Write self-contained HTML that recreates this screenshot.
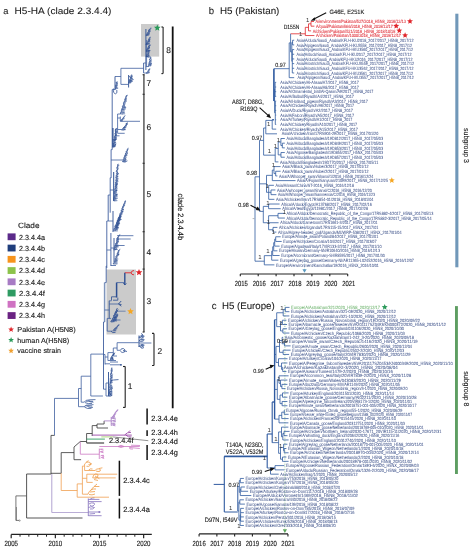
<!DOCTYPE html><html><head><meta charset="utf-8"><style>html,body{margin:0;padding:0;background:#fff;}svg{display:block;}</style></head><body><svg width="473" height="550" viewBox="0 0 473 550" font-family="&quot;Liberation Sans&quot;, Arial, sans-serif" text-rendering="geometricPrecision"><rect width="473" height="550" fill="#ffffff"/><text x="3.2" y="13.7" font-size="9.3" fill="#1a1a1a" stroke="#1a1a1a" stroke-width="0.08">a</text><text x="14.6" y="13.7" font-size="9.3" fill="#1a1a1a" textLength="96.8" lengthAdjust="spacingAndGlyphs" stroke="#1a1a1a" stroke-width="0.08">H5-HA (clade 2.3.4.4)</text><rect x="141" y="24" width="18.2" height="32.6" fill="#cbcbcb"/><rect x="106.5" y="269.5" width="29.5" height="65" fill="#cbcbcb"/><line x1="143.9" y1="74.7" x2="143.9" y2="332" stroke="#6e6e6e" stroke-width="1.7"/><line x1="142.6" y1="74.7" x2="144.6" y2="74.7" stroke="#333" stroke-width="1.2"/><line x1="142.6" y1="94.3" x2="144.6" y2="94.3" stroke="#333" stroke-width="1.2"/><line x1="142.6" y1="163.3" x2="144.6" y2="163.3" stroke="#333" stroke-width="1.2"/><line x1="142.6" y1="231.7" x2="144.6" y2="231.7" stroke="#333" stroke-width="1.2"/><line x1="142.6" y1="269.1" x2="144.6" y2="269.1" stroke="#333" stroke-width="1.2"/><line x1="142.6" y1="332" x2="144.6" y2="332" stroke="#333" stroke-width="1.2"/><text x="146.6" y="86.2" font-size="8.4" fill="#1a1a1a" stroke="#1a1a1a" stroke-width="0.1">7</text><text x="146.6" y="129.5" font-size="8.4" fill="#1a1a1a" stroke="#1a1a1a" stroke-width="0.1">6</text><text x="146.6" y="197" font-size="8.4" fill="#1a1a1a" stroke="#1a1a1a" stroke-width="0.1">5</text><text x="146.6" y="255.4" font-size="8.4" fill="#1a1a1a" stroke="#1a1a1a" stroke-width="0.1">4</text><text x="146.6" y="303.5" font-size="8.4" fill="#1a1a1a" stroke="#1a1a1a" stroke-width="0.1">3</text><line x1="163.1" y1="27" x2="163.1" y2="73.6" stroke="#222" stroke-width="1.1"/><line x1="161.4" y1="27" x2="163.1" y2="27" stroke="#222" stroke-width="1.1"/><line x1="161.4" y1="73.6" x2="163.1" y2="73.6" stroke="#222" stroke-width="1.1"/><text x="166.3" y="52.8" font-size="8.4" fill="#1a1a1a" stroke="#1a1a1a" stroke-width="0.1">8</text><line x1="154" y1="333.4" x2="154" y2="365.5" stroke="#222" stroke-width="1.1"/><line x1="152" y1="333.4" x2="154" y2="333.4" stroke="#222" stroke-width="1.1"/><line x1="152" y1="365.5" x2="154" y2="365.5" stroke="#222" stroke-width="1.1"/><text x="157.4" y="353.8" font-size="8.4" fill="#1a1a1a" stroke="#1a1a1a" stroke-width="0.1">2</text><line x1="125.2" y1="366.5" x2="125.2" y2="407.4" stroke="#222" stroke-width="1.1"/><line x1="123" y1="366.5" x2="125.2" y2="366.5" stroke="#222" stroke-width="1.1"/><line x1="123" y1="407.4" x2="125.2" y2="407.4" stroke="#222" stroke-width="1.1"/><text x="127.8" y="389.1" font-size="8.4" fill="#1a1a1a" stroke="#1a1a1a" stroke-width="0.1">1</text><line x1="172.7" y1="26.4" x2="172.7" y2="408.2" stroke="#111" stroke-width="1.8"/><text x="0" y="0" font-size="7.8" fill="#1a1a1a" textLength="46.4" lengthAdjust="spacingAndGlyphs" stroke="#1a1a1a" stroke-width="0.15" transform="translate(178.2 193.6) rotate(90)">clade 2.3.4.4b</text><line x1="147.1" y1="408.6" x2="147.1" y2="424.4" stroke="#111" stroke-width="1.5"/><line x1="147.1" y1="430.3" x2="147.1" y2="436" stroke="#111" stroke-width="1.5"/><line x1="147.1" y1="445.1" x2="147.1" y2="459.9" stroke="#111" stroke-width="1.5"/><line x1="119.4" y1="460.7" x2="119.4" y2="495.9" stroke="#111" stroke-width="1.5"/><line x1="119.4" y1="498.6" x2="119.4" y2="518.5" stroke="#111" stroke-width="1.5"/><text x="151.3" y="421.2" font-size="7.6" fill="#1a1a1a" textLength="26.6" lengthAdjust="spacingAndGlyphs" stroke="#1a1a1a" stroke-width="0.15">2.3.4.4e</text><text x="151.3" y="434.5" font-size="7.6" fill="#1a1a1a" textLength="26.6" lengthAdjust="spacingAndGlyphs" stroke="#1a1a1a" stroke-width="0.15">2.3.4.4h</text><text x="151.3" y="444.1" font-size="7.6" fill="#1a1a1a" textLength="26.6" lengthAdjust="spacingAndGlyphs" stroke="#1a1a1a" stroke-width="0.15">2.3.4.4d</text><text x="151.3" y="454.5" font-size="7.6" fill="#1a1a1a" textLength="26.6" lengthAdjust="spacingAndGlyphs" stroke="#1a1a1a" stroke-width="0.15">2.3.4.4g</text><text x="123.2" y="483.1" font-size="7.6" fill="#1a1a1a" textLength="26.6" lengthAdjust="spacingAndGlyphs" stroke="#1a1a1a" stroke-width="0.15">2.3.4.4c</text><text x="123.2" y="511.7" font-size="7.6" fill="#1a1a1a" textLength="26.6" lengthAdjust="spacingAndGlyphs" stroke="#1a1a1a" stroke-width="0.15">2.3.4.4a</text><line x1="112.8" y1="436.9" x2="148.3" y2="440.7" stroke="#666" stroke-width="0.7"/><line x1="145.9" y1="29" x2="145.9" y2="70" stroke="#2d4f92" stroke-width="0.9"/><line x1="146.6" y1="40" x2="146.6" y2="66" stroke="#3f5f9f" stroke-width="0.7"/><line x1="146.26" y1="35.5" x2="149.54" y2="34.76" stroke="#2d4f92" stroke-width="0.6375"/><line x1="146.26" y1="35.5" x2="146.87" y2="34.5" stroke="#2d4f92" stroke-width="0.75"/><line x1="146.87" y1="34.5" x2="149.28" y2="34.27" stroke="#2d4f92" stroke-width="0.6375"/><line x1="146.87" y1="34.5" x2="147.06" y2="33.5" stroke="#2d4f92" stroke-width="0.75"/><line x1="147.06" y1="33.5" x2="149.99" y2="33.35" stroke="#2d4f92" stroke-width="0.6375"/><line x1="148.23" y1="33.82" x2="149.13" y2="33.1" stroke="#2d4f92" stroke-width="0.6000000000000001"/><line x1="147.06" y1="33.5" x2="147.69" y2="32.5" stroke="#2d4f92" stroke-width="0.75"/><line x1="147.69" y1="32.5" x2="150.06" y2="32.33" stroke="#2d4f92" stroke-width="0.6375"/><line x1="148.64" y1="32.27" x2="149.26" y2="31.22" stroke="#2d4f92" stroke-width="0.6000000000000001"/><line x1="147.69" y1="32.5" x2="148.52" y2="31.5" stroke="#2d4f92" stroke-width="0.75"/><line x1="148.52" y1="31.5" x2="150.88" y2="31.18" stroke="#2d4f92" stroke-width="0.6375"/><line x1="149.46" y1="31.41" x2="150.41" y2="30.51" stroke="#2d4f92" stroke-width="0.6000000000000001"/><line x1="148.52" y1="31.5" x2="148.52" y2="30.5" stroke="#2d4f92" stroke-width="0.75"/><line x1="148.52" y1="30.5" x2="150.08" y2="30.22" stroke="#2d4f92" stroke-width="0.6375"/><line x1="149.15" y1="30.75" x2="149.66" y2="29.94" stroke="#2d4f92" stroke-width="0.6000000000000001"/><line x1="148.52" y1="30.5" x2="149.18" y2="29.5" stroke="#2d4f92" stroke-width="0.75"/><line x1="149.18" y1="29.5" x2="149.98" y2="29.45" stroke="#2d4f92" stroke-width="0.6375"/><line x1="149.5" y1="29.72" x2="150.8" y2="29.1" stroke="#2d4f92" stroke-width="0.6000000000000001"/><line x1="149.18" y1="29.5" x2="150.12" y2="28.5" stroke="#2d4f92" stroke-width="0.75"/><line x1="150.12" y1="28.5" x2="150.92" y2="27.8" stroke="#2d4f92" stroke-width="0.6375"/><line x1="150.44" y1="28.94" x2="151.7" y2="28.03" stroke="#2d4f92" stroke-width="0.6000000000000001"/><line x1="145.9" y1="35" x2="148.5" y2="35" stroke="#2d4f92" stroke-width="0.8"/><line x1="145.92" y1="44.5" x2="149.3" y2="43.93" stroke="#2d4f92" stroke-width="0.6375"/><line x1="145.92" y1="44.5" x2="146.58" y2="43.5" stroke="#2d4f92" stroke-width="0.75"/><line x1="146.58" y1="43.5" x2="149.87" y2="43.47" stroke="#2d4f92" stroke-width="0.6375"/><line x1="146.58" y1="43.5" x2="147.24" y2="42.5" stroke="#2d4f92" stroke-width="0.75"/><line x1="147.24" y1="42.5" x2="150.25" y2="41.91" stroke="#2d4f92" stroke-width="0.6375"/><line x1="148.44" y1="42.17" x2="149.09" y2="41.14" stroke="#2d4f92" stroke-width="0.6000000000000001"/><line x1="147.24" y1="42.5" x2="147.77" y2="41.5" stroke="#2d4f92" stroke-width="0.75"/><line x1="147.77" y1="41.5" x2="150.14" y2="41.1" stroke="#2d4f92" stroke-width="0.6375"/><line x1="148.71" y1="41.54" x2="149.37" y2="40.68" stroke="#2d4f92" stroke-width="0.6000000000000001"/><line x1="147.77" y1="41.5" x2="148.19" y2="40.5" stroke="#2d4f92" stroke-width="0.75"/><line x1="148.19" y1="40.5" x2="150.05" y2="40.43" stroke="#2d4f92" stroke-width="0.6375"/><line x1="148.93" y1="40.73" x2="149.99" y2="39.75" stroke="#2d4f92" stroke-width="0.6000000000000001"/><line x1="148.19" y1="40.5" x2="148.5" y2="39.5" stroke="#2d4f92" stroke-width="0.75"/><line x1="148.5" y1="39.5" x2="150.33" y2="39.37" stroke="#2d4f92" stroke-width="0.6375"/><line x1="149.23" y1="39.61" x2="150.43" y2="38.92" stroke="#2d4f92" stroke-width="0.6000000000000001"/><line x1="148.5" y1="39.5" x2="149.08" y2="38.5" stroke="#2d4f92" stroke-width="0.75"/><line x1="149.08" y1="38.5" x2="150.37" y2="37.79" stroke="#2d4f92" stroke-width="0.6375"/><line x1="149.08" y1="38.5" x2="149.61" y2="37.5" stroke="#2d4f92" stroke-width="0.75"/><line x1="149.61" y1="37.5" x2="150.77" y2="37.14" stroke="#2d4f92" stroke-width="0.6375"/><line x1="145.9" y1="44" x2="148.5" y2="44" stroke="#2d4f92" stroke-width="0.8"/><line x1="146.58" y1="51.5" x2="150.12" y2="50.91" stroke="#2d4f92" stroke-width="0.6375"/><line x1="148" y1="50.99" x2="149.16" y2="50.58" stroke="#2d4f92" stroke-width="0.6000000000000001"/><line x1="146.58" y1="51.5" x2="146.51" y2="50.57" stroke="#2d4f92" stroke-width="0.75"/><line x1="146.51" y1="50.57" x2="150.45" y2="50.48" stroke="#2d4f92" stroke-width="0.6375"/><line x1="148.09" y1="50.24" x2="149.5" y2="49.92" stroke="#2d4f92" stroke-width="0.6000000000000001"/><line x1="146.51" y1="50.57" x2="146.78" y2="49.64" stroke="#2d4f92" stroke-width="0.75"/><line x1="146.78" y1="49.64" x2="148.67" y2="49.22" stroke="#2d4f92" stroke-width="0.6375"/><line x1="147.54" y1="49.53" x2="148.84" y2="48.58" stroke="#2d4f92" stroke-width="0.6000000000000001"/><line x1="146.78" y1="49.64" x2="147.33" y2="48.71" stroke="#2d4f92" stroke-width="0.75"/><line x1="147.33" y1="48.71" x2="149.99" y2="48.05" stroke="#2d4f92" stroke-width="0.6375"/><line x1="148.39" y1="48.56" x2="149.53" y2="47.41" stroke="#2d4f92" stroke-width="0.6000000000000001"/><line x1="147.33" y1="48.71" x2="147.89" y2="47.79" stroke="#2d4f92" stroke-width="0.75"/><line x1="147.89" y1="47.79" x2="149.61" y2="47.56" stroke="#2d4f92" stroke-width="0.6375"/><line x1="148.58" y1="48.37" x2="150.06" y2="47.26" stroke="#2d4f92" stroke-width="0.6000000000000001"/><line x1="147.89" y1="47.79" x2="148.22" y2="46.86" stroke="#2d4f92" stroke-width="0.75"/><line x1="148.22" y1="46.86" x2="149.72" y2="46.47" stroke="#2d4f92" stroke-width="0.6375"/><line x1="148.82" y1="46.76" x2="149.6" y2="46.37" stroke="#2d4f92" stroke-width="0.6000000000000001"/><line x1="148.22" y1="46.86" x2="148.94" y2="45.93" stroke="#2d4f92" stroke-width="0.75"/><line x1="148.94" y1="45.93" x2="150.26" y2="45.37" stroke="#2d4f92" stroke-width="0.6375"/><line x1="149.47" y1="45.91" x2="151.06" y2="44.72" stroke="#2d4f92" stroke-width="0.6000000000000001"/><line x1="148.94" y1="45.93" x2="149.05" y2="45" stroke="#2d4f92" stroke-width="0.75"/><line x1="149.05" y1="45" x2="150.02" y2="44.77" stroke="#2d4f92" stroke-width="0.6375"/><line x1="145.9" y1="51" x2="148.5" y2="51" stroke="#2d4f92" stroke-width="0.8"/><line x1="146.57" y1="57" x2="150.85" y2="56.82" stroke="#2d4f92" stroke-width="0.6375"/><line x1="148.28" y1="57.26" x2="149.67" y2="56.94" stroke="#2d4f92" stroke-width="0.6000000000000001"/><line x1="146.57" y1="57" x2="146.32" y2="56.08" stroke="#2d4f92" stroke-width="0.75"/><line x1="146.32" y1="56.08" x2="149.59" y2="55.56" stroke="#2d4f92" stroke-width="0.6375"/><line x1="147.63" y1="56.26" x2="149.07" y2="55.43" stroke="#2d4f92" stroke-width="0.6000000000000001"/><line x1="146.32" y1="56.08" x2="146.88" y2="55.17" stroke="#2d4f92" stroke-width="0.75"/><line x1="146.88" y1="55.17" x2="149.33" y2="54.66" stroke="#2d4f92" stroke-width="0.6375"/><line x1="147.86" y1="55.13" x2="148.95" y2="54.59" stroke="#2d4f92" stroke-width="0.6000000000000001"/><line x1="146.88" y1="55.17" x2="147.09" y2="54.25" stroke="#2d4f92" stroke-width="0.75"/><line x1="147.09" y1="54.25" x2="148.95" y2="53.77" stroke="#2d4f92" stroke-width="0.6375"/><line x1="147.09" y1="54.25" x2="148" y2="53.33" stroke="#2d4f92" stroke-width="0.75"/><line x1="148" y1="53.33" x2="149.46" y2="52.59" stroke="#2d4f92" stroke-width="0.6375"/><line x1="148.58" y1="53.92" x2="149.3" y2="52.87" stroke="#2d4f92" stroke-width="0.6000000000000001"/><line x1="148" y1="53.33" x2="147.75" y2="52.42" stroke="#2d4f92" stroke-width="0.75"/><line x1="147.75" y1="52.42" x2="149.28" y2="51.98" stroke="#2d4f92" stroke-width="0.6375"/><line x1="147.75" y1="52.42" x2="148.83" y2="51.5" stroke="#2d4f92" stroke-width="0.75"/><line x1="148.83" y1="51.5" x2="149.37" y2="51.08" stroke="#2d4f92" stroke-width="0.6375"/><line x1="149.05" y1="51.35" x2="149.71" y2="50.91" stroke="#2d4f92" stroke-width="0.6000000000000001"/><line x1="145.9" y1="56.5" x2="148.5" y2="56.5" stroke="#2d4f92" stroke-width="0.8"/><line x1="148.8" y1="66" x2="151.56" y2="65.24" stroke="#2d4f92" stroke-width="0.6375"/><line x1="149.91" y1="66.32" x2="150.77" y2="65.87" stroke="#2d4f92" stroke-width="0.6000000000000001"/><line x1="148.8" y1="66" x2="148.53" y2="65.2" stroke="#2d4f92" stroke-width="0.75"/><line x1="148.53" y1="65.2" x2="151.06" y2="64.67" stroke="#2d4f92" stroke-width="0.6375"/><line x1="149.54" y1="64.8" x2="150.52" y2="64.16" stroke="#2d4f92" stroke-width="0.6000000000000001"/><line x1="148.53" y1="65.2" x2="148.77" y2="64.4" stroke="#2d4f92" stroke-width="0.75"/><line x1="148.77" y1="64.4" x2="151.83" y2="64.22" stroke="#2d4f92" stroke-width="0.6375"/><line x1="148.77" y1="64.4" x2="149.04" y2="63.6" stroke="#2d4f92" stroke-width="0.75"/><line x1="149.04" y1="63.6" x2="151.85" y2="63.18" stroke="#2d4f92" stroke-width="0.6375"/><line x1="150.16" y1="64.12" x2="151.76" y2="63.25" stroke="#2d4f92" stroke-width="0.6000000000000001"/><line x1="149.04" y1="63.6" x2="148.79" y2="62.8" stroke="#2d4f92" stroke-width="0.75"/><line x1="148.79" y1="62.8" x2="151.21" y2="62.1" stroke="#2d4f92" stroke-width="0.6375"/><line x1="148.79" y1="62.8" x2="149.63" y2="62" stroke="#2d4f92" stroke-width="0.75"/><line x1="149.63" y1="62" x2="151.46" y2="61.57" stroke="#2d4f92" stroke-width="0.6375"/><line x1="149.63" y1="62" x2="149.61" y2="61.2" stroke="#2d4f92" stroke-width="0.75"/><line x1="149.61" y1="61.2" x2="151.5" y2="60.79" stroke="#2d4f92" stroke-width="0.6375"/><line x1="149.61" y1="61.2" x2="149.92" y2="60.4" stroke="#2d4f92" stroke-width="0.75"/><line x1="149.92" y1="60.4" x2="151.75" y2="59.84" stroke="#2d4f92" stroke-width="0.6375"/><line x1="150.65" y1="60.3" x2="151.47" y2="59.77" stroke="#2d4f92" stroke-width="0.6000000000000001"/><line x1="149.92" y1="60.4" x2="149.4" y2="59.6" stroke="#2d4f92" stroke-width="0.75"/><line x1="149.4" y1="59.6" x2="150.47" y2="58.97" stroke="#2d4f92" stroke-width="0.6375"/><line x1="149.4" y1="59.6" x2="150.22" y2="58.8" stroke="#2d4f92" stroke-width="0.75"/><line x1="150.22" y1="58.8" x2="150.84" y2="58.65" stroke="#2d4f92" stroke-width="0.6375"/><line x1="150.47" y1="59.24" x2="151.32" y2="58.29" stroke="#2d4f92" stroke-width="0.6000000000000001"/><line x1="150.22" y1="58.8" x2="149.96" y2="58" stroke="#2d4f92" stroke-width="0.75"/><line x1="149.96" y1="58" x2="151.04" y2="57.47" stroke="#2d4f92" stroke-width="0.6375"/><line x1="150.39" y1="58.16" x2="151.28" y2="56.98" stroke="#2d4f92" stroke-width="0.6000000000000001"/><line x1="145.9" y1="66.5" x2="149" y2="66.5" stroke="#3f5f9f" stroke-width="0.8"/><line x1="143.6" y1="63" x2="143.6" y2="73" stroke="#3f5f9f" stroke-width="0.9"/><line x1="143.6" y1="63" x2="145.9" y2="63" stroke="#3f5f9f" stroke-width="0.8"/><line x1="143.6" y1="73" x2="147" y2="73" stroke="#3f5f9f" stroke-width="0.8"/><line x1="146.67" y1="73.5" x2="149.52" y2="72.75" stroke="#2d4f92" stroke-width="0.6375"/><line x1="146.67" y1="73.5" x2="146.75" y2="72.6" stroke="#2d4f92" stroke-width="0.75"/><line x1="146.75" y1="72.6" x2="149.64" y2="72.45" stroke="#2d4f92" stroke-width="0.6375"/><line x1="146.75" y1="72.6" x2="147.59" y2="71.7" stroke="#2d4f92" stroke-width="0.75"/><line x1="147.59" y1="71.7" x2="149.63" y2="71.15" stroke="#2d4f92" stroke-width="0.6375"/><line x1="147.59" y1="71.7" x2="148.12" y2="70.8" stroke="#2d4f92" stroke-width="0.75"/><line x1="148.12" y1="70.8" x2="149.39" y2="70.58" stroke="#2d4f92" stroke-width="0.6375"/><line x1="148.12" y1="70.8" x2="148.56" y2="69.9" stroke="#2d4f92" stroke-width="0.75"/><line x1="148.56" y1="69.9" x2="149.96" y2="69.76" stroke="#2d4f92" stroke-width="0.6375"/><line x1="149.12" y1="69.34" x2="150.43" y2="68.95" stroke="#2d4f92" stroke-width="0.6000000000000001"/><line x1="148.56" y1="69.9" x2="149.25" y2="69" stroke="#2d4f92" stroke-width="0.75"/><line x1="149.25" y1="69" x2="150" y2="68.56" stroke="#2d4f92" stroke-width="0.6375"/><line x1="120.9" y1="68.3" x2="143.6" y2="68.3" stroke="#3f5f9f" stroke-width="0.8"/><line x1="120.9" y1="68.3" x2="120.9" y2="84.4" stroke="#3f5f9f" stroke-width="0.8"/><line x1="120.9" y1="84.4" x2="128.3" y2="84.4" stroke="#3f5f9f" stroke-width="0.8"/><line x1="128.6" y1="75" x2="128.6" y2="87.5" stroke="#2d4f92" stroke-width="0.9"/><line x1="128.39" y1="83" x2="131.05" y2="82.88" stroke="#2d4f92" stroke-width="0.6375"/><line x1="129.45" y1="82.88" x2="130.96" y2="81.86" stroke="#2d4f92" stroke-width="0.6000000000000001"/><line x1="128.39" y1="83" x2="129.1" y2="82.2" stroke="#2d4f92" stroke-width="0.75"/><line x1="129.1" y1="82.2" x2="131.87" y2="81.98" stroke="#2d4f92" stroke-width="0.6375"/><line x1="130.21" y1="81.73" x2="130.94" y2="80.59" stroke="#2d4f92" stroke-width="0.6000000000000001"/><line x1="129.1" y1="82.2" x2="129.44" y2="81.4" stroke="#2d4f92" stroke-width="0.75"/><line x1="129.44" y1="81.4" x2="133.03" y2="81.25" stroke="#2d4f92" stroke-width="0.6375"/><line x1="130.88" y1="81.55" x2="132.18" y2="80.48" stroke="#2d4f92" stroke-width="0.6000000000000001"/><line x1="129.44" y1="81.4" x2="129.77" y2="80.6" stroke="#2d4f92" stroke-width="0.75"/><line x1="129.77" y1="80.6" x2="132" y2="80.06" stroke="#2d4f92" stroke-width="0.6375"/><line x1="129.77" y1="80.6" x2="129.5" y2="79.8" stroke="#2d4f92" stroke-width="0.75"/><line x1="129.5" y1="79.8" x2="131.53" y2="79.05" stroke="#2d4f92" stroke-width="0.6375"/><line x1="129.5" y1="79.8" x2="130.09" y2="79" stroke="#2d4f92" stroke-width="0.75"/><line x1="130.09" y1="79" x2="132.36" y2="78.54" stroke="#2d4f92" stroke-width="0.6375"/><line x1="130.09" y1="79" x2="130.62" y2="78.2" stroke="#2d4f92" stroke-width="0.75"/><line x1="130.62" y1="78.2" x2="132.41" y2="77.72" stroke="#2d4f92" stroke-width="0.6375"/><line x1="131.34" y1="77.79" x2="132.17" y2="76.76" stroke="#2d4f92" stroke-width="0.6000000000000001"/><line x1="130.62" y1="78.2" x2="130.26" y2="77.4" stroke="#2d4f92" stroke-width="0.75"/><line x1="130.26" y1="77.4" x2="131.72" y2="77.18" stroke="#2d4f92" stroke-width="0.6375"/><line x1="130.26" y1="77.4" x2="130.9" y2="76.6" stroke="#2d4f92" stroke-width="0.75"/><line x1="130.9" y1="76.6" x2="132.57" y2="76.44" stroke="#2d4f92" stroke-width="0.6375"/><line x1="131.57" y1="76.24" x2="132.76" y2="75.69" stroke="#2d4f92" stroke-width="0.6000000000000001"/><line x1="130.9" y1="76.6" x2="131.09" y2="75.8" stroke="#2d4f92" stroke-width="0.75"/><line x1="131.09" y1="75.8" x2="132.06" y2="75.35" stroke="#2d4f92" stroke-width="0.6375"/><line x1="131.09" y1="75.8" x2="131.18" y2="75" stroke="#2d4f92" stroke-width="0.75"/><line x1="131.18" y1="75" x2="131.76" y2="74.39" stroke="#2d4f92" stroke-width="0.6375"/><path d="M128.8 76 L133.4 79.5 L128.8 81" stroke="#2d4f92" stroke-width="0.7" fill="none"/><line x1="115" y1="76.5" x2="120.9" y2="76.5" stroke="#3f5f9f" stroke-width="0.8"/><line x1="115" y1="76.5" x2="115" y2="90" stroke="#2d4f92" stroke-width="0.9"/><line x1="115.1" y1="89" x2="118.22" y2="88.25" stroke="#2d4f92" stroke-width="0.6375"/><line x1="115.1" y1="89" x2="115.5" y2="88.22" stroke="#2d4f92" stroke-width="0.75"/><line x1="115.5" y1="88.22" x2="117.37" y2="87.47" stroke="#2d4f92" stroke-width="0.6375"/><line x1="115.5" y1="88.22" x2="115.65" y2="87.44" stroke="#2d4f92" stroke-width="0.75"/><line x1="115.65" y1="87.44" x2="117.47" y2="87.25" stroke="#2d4f92" stroke-width="0.6375"/><line x1="115.65" y1="87.44" x2="115.56" y2="86.67" stroke="#2d4f92" stroke-width="0.75"/><line x1="115.56" y1="86.67" x2="116.94" y2="86.44" stroke="#2d4f92" stroke-width="0.6375"/><line x1="115.56" y1="86.67" x2="115.88" y2="85.89" stroke="#2d4f92" stroke-width="0.75"/><line x1="115.88" y1="85.89" x2="117.69" y2="85.78" stroke="#2d4f92" stroke-width="0.6375"/><line x1="115.88" y1="85.89" x2="115.53" y2="85.11" stroke="#2d4f92" stroke-width="0.75"/><line x1="115.53" y1="85.11" x2="117.17" y2="84.94" stroke="#2d4f92" stroke-width="0.6375"/><line x1="116.19" y1="85.69" x2="117.65" y2="85.13" stroke="#2d4f92" stroke-width="0.6000000000000001"/><line x1="115.53" y1="85.11" x2="116.37" y2="84.33" stroke="#2d4f92" stroke-width="0.75"/><line x1="116.37" y1="84.33" x2="117.93" y2="84.17" stroke="#2d4f92" stroke-width="0.6375"/><line x1="116.37" y1="84.33" x2="116.32" y2="83.56" stroke="#2d4f92" stroke-width="0.75"/><line x1="116.32" y1="83.56" x2="117.96" y2="83.32" stroke="#2d4f92" stroke-width="0.6375"/><line x1="116.97" y1="83.15" x2="117.64" y2="82.8" stroke="#2d4f92" stroke-width="0.6000000000000001"/><line x1="116.32" y1="83.56" x2="116.17" y2="82.78" stroke="#2d4f92" stroke-width="0.75"/><line x1="116.17" y1="82.78" x2="116.79" y2="82.24" stroke="#2d4f92" stroke-width="0.6375"/><line x1="116.42" y1="82.55" x2="117.82" y2="81.82" stroke="#2d4f92" stroke-width="0.6000000000000001"/><line x1="116.17" y1="82.78" x2="116.35" y2="82" stroke="#2d4f92" stroke-width="0.75"/><line x1="116.35" y1="82" x2="117.32" y2="81.95" stroke="#2d4f92" stroke-width="0.6375"/><path d="M113.4 88.5 Q113 93.5 115.5 93.8 Q117.6 93.6 116.8 90" stroke="#2d4f92" stroke-width="0.8" fill="none"/><line x1="112.2" y1="89.6" x2="115" y2="89.6" stroke="#3f5f9f" stroke-width="0.8"/><line x1="112.2" y1="89.6" x2="112.2" y2="149.6" stroke="#3f5f9f" stroke-width="0.9"/><line x1="120.53" y1="114" x2="125.11" y2="113.79" stroke="#2d4f92" stroke-width="0.6375"/><line x1="122.37" y1="114.2" x2="123.38" y2="113.21" stroke="#2d4f92" stroke-width="0.6000000000000001"/><line x1="120.53" y1="114" x2="120.5" y2="113.08" stroke="#2d4f92" stroke-width="0.75"/><line x1="120.5" y1="113.08" x2="124.61" y2="112.44" stroke="#2d4f92" stroke-width="0.6375"/><line x1="120.5" y1="113.08" x2="120.83" y2="112.16" stroke="#2d4f92" stroke-width="0.75"/><line x1="120.83" y1="112.16" x2="124.66" y2="112.01" stroke="#2d4f92" stroke-width="0.6375"/><line x1="120.83" y1="112.16" x2="121.44" y2="111.24" stroke="#2d4f92" stroke-width="0.75"/><line x1="121.44" y1="111.24" x2="124.72" y2="110.69" stroke="#2d4f92" stroke-width="0.6375"/><line x1="121.44" y1="111.24" x2="121.37" y2="110.32" stroke="#2d4f92" stroke-width="0.75"/><line x1="121.37" y1="110.32" x2="124.23" y2="109.68" stroke="#2d4f92" stroke-width="0.6375"/><line x1="122.51" y1="109.83" x2="123.23" y2="108.96" stroke="#2d4f92" stroke-width="0.6000000000000001"/><line x1="121.37" y1="110.32" x2="121.63" y2="109.4" stroke="#2d4f92" stroke-width="0.75"/><line x1="121.63" y1="109.4" x2="125.55" y2="109.24" stroke="#2d4f92" stroke-width="0.6375"/><line x1="121.63" y1="109.4" x2="121.99" y2="108.48" stroke="#2d4f92" stroke-width="0.75"/><line x1="121.99" y1="108.48" x2="125.93" y2="108.07" stroke="#2d4f92" stroke-width="0.6375"/><line x1="121.99" y1="108.48" x2="122.56" y2="107.56" stroke="#2d4f92" stroke-width="0.75"/><line x1="122.56" y1="107.56" x2="126.18" y2="107.54" stroke="#2d4f92" stroke-width="0.6375"/><line x1="124.01" y1="107.68" x2="124.84" y2="106.85" stroke="#2d4f92" stroke-width="0.6000000000000001"/><line x1="122.56" y1="107.56" x2="122.37" y2="106.64" stroke="#2d4f92" stroke-width="0.75"/><line x1="122.37" y1="106.64" x2="125.54" y2="106.55" stroke="#2d4f92" stroke-width="0.6375"/><line x1="122.37" y1="106.64" x2="122.85" y2="105.72" stroke="#2d4f92" stroke-width="0.75"/><line x1="122.85" y1="105.72" x2="125.01" y2="105.61" stroke="#2d4f92" stroke-width="0.6375"/><line x1="123.71" y1="106.16" x2="124.98" y2="105.85" stroke="#2d4f92" stroke-width="0.6000000000000001"/><line x1="122.85" y1="105.72" x2="123.52" y2="104.8" stroke="#2d4f92" stroke-width="0.75"/><line x1="123.52" y1="104.8" x2="125.25" y2="104.08" stroke="#2d4f92" stroke-width="0.6375"/><line x1="123.52" y1="104.8" x2="123.44" y2="103.88" stroke="#2d4f92" stroke-width="0.75"/><line x1="123.44" y1="103.88" x2="125.45" y2="103.78" stroke="#2d4f92" stroke-width="0.6375"/><line x1="123.44" y1="103.88" x2="123.54" y2="102.96" stroke="#2d4f92" stroke-width="0.75"/><line x1="123.54" y1="102.96" x2="125.72" y2="102.64" stroke="#2d4f92" stroke-width="0.6375"/><line x1="123.54" y1="102.96" x2="124" y2="102.04" stroke="#2d4f92" stroke-width="0.75"/><line x1="124" y1="102.04" x2="126.55" y2="101.5" stroke="#2d4f92" stroke-width="0.6375"/><line x1="124" y1="102.04" x2="124.46" y2="101.12" stroke="#2d4f92" stroke-width="0.75"/><line x1="124.46" y1="101.12" x2="126.64" y2="100.71" stroke="#2d4f92" stroke-width="0.6375"/><line x1="124.46" y1="101.12" x2="124.96" y2="100.2" stroke="#2d4f92" stroke-width="0.75"/><line x1="124.96" y1="100.2" x2="126.17" y2="99.6" stroke="#2d4f92" stroke-width="0.6375"/><line x1="125.45" y1="100.19" x2="126.81" y2="99.73" stroke="#2d4f92" stroke-width="0.6000000000000001"/><line x1="124.96" y1="100.2" x2="124.72" y2="99.28" stroke="#2d4f92" stroke-width="0.75"/><line x1="124.72" y1="99.28" x2="126.06" y2="98.99" stroke="#2d4f92" stroke-width="0.6375"/><line x1="125.25" y1="99.22" x2="126.77" y2="98.69" stroke="#2d4f92" stroke-width="0.6000000000000001"/><line x1="124.72" y1="99.28" x2="125.33" y2="98.36" stroke="#2d4f92" stroke-width="0.75"/><line x1="125.33" y1="98.36" x2="126.8" y2="98.15" stroke="#2d4f92" stroke-width="0.6375"/><line x1="125.33" y1="98.36" x2="125.68" y2="97.44" stroke="#2d4f92" stroke-width="0.75"/><line x1="125.68" y1="97.44" x2="126.62" y2="97.2" stroke="#2d4f92" stroke-width="0.6375"/><line x1="125.68" y1="97.44" x2="125.86" y2="96.52" stroke="#2d4f92" stroke-width="0.75"/><line x1="125.86" y1="96.52" x2="127.21" y2="95.78" stroke="#2d4f92" stroke-width="0.6375"/><line x1="126.4" y1="96.64" x2="127.25" y2="95.99" stroke="#2d4f92" stroke-width="0.6000000000000001"/><line x1="125.86" y1="96.52" x2="126.29" y2="95.6" stroke="#2d4f92" stroke-width="0.75"/><line x1="126.29" y1="95.6" x2="127.44" y2="95.37" stroke="#2d4f92" stroke-width="0.6375"/><line x1="126.75" y1="95.54" x2="127.31" y2="95.21" stroke="#2d4f92" stroke-width="0.6000000000000001"/><line x1="117.6" y1="114" x2="117.6" y2="133.3" stroke="#3f5f9f" stroke-width="0.8"/><line x1="117.6" y1="114" x2="120.3" y2="114" stroke="#3f5f9f" stroke-width="0.8"/><line x1="117.6" y1="118" x2="120.3" y2="118" stroke="#3f5f9f" stroke-width="0.8"/><line x1="120.36" y1="121" x2="122.75" y2="120.94" stroke="#2d4f92" stroke-width="0.6375"/><line x1="120.36" y1="121" x2="121.06" y2="120.25" stroke="#2d4f92" stroke-width="0.75"/><line x1="121.06" y1="120.25" x2="122.99" y2="120.22" stroke="#2d4f92" stroke-width="0.6375"/><line x1="121.83" y1="119.73" x2="122.43" y2="119.05" stroke="#2d4f92" stroke-width="0.6000000000000001"/><line x1="121.06" y1="120.25" x2="122.09" y2="119.5" stroke="#2d4f92" stroke-width="0.75"/><line x1="122.09" y1="119.5" x2="123.63" y2="119" stroke="#2d4f92" stroke-width="0.6375"/><line x1="122.09" y1="119.5" x2="122.56" y2="118.75" stroke="#2d4f92" stroke-width="0.75"/><line x1="122.56" y1="118.75" x2="124.64" y2="118.71" stroke="#2d4f92" stroke-width="0.6375"/><line x1="122.56" y1="118.75" x2="123" y2="118" stroke="#2d4f92" stroke-width="0.75"/><line x1="123" y1="118" x2="123.98" y2="117.75" stroke="#2d4f92" stroke-width="0.6375"/><line x1="123" y1="118" x2="123.58" y2="117.25" stroke="#2d4f92" stroke-width="0.75"/><line x1="123.58" y1="117.25" x2="124.83" y2="116.95" stroke="#2d4f92" stroke-width="0.6375"/><line x1="123.58" y1="117.25" x2="124.15" y2="116.5" stroke="#2d4f92" stroke-width="0.75"/><line x1="124.15" y1="116.5" x2="124.71" y2="115.96" stroke="#2d4f92" stroke-width="0.6375"/><line x1="124.38" y1="116.28" x2="125.52" y2="115.57" stroke="#2d4f92" stroke-width="0.6000000000000001"/><line x1="120.3" y1="116.5" x2="120.3" y2="121.3" stroke="#3f5f9f" stroke-width="0.8"/><line x1="120.3" y1="121.3" x2="140" y2="121.3" stroke="#3f5f9f" stroke-width="0.8"/><line x1="117.6" y1="129.5" x2="122" y2="129.5" stroke="#3f5f9f" stroke-width="0.8"/><line x1="121.78" y1="130.2" x2="125.74" y2="129.64" stroke="#2d4f92" stroke-width="0.6375"/><line x1="123.36" y1="129.9" x2="124.96" y2="129.41" stroke="#2d4f92" stroke-width="0.6000000000000001"/><line x1="121.78" y1="130.2" x2="122.67" y2="129.39" stroke="#2d4f92" stroke-width="0.75"/><line x1="122.67" y1="129.39" x2="125.71" y2="128.99" stroke="#2d4f92" stroke-width="0.6375"/><line x1="123.89" y1="129.79" x2="124.49" y2="129.27" stroke="#2d4f92" stroke-width="0.6000000000000001"/><line x1="122.67" y1="129.39" x2="122.73" y2="128.58" stroke="#2d4f92" stroke-width="0.75"/><line x1="122.73" y1="128.58" x2="125.19" y2="127.86" stroke="#2d4f92" stroke-width="0.6375"/><line x1="123.71" y1="128.11" x2="124.5" y2="126.92" stroke="#2d4f92" stroke-width="0.6000000000000001"/><line x1="122.73" y1="128.58" x2="123.32" y2="127.77" stroke="#2d4f92" stroke-width="0.75"/><line x1="123.32" y1="127.77" x2="125.92" y2="127.24" stroke="#2d4f92" stroke-width="0.6375"/><line x1="124.36" y1="128" x2="125.41" y2="127.11" stroke="#2d4f92" stroke-width="0.6000000000000001"/><line x1="123.32" y1="127.77" x2="124.54" y2="126.96" stroke="#2d4f92" stroke-width="0.75"/><line x1="124.54" y1="126.96" x2="126.6" y2="126.9" stroke="#2d4f92" stroke-width="0.6375"/><line x1="124.54" y1="126.96" x2="124.77" y2="126.14" stroke="#2d4f92" stroke-width="0.75"/><line x1="124.77" y1="126.14" x2="126.86" y2="125.68" stroke="#2d4f92" stroke-width="0.6375"/><line x1="124.77" y1="126.14" x2="125.64" y2="125.33" stroke="#2d4f92" stroke-width="0.75"/><line x1="125.64" y1="125.33" x2="127.08" y2="124.63" stroke="#2d4f92" stroke-width="0.6375"/><line x1="126.21" y1="125.65" x2="126.82" y2="124.73" stroke="#2d4f92" stroke-width="0.6000000000000001"/><line x1="125.64" y1="125.33" x2="126.05" y2="124.52" stroke="#2d4f92" stroke-width="0.75"/><line x1="126.05" y1="124.52" x2="127.89" y2="124.12" stroke="#2d4f92" stroke-width="0.6375"/><line x1="126.79" y1="124.1" x2="127.87" y2="123.34" stroke="#2d4f92" stroke-width="0.6000000000000001"/><line x1="126.05" y1="124.52" x2="126.1" y2="123.71" stroke="#2d4f92" stroke-width="0.75"/><line x1="126.1" y1="123.71" x2="127.28" y2="123.15" stroke="#2d4f92" stroke-width="0.6375"/><line x1="126.57" y1="123.4" x2="127.09" y2="122.79" stroke="#2d4f92" stroke-width="0.6000000000000001"/><line x1="126.1" y1="123.71" x2="126.81" y2="122.9" stroke="#2d4f92" stroke-width="0.75"/><line x1="126.81" y1="122.9" x2="127.52" y2="122.23" stroke="#2d4f92" stroke-width="0.6375"/><line x1="117.6" y1="133.3" x2="124.7" y2="133.3" stroke="#3f5f9f" stroke-width="0.8"/><line x1="116" y1="128.9" x2="116" y2="139.8" stroke="#3f5f9f" stroke-width="0.8"/><line x1="116" y1="128.9" x2="117.6" y2="128.9" stroke="#3f5f9f" stroke-width="0.8"/><line x1="116" y1="135.8" x2="119.5" y2="135.8" stroke="#3f5f9f" stroke-width="0.8"/><line x1="112.2" y1="139.8" x2="116" y2="139.8" stroke="#3f5f9f" stroke-width="0.8"/><line x1="112.9" y1="128" x2="112.9" y2="147.5" stroke="#2d4f92" stroke-width="1.3"/><line x1="112.97" y1="147" x2="115.24" y2="146.31" stroke="#2d4f92" stroke-width="0.6375"/><line x1="113.88" y1="147" x2="115.37" y2="146.63" stroke="#2d4f92" stroke-width="0.6000000000000001"/><line x1="112.97" y1="147" x2="113.16" y2="146.25" stroke="#2d4f92" stroke-width="0.75"/><line x1="113.16" y1="146.25" x2="115.58" y2="145.95" stroke="#2d4f92" stroke-width="0.6375"/><line x1="113.16" y1="146.25" x2="113.19" y2="145.5" stroke="#2d4f92" stroke-width="0.75"/><line x1="113.19" y1="145.5" x2="115.74" y2="145.31" stroke="#2d4f92" stroke-width="0.6375"/><line x1="114.21" y1="145.51" x2="115.73" y2="144.68" stroke="#2d4f92" stroke-width="0.6000000000000001"/><line x1="113.19" y1="145.5" x2="113.57" y2="144.75" stroke="#2d4f92" stroke-width="0.75"/><line x1="113.57" y1="144.75" x2="116.12" y2="144.67" stroke="#2d4f92" stroke-width="0.6375"/><line x1="114.59" y1="144.96" x2="115.89" y2="144.28" stroke="#2d4f92" stroke-width="0.6000000000000001"/><line x1="113.57" y1="144.75" x2="113.14" y2="144" stroke="#2d4f92" stroke-width="0.75"/><line x1="113.14" y1="144" x2="115.06" y2="143.78" stroke="#2d4f92" stroke-width="0.6375"/><line x1="113.14" y1="144" x2="113.34" y2="143.25" stroke="#2d4f92" stroke-width="0.75"/><line x1="113.34" y1="143.25" x2="116.36" y2="143.21" stroke="#2d4f92" stroke-width="0.6375"/><line x1="114.55" y1="143.24" x2="115.07" y2="142.56" stroke="#2d4f92" stroke-width="0.6000000000000001"/><line x1="113.34" y1="143.25" x2="114.03" y2="142.5" stroke="#2d4f92" stroke-width="0.75"/><line x1="114.03" y1="142.5" x2="115.97" y2="142.4" stroke="#2d4f92" stroke-width="0.6375"/><line x1="114.03" y1="142.5" x2="114.13" y2="141.75" stroke="#2d4f92" stroke-width="0.75"/><line x1="114.13" y1="141.75" x2="115.63" y2="141.68" stroke="#2d4f92" stroke-width="0.6375"/><line x1="114.13" y1="141.75" x2="113.55" y2="141" stroke="#2d4f92" stroke-width="0.75"/><line x1="113.55" y1="141" x2="115.27" y2="140.26" stroke="#2d4f92" stroke-width="0.6375"/><line x1="114.24" y1="140.88" x2="115.44" y2="140.49" stroke="#2d4f92" stroke-width="0.6000000000000001"/><line x1="113.55" y1="141" x2="114.11" y2="140.25" stroke="#2d4f92" stroke-width="0.75"/><line x1="114.11" y1="140.25" x2="115.94" y2="139.48" stroke="#2d4f92" stroke-width="0.6375"/><line x1="114.84" y1="140.32" x2="116.01" y2="139.88" stroke="#2d4f92" stroke-width="0.6000000000000001"/><line x1="114.11" y1="140.25" x2="113.98" y2="139.5" stroke="#2d4f92" stroke-width="0.75"/><line x1="113.98" y1="139.5" x2="116.67" y2="139.4" stroke="#2d4f92" stroke-width="0.6375"/><line x1="113.98" y1="139.5" x2="114.64" y2="138.75" stroke="#2d4f92" stroke-width="0.75"/><line x1="114.64" y1="138.75" x2="116.39" y2="138.72" stroke="#2d4f92" stroke-width="0.6375"/><line x1="115.34" y1="138.96" x2="116.49" y2="137.96" stroke="#2d4f92" stroke-width="0.6000000000000001"/><line x1="114.64" y1="138.75" x2="114.07" y2="138" stroke="#2d4f92" stroke-width="0.75"/><line x1="114.07" y1="138" x2="116.02" y2="137.53" stroke="#2d4f92" stroke-width="0.6375"/><line x1="114.07" y1="138" x2="114.44" y2="137.25" stroke="#2d4f92" stroke-width="0.75"/><line x1="114.44" y1="137.25" x2="116.46" y2="137.24" stroke="#2d4f92" stroke-width="0.6375"/><line x1="114.44" y1="137.25" x2="114.5" y2="136.5" stroke="#2d4f92" stroke-width="0.75"/><line x1="114.5" y1="136.5" x2="115.83" y2="136.14" stroke="#2d4f92" stroke-width="0.6375"/><line x1="115.03" y1="136.01" x2="116.22" y2="135.61" stroke="#2d4f92" stroke-width="0.6000000000000001"/><line x1="114.5" y1="136.5" x2="114.98" y2="135.75" stroke="#2d4f92" stroke-width="0.75"/><line x1="114.98" y1="135.75" x2="116.49" y2="135.1" stroke="#2d4f92" stroke-width="0.6375"/><line x1="114.98" y1="135.75" x2="115.03" y2="135" stroke="#2d4f92" stroke-width="0.75"/><line x1="115.03" y1="135" x2="116.56" y2="134.66" stroke="#2d4f92" stroke-width="0.6375"/><line x1="115.64" y1="135.56" x2="116.58" y2="134.92" stroke="#2d4f92" stroke-width="0.6000000000000001"/><line x1="115.03" y1="135" x2="115.27" y2="134.25" stroke="#2d4f92" stroke-width="0.75"/><line x1="115.27" y1="134.25" x2="116.72" y2="134.11" stroke="#2d4f92" stroke-width="0.6375"/><line x1="115.27" y1="134.25" x2="114.91" y2="133.5" stroke="#2d4f92" stroke-width="0.75"/><line x1="114.91" y1="133.5" x2="116.42" y2="133.36" stroke="#2d4f92" stroke-width="0.6375"/><line x1="114.91" y1="133.5" x2="115.61" y2="132.75" stroke="#2d4f92" stroke-width="0.75"/><line x1="115.61" y1="132.75" x2="116.44" y2="132.7" stroke="#2d4f92" stroke-width="0.6375"/><line x1="115.94" y1="132.62" x2="117.11" y2="131.45" stroke="#2d4f92" stroke-width="0.6000000000000001"/><line x1="115.61" y1="132.75" x2="115.22" y2="132" stroke="#2d4f92" stroke-width="0.75"/><line x1="115.22" y1="132" x2="116.31" y2="131.89" stroke="#2d4f92" stroke-width="0.6375"/><line x1="115.65" y1="132.07" x2="116.92" y2="131.71" stroke="#2d4f92" stroke-width="0.6000000000000001"/><line x1="115.22" y1="132" x2="115.41" y2="131.25" stroke="#2d4f92" stroke-width="0.75"/><line x1="115.41" y1="131.25" x2="116.7" y2="130.94" stroke="#2d4f92" stroke-width="0.6375"/><line x1="115.41" y1="131.25" x2="115.3" y2="130.5" stroke="#2d4f92" stroke-width="0.75"/><line x1="115.3" y1="130.5" x2="116.5" y2="129.8" stroke="#2d4f92" stroke-width="0.6375"/><line x1="115.3" y1="130.5" x2="115.36" y2="129.75" stroke="#2d4f92" stroke-width="0.75"/><line x1="115.36" y1="129.75" x2="116.24" y2="129.61" stroke="#2d4f92" stroke-width="0.6375"/><line x1="115.36" y1="129.75" x2="115.47" y2="129" stroke="#2d4f92" stroke-width="0.75"/><line x1="115.47" y1="129" x2="116.05" y2="128.99" stroke="#2d4f92" stroke-width="0.6375"/><line x1="115.7" y1="128.95" x2="116.81" y2="128.3" stroke="#2d4f92" stroke-width="0.6000000000000001"/><line x1="111.1" y1="149.6" x2="111.1" y2="178" stroke="#3f5f9f" stroke-width="0.9"/><line x1="111.1" y1="149.6" x2="112.2" y2="149.6" stroke="#3f5f9f" stroke-width="0.8"/><line x1="111.1" y1="160" x2="122.5" y2="160" stroke="#3f5f9f" stroke-width="0.8"/><line x1="122.56" y1="161.6" x2="125.93" y2="161.44" stroke="#2d4f92" stroke-width="0.6375"/><line x1="122.56" y1="161.6" x2="123.09" y2="160.77" stroke="#2d4f92" stroke-width="0.75"/><line x1="123.09" y1="160.77" x2="126.33" y2="160.35" stroke="#2d4f92" stroke-width="0.6375"/><line x1="124.38" y1="160.47" x2="125.93" y2="159.27" stroke="#2d4f92" stroke-width="0.6000000000000001"/><line x1="123.09" y1="160.77" x2="122.79" y2="159.93" stroke="#2d4f92" stroke-width="0.75"/><line x1="122.79" y1="159.93" x2="126.51" y2="159.63" stroke="#2d4f92" stroke-width="0.6375"/><line x1="124.28" y1="160.14" x2="125.28" y2="159.23" stroke="#2d4f92" stroke-width="0.6000000000000001"/><line x1="122.79" y1="159.93" x2="123.61" y2="159.1" stroke="#2d4f92" stroke-width="0.75"/><line x1="123.61" y1="159.1" x2="126.22" y2="158.31" stroke="#2d4f92" stroke-width="0.6375"/><line x1="123.61" y1="159.1" x2="123.9" y2="158.27" stroke="#2d4f92" stroke-width="0.75"/><line x1="123.9" y1="158.27" x2="125.65" y2="158.16" stroke="#2d4f92" stroke-width="0.6375"/><line x1="123.9" y1="158.27" x2="123.98" y2="157.43" stroke="#2d4f92" stroke-width="0.75"/><line x1="123.98" y1="157.43" x2="126.7" y2="157.18" stroke="#2d4f92" stroke-width="0.6375"/><line x1="123.98" y1="157.43" x2="124.41" y2="156.6" stroke="#2d4f92" stroke-width="0.75"/><line x1="124.41" y1="156.6" x2="126.4" y2="155.92" stroke="#2d4f92" stroke-width="0.6375"/><line x1="125.21" y1="156.27" x2="126.16" y2="155.94" stroke="#2d4f92" stroke-width="0.6000000000000001"/><line x1="124.41" y1="156.6" x2="124.78" y2="155.77" stroke="#2d4f92" stroke-width="0.75"/><line x1="124.78" y1="155.77" x2="127.42" y2="155.34" stroke="#2d4f92" stroke-width="0.6375"/><line x1="124.78" y1="155.77" x2="124.83" y2="154.93" stroke="#2d4f92" stroke-width="0.75"/><line x1="124.83" y1="154.93" x2="126.82" y2="154.45" stroke="#2d4f92" stroke-width="0.6375"/><line x1="125.63" y1="155.26" x2="126.23" y2="154.81" stroke="#2d4f92" stroke-width="0.6000000000000001"/><line x1="124.83" y1="154.93" x2="125.69" y2="154.1" stroke="#2d4f92" stroke-width="0.75"/><line x1="125.69" y1="154.1" x2="127.8" y2="153.77" stroke="#2d4f92" stroke-width="0.6375"/><line x1="126.53" y1="153.83" x2="127.71" y2="153.37" stroke="#2d4f92" stroke-width="0.6000000000000001"/><line x1="125.69" y1="154.1" x2="125.46" y2="153.27" stroke="#2d4f92" stroke-width="0.75"/><line x1="125.46" y1="153.27" x2="126.85" y2="152.75" stroke="#2d4f92" stroke-width="0.6375"/><line x1="125.46" y1="153.27" x2="126.32" y2="152.43" stroke="#2d4f92" stroke-width="0.75"/><line x1="126.32" y1="152.43" x2="127.69" y2="152.09" stroke="#2d4f92" stroke-width="0.6375"/><line x1="126.86" y1="152.69" x2="127.73" y2="152.1" stroke="#2d4f92" stroke-width="0.6000000000000001"/><line x1="126.32" y1="152.43" x2="126.08" y2="151.6" stroke="#2d4f92" stroke-width="0.75"/><line x1="126.08" y1="151.6" x2="127.46" y2="151.29" stroke="#2d4f92" stroke-width="0.6375"/><line x1="126.08" y1="151.6" x2="126.89" y2="150.77" stroke="#2d4f92" stroke-width="0.75"/><line x1="126.89" y1="150.77" x2="128" y2="150.04" stroke="#2d4f92" stroke-width="0.6375"/><line x1="126.89" y1="150.77" x2="127.16" y2="149.93" stroke="#2d4f92" stroke-width="0.75"/><line x1="127.16" y1="149.93" x2="128.07" y2="149.56" stroke="#2d4f92" stroke-width="0.6375"/><line x1="127.52" y1="149.84" x2="128.66" y2="149.05" stroke="#2d4f92" stroke-width="0.6000000000000001"/><line x1="127.16" y1="149.93" x2="127.39" y2="149.1" stroke="#2d4f92" stroke-width="0.75"/><line x1="127.39" y1="149.1" x2="128.14" y2="148.33" stroke="#2d4f92" stroke-width="0.6375"/><line x1="127.69" y1="148.54" x2="128.2" y2="147.76" stroke="#2d4f92" stroke-width="0.6000000000000001"/><path d="M122.5 161.6 L125 162.2 L127.5 160.8" stroke="#2d4f92" stroke-width="0.7" fill="none"/><line x1="110.2" y1="177.8" x2="110.2" y2="212.7" stroke="#3f5f9f" stroke-width="0.9"/><line x1="110.2" y1="177.8" x2="111.1" y2="177.8" stroke="#3f5f9f" stroke-width="0.8"/><line x1="113.7" y1="172" x2="113.7" y2="201" stroke="#2d4f92" stroke-width="1.0"/><line x1="113.76" y1="201" x2="117.4" y2="200.63" stroke="#2d4f92" stroke-width="0.6375"/><line x1="113.76" y1="201" x2="113.94" y2="200.27" stroke="#2d4f92" stroke-width="0.75"/><line x1="113.94" y1="200.27" x2="116.61" y2="199.77" stroke="#2d4f92" stroke-width="0.6375"/><line x1="113.94" y1="200.27" x2="113.62" y2="199.54" stroke="#2d4f92" stroke-width="0.75"/><line x1="113.62" y1="199.54" x2="116.1" y2="198.89" stroke="#2d4f92" stroke-width="0.6375"/><line x1="113.62" y1="199.54" x2="113.66" y2="198.81" stroke="#2d4f92" stroke-width="0.75"/><line x1="113.66" y1="198.81" x2="117.81" y2="198.29" stroke="#2d4f92" stroke-width="0.6375"/><line x1="113.66" y1="198.81" x2="113.82" y2="198.08" stroke="#2d4f92" stroke-width="0.75"/><line x1="113.82" y1="198.08" x2="116.14" y2="198.03" stroke="#2d4f92" stroke-width="0.6375"/><line x1="114.75" y1="197.77" x2="115.28" y2="197.05" stroke="#2d4f92" stroke-width="0.6000000000000001"/><line x1="113.82" y1="198.08" x2="114.12" y2="197.35" stroke="#2d4f92" stroke-width="0.75"/><line x1="114.12" y1="197.35" x2="117.59" y2="196.84" stroke="#2d4f92" stroke-width="0.6375"/><line x1="114.12" y1="197.35" x2="114.37" y2="196.62" stroke="#2d4f92" stroke-width="0.75"/><line x1="114.37" y1="196.62" x2="117.05" y2="195.82" stroke="#2d4f92" stroke-width="0.6375"/><line x1="114.37" y1="196.62" x2="114.59" y2="195.89" stroke="#2d4f92" stroke-width="0.75"/><line x1="114.59" y1="195.89" x2="117.59" y2="195.71" stroke="#2d4f92" stroke-width="0.6375"/><line x1="115.79" y1="195.37" x2="117.13" y2="194.71" stroke="#2d4f92" stroke-width="0.6000000000000001"/><line x1="114.59" y1="195.89" x2="114.67" y2="195.16" stroke="#2d4f92" stroke-width="0.75"/><line x1="114.67" y1="195.16" x2="117.7" y2="194.48" stroke="#2d4f92" stroke-width="0.6375"/><line x1="115.88" y1="194.81" x2="117.38" y2="194.09" stroke="#2d4f92" stroke-width="0.6000000000000001"/><line x1="114.67" y1="195.16" x2="114.85" y2="194.43" stroke="#2d4f92" stroke-width="0.75"/><line x1="114.85" y1="194.43" x2="117.14" y2="193.93" stroke="#2d4f92" stroke-width="0.6375"/><line x1="114.85" y1="194.43" x2="114.36" y2="193.7" stroke="#2d4f92" stroke-width="0.75"/><line x1="114.36" y1="193.7" x2="116.41" y2="192.93" stroke="#2d4f92" stroke-width="0.6375"/><line x1="114.36" y1="193.7" x2="114.31" y2="192.97" stroke="#2d4f92" stroke-width="0.75"/><line x1="114.31" y1="192.97" x2="116.34" y2="192.92" stroke="#2d4f92" stroke-width="0.6375"/><line x1="114.31" y1="192.97" x2="114.43" y2="192.24" stroke="#2d4f92" stroke-width="0.75"/><line x1="114.43" y1="192.24" x2="117.08" y2="192.09" stroke="#2d4f92" stroke-width="0.6375"/><line x1="114.43" y1="192.24" x2="114.47" y2="191.51" stroke="#2d4f92" stroke-width="0.75"/><line x1="114.47" y1="191.51" x2="116.91" y2="191.17" stroke="#2d4f92" stroke-width="0.6375"/><line x1="115.44" y1="191.23" x2="117.01" y2="190.21" stroke="#2d4f92" stroke-width="0.6000000000000001"/><line x1="114.47" y1="191.51" x2="114.68" y2="190.78" stroke="#2d4f92" stroke-width="0.75"/><line x1="114.68" y1="190.78" x2="117.42" y2="190.46" stroke="#2d4f92" stroke-width="0.6375"/><line x1="114.68" y1="190.78" x2="115.02" y2="190.05" stroke="#2d4f92" stroke-width="0.75"/><line x1="115.02" y1="190.05" x2="117.45" y2="189.88" stroke="#2d4f92" stroke-width="0.6375"/><line x1="115.99" y1="190.38" x2="116.85" y2="189.81" stroke="#2d4f92" stroke-width="0.6000000000000001"/><line x1="115.02" y1="190.05" x2="114.64" y2="189.32" stroke="#2d4f92" stroke-width="0.75"/><line x1="114.64" y1="189.32" x2="116.69" y2="189.13" stroke="#2d4f92" stroke-width="0.6375"/><line x1="114.64" y1="189.32" x2="114.96" y2="188.59" stroke="#2d4f92" stroke-width="0.75"/><line x1="114.96" y1="188.59" x2="117.66" y2="188.2" stroke="#2d4f92" stroke-width="0.6375"/><line x1="114.96" y1="188.59" x2="115.43" y2="187.86" stroke="#2d4f92" stroke-width="0.75"/><line x1="115.43" y1="187.86" x2="117.16" y2="187.13" stroke="#2d4f92" stroke-width="0.6375"/><line x1="115.43" y1="187.86" x2="115.01" y2="187.13" stroke="#2d4f92" stroke-width="0.75"/><line x1="115.01" y1="187.13" x2="117.18" y2="186.38" stroke="#2d4f92" stroke-width="0.6375"/><line x1="115.87" y1="187.67" x2="117.34" y2="186.83" stroke="#2d4f92" stroke-width="0.6000000000000001"/><line x1="115.01" y1="187.13" x2="115.22" y2="186.4" stroke="#2d4f92" stroke-width="0.75"/><line x1="115.22" y1="186.4" x2="116.71" y2="185.63" stroke="#2d4f92" stroke-width="0.6375"/><line x1="115.81" y1="186.65" x2="116.6" y2="185.6" stroke="#2d4f92" stroke-width="0.6000000000000001"/><line x1="115.22" y1="186.4" x2="115.43" y2="185.67" stroke="#2d4f92" stroke-width="0.75"/><line x1="115.43" y1="185.67" x2="117.17" y2="185.09" stroke="#2d4f92" stroke-width="0.6375"/><line x1="116.13" y1="185.34" x2="117.24" y2="184.28" stroke="#2d4f92" stroke-width="0.6000000000000001"/><line x1="115.43" y1="185.67" x2="115.52" y2="184.94" stroke="#2d4f92" stroke-width="0.75"/><line x1="115.52" y1="184.94" x2="117.8" y2="184.78" stroke="#2d4f92" stroke-width="0.6375"/><line x1="116.43" y1="184.66" x2="117.42" y2="184.31" stroke="#2d4f92" stroke-width="0.6000000000000001"/><line x1="115.52" y1="184.94" x2="115.24" y2="184.21" stroke="#2d4f92" stroke-width="0.75"/><line x1="115.24" y1="184.21" x2="117.28" y2="184.1" stroke="#2d4f92" stroke-width="0.6375"/><line x1="116.06" y1="184.68" x2="117.64" y2="183.79" stroke="#2d4f92" stroke-width="0.6000000000000001"/><line x1="115.24" y1="184.21" x2="115.73" y2="183.48" stroke="#2d4f92" stroke-width="0.75"/><line x1="115.73" y1="183.48" x2="117.56" y2="183.45" stroke="#2d4f92" stroke-width="0.6375"/><line x1="116.46" y1="183.97" x2="117.73" y2="182.81" stroke="#2d4f92" stroke-width="0.6000000000000001"/><line x1="115.73" y1="183.48" x2="115.27" y2="182.75" stroke="#2d4f92" stroke-width="0.75"/><line x1="115.27" y1="182.75" x2="117.36" y2="182.17" stroke="#2d4f92" stroke-width="0.6375"/><line x1="116.1" y1="183.35" x2="116.69" y2="182.56" stroke="#2d4f92" stroke-width="0.6000000000000001"/><line x1="115.27" y1="182.75" x2="115.91" y2="182.02" stroke="#2d4f92" stroke-width="0.75"/><line x1="115.91" y1="182.02" x2="118.36" y2="181.46" stroke="#2d4f92" stroke-width="0.6375"/><line x1="115.91" y1="182.02" x2="116.13" y2="181.29" stroke="#2d4f92" stroke-width="0.75"/><line x1="116.13" y1="181.29" x2="118.07" y2="180.57" stroke="#2d4f92" stroke-width="0.6375"/><line x1="116.13" y1="181.29" x2="115.81" y2="180.56" stroke="#2d4f92" stroke-width="0.75"/><line x1="115.81" y1="180.56" x2="118.16" y2="180.1" stroke="#2d4f92" stroke-width="0.6375"/><line x1="115.81" y1="180.56" x2="115.85" y2="179.83" stroke="#2d4f92" stroke-width="0.75"/><line x1="115.85" y1="179.83" x2="117.8" y2="179.77" stroke="#2d4f92" stroke-width="0.6375"/><line x1="115.85" y1="179.83" x2="116.41" y2="179.1" stroke="#2d4f92" stroke-width="0.75"/><line x1="116.41" y1="179.1" x2="118.6" y2="178.79" stroke="#2d4f92" stroke-width="0.6375"/><line x1="116.41" y1="179.1" x2="116.16" y2="178.37" stroke="#2d4f92" stroke-width="0.75"/><line x1="116.16" y1="178.37" x2="118.11" y2="178.3" stroke="#2d4f92" stroke-width="0.6375"/><line x1="116.16" y1="178.37" x2="115.79" y2="177.64" stroke="#2d4f92" stroke-width="0.75"/><line x1="115.79" y1="177.64" x2="117.5" y2="177.46" stroke="#2d4f92" stroke-width="0.6375"/><line x1="115.79" y1="177.64" x2="116.24" y2="176.91" stroke="#2d4f92" stroke-width="0.75"/><line x1="116.24" y1="176.91" x2="118.25" y2="176.71" stroke="#2d4f92" stroke-width="0.6375"/><line x1="117.05" y1="176.67" x2="118.29" y2="176.19" stroke="#2d4f92" stroke-width="0.6000000000000001"/><line x1="116.24" y1="176.91" x2="116.05" y2="176.18" stroke="#2d4f92" stroke-width="0.75"/><line x1="116.05" y1="176.18" x2="117.96" y2="175.83" stroke="#2d4f92" stroke-width="0.6375"/><line x1="116.05" y1="176.18" x2="116.25" y2="175.45" stroke="#2d4f92" stroke-width="0.75"/><line x1="116.25" y1="175.45" x2="117.61" y2="175.11" stroke="#2d4f92" stroke-width="0.6375"/><line x1="116.25" y1="175.45" x2="116.8" y2="174.72" stroke="#2d4f92" stroke-width="0.75"/><line x1="116.8" y1="174.72" x2="118.35" y2="174.25" stroke="#2d4f92" stroke-width="0.6375"/><line x1="117.42" y1="174.28" x2="118.46" y2="173.23" stroke="#2d4f92" stroke-width="0.6000000000000001"/><line x1="116.8" y1="174.72" x2="116.82" y2="173.99" stroke="#2d4f92" stroke-width="0.75"/><line x1="116.82" y1="173.99" x2="118.69" y2="173.77" stroke="#2d4f92" stroke-width="0.6375"/><line x1="117.57" y1="173.93" x2="118.37" y2="173.44" stroke="#2d4f92" stroke-width="0.6000000000000001"/><line x1="116.82" y1="173.99" x2="116.54" y2="173.26" stroke="#2d4f92" stroke-width="0.75"/><line x1="116.54" y1="173.26" x2="117.96" y2="173.01" stroke="#2d4f92" stroke-width="0.6375"/><line x1="116.54" y1="173.26" x2="117.07" y2="172.53" stroke="#2d4f92" stroke-width="0.75"/><line x1="117.07" y1="172.53" x2="118.04" y2="172.5" stroke="#2d4f92" stroke-width="0.6375"/><line x1="117.07" y1="172.53" x2="116.39" y2="171.8" stroke="#2d4f92" stroke-width="0.75"/><line x1="116.39" y1="171.8" x2="117.8" y2="171.55" stroke="#2d4f92" stroke-width="0.6375"/><line x1="116.39" y1="171.8" x2="116.45" y2="171.07" stroke="#2d4f92" stroke-width="0.75"/><line x1="116.45" y1="171.07" x2="117.54" y2="171.05" stroke="#2d4f92" stroke-width="0.6375"/><line x1="116.45" y1="171.07" x2="116.7" y2="170.34" stroke="#2d4f92" stroke-width="0.75"/><line x1="116.7" y1="170.34" x2="117.43" y2="169.84" stroke="#2d4f92" stroke-width="0.6375"/><line x1="116.99" y1="170.5" x2="118.21" y2="169.47" stroke="#2d4f92" stroke-width="0.6000000000000001"/><line x1="116.7" y1="170.34" x2="117.35" y2="169.61" stroke="#2d4f92" stroke-width="0.75"/><line x1="117.35" y1="169.61" x2="118.29" y2="169.23" stroke="#2d4f92" stroke-width="0.6375"/><line x1="117.72" y1="169.02" x2="118.74" y2="168.08" stroke="#2d4f92" stroke-width="0.6000000000000001"/><line x1="117.35" y1="169.61" x2="116.8" y2="168.88" stroke="#2d4f92" stroke-width="0.75"/><line x1="116.8" y1="168.88" x2="117.72" y2="168.32" stroke="#2d4f92" stroke-width="0.6375"/><line x1="116.8" y1="168.88" x2="117.22" y2="168.15" stroke="#2d4f92" stroke-width="0.75"/><line x1="117.22" y1="168.15" x2="118.22" y2="167.52" stroke="#2d4f92" stroke-width="0.6375"/><line x1="117.22" y1="168.15" x2="116.87" y2="167.42" stroke="#2d4f92" stroke-width="0.75"/><line x1="116.87" y1="167.42" x2="118.1" y2="167.32" stroke="#2d4f92" stroke-width="0.6375"/><line x1="116.87" y1="167.42" x2="117.38" y2="166.69" stroke="#2d4f92" stroke-width="0.75"/><line x1="117.38" y1="166.69" x2="118.26" y2="166.23" stroke="#2d4f92" stroke-width="0.6375"/><line x1="117.38" y1="166.69" x2="117.59" y2="165.96" stroke="#2d4f92" stroke-width="0.75"/><line x1="117.59" y1="165.96" x2="118.48" y2="165.44" stroke="#2d4f92" stroke-width="0.6375"/><line x1="117.95" y1="166.23" x2="119.35" y2="165.35" stroke="#2d4f92" stroke-width="0.6000000000000001"/><line x1="117.59" y1="165.96" x2="117.6" y2="165.23" stroke="#2d4f92" stroke-width="0.75"/><line x1="117.6" y1="165.23" x2="118.76" y2="164.45" stroke="#2d4f92" stroke-width="0.6375"/><line x1="117.6" y1="165.23" x2="117.53" y2="164.5" stroke="#2d4f92" stroke-width="0.75"/><line x1="117.53" y1="164.5" x2="118.19" y2="163.77" stroke="#2d4f92" stroke-width="0.6375"/><line x1="110.2" y1="190" x2="113.7" y2="190" stroke="#3f5f9f" stroke-width="0.8"/><line x1="108.2" y1="195" x2="108.2" y2="221" stroke="#3f5f9f" stroke-width="0.9"/><line x1="108.2" y1="195" x2="110.2" y2="195" stroke="#3f5f9f" stroke-width="0.8"/><line x1="113" y1="211" x2="113" y2="232" stroke="#2d4f92" stroke-width="0.9"/><line x1="113.48" y1="231" x2="117.86" y2="230.89" stroke="#2d4f92" stroke-width="0.6375"/><line x1="115.23" y1="230.85" x2="116.03" y2="229.82" stroke="#2d4f92" stroke-width="0.6000000000000001"/><line x1="113.48" y1="231" x2="113.99" y2="230.12" stroke="#2d4f92" stroke-width="0.75"/><line x1="113.99" y1="230.12" x2="118.07" y2="229.59" stroke="#2d4f92" stroke-width="0.6375"/><line x1="115.62" y1="230.05" x2="116.3" y2="228.93" stroke="#2d4f92" stroke-width="0.6000000000000001"/><line x1="113.99" y1="230.12" x2="113.82" y2="229.24" stroke="#2d4f92" stroke-width="0.75"/><line x1="113.82" y1="229.24" x2="117.84" y2="228.69" stroke="#2d4f92" stroke-width="0.6375"/><line x1="115.43" y1="229.12" x2="116.86" y2="228.8" stroke="#2d4f92" stroke-width="0.6000000000000001"/><line x1="113.82" y1="229.24" x2="114.16" y2="228.35" stroke="#2d4f92" stroke-width="0.75"/><line x1="114.16" y1="228.35" x2="118.6" y2="228.28" stroke="#2d4f92" stroke-width="0.6375"/><line x1="114.16" y1="228.35" x2="115.21" y2="227.47" stroke="#2d4f92" stroke-width="0.75"/><line x1="115.21" y1="227.47" x2="117.99" y2="227.36" stroke="#2d4f92" stroke-width="0.6375"/><line x1="116.32" y1="227.62" x2="117" y2="226.69" stroke="#2d4f92" stroke-width="0.6000000000000001"/><line x1="115.21" y1="227.47" x2="114.83" y2="226.59" stroke="#2d4f92" stroke-width="0.75"/><line x1="114.83" y1="226.59" x2="117.96" y2="226.27" stroke="#2d4f92" stroke-width="0.6375"/><line x1="116.08" y1="226.7" x2="117.11" y2="226.06" stroke="#2d4f92" stroke-width="0.6000000000000001"/><line x1="114.83" y1="226.59" x2="115.15" y2="225.71" stroke="#2d4f92" stroke-width="0.75"/><line x1="115.15" y1="225.71" x2="119.28" y2="224.92" stroke="#2d4f92" stroke-width="0.6375"/><line x1="115.15" y1="225.71" x2="115.75" y2="224.82" stroke="#2d4f92" stroke-width="0.75"/><line x1="115.75" y1="224.82" x2="118.96" y2="224.28" stroke="#2d4f92" stroke-width="0.6375"/><line x1="117.03" y1="224.51" x2="117.93" y2="223.75" stroke="#2d4f92" stroke-width="0.6000000000000001"/><line x1="115.75" y1="224.82" x2="116.45" y2="223.94" stroke="#2d4f92" stroke-width="0.75"/><line x1="116.45" y1="223.94" x2="119.26" y2="223.28" stroke="#2d4f92" stroke-width="0.6375"/><line x1="117.58" y1="223.96" x2="118.32" y2="223.28" stroke="#2d4f92" stroke-width="0.6000000000000001"/><line x1="116.45" y1="223.94" x2="116.45" y2="223.06" stroke="#2d4f92" stroke-width="0.75"/><line x1="116.45" y1="223.06" x2="119.65" y2="222.62" stroke="#2d4f92" stroke-width="0.6375"/><line x1="117.73" y1="223.29" x2="118.27" y2="222.75" stroke="#2d4f92" stroke-width="0.6000000000000001"/><line x1="116.45" y1="223.06" x2="116.76" y2="222.18" stroke="#2d4f92" stroke-width="0.75"/><line x1="116.76" y1="222.18" x2="119.6" y2="221.81" stroke="#2d4f92" stroke-width="0.6375"/><line x1="117.9" y1="221.91" x2="118.92" y2="220.75" stroke="#2d4f92" stroke-width="0.6000000000000001"/><line x1="116.76" y1="222.18" x2="117.21" y2="221.29" stroke="#2d4f92" stroke-width="0.75"/><line x1="117.21" y1="221.29" x2="120.49" y2="220.55" stroke="#2d4f92" stroke-width="0.6375"/><line x1="118.52" y1="220.92" x2="119.84" y2="219.8" stroke="#2d4f92" stroke-width="0.6000000000000001"/><line x1="117.21" y1="221.29" x2="117.16" y2="220.41" stroke="#2d4f92" stroke-width="0.75"/><line x1="117.16" y1="220.41" x2="119.89" y2="220.14" stroke="#2d4f92" stroke-width="0.6375"/><line x1="118.25" y1="219.82" x2="118.8" y2="218.96" stroke="#2d4f92" stroke-width="0.6000000000000001"/><line x1="117.16" y1="220.41" x2="118.28" y2="219.53" stroke="#2d4f92" stroke-width="0.75"/><line x1="118.28" y1="219.53" x2="121.65" y2="219.51" stroke="#2d4f92" stroke-width="0.6375"/><line x1="119.63" y1="219.87" x2="121.05" y2="219" stroke="#2d4f92" stroke-width="0.6000000000000001"/><line x1="118.28" y1="219.53" x2="118.02" y2="218.65" stroke="#2d4f92" stroke-width="0.75"/><line x1="118.02" y1="218.65" x2="120.67" y2="218.15" stroke="#2d4f92" stroke-width="0.6375"/><line x1="119.08" y1="219.18" x2="120.56" y2="218.74" stroke="#2d4f92" stroke-width="0.6000000000000001"/><line x1="118.02" y1="218.65" x2="118.41" y2="217.76" stroke="#2d4f92" stroke-width="0.75"/><line x1="118.41" y1="217.76" x2="121.21" y2="217.01" stroke="#2d4f92" stroke-width="0.6375"/><line x1="118.41" y1="217.76" x2="119.07" y2="216.88" stroke="#2d4f92" stroke-width="0.75"/><line x1="119.07" y1="216.88" x2="121.52" y2="216.65" stroke="#2d4f92" stroke-width="0.6375"/><line x1="120.05" y1="217.1" x2="121.31" y2="216.68" stroke="#2d4f92" stroke-width="0.6000000000000001"/><line x1="119.07" y1="216.88" x2="119.56" y2="216" stroke="#2d4f92" stroke-width="0.75"/><line x1="119.56" y1="216" x2="121.63" y2="215.65" stroke="#2d4f92" stroke-width="0.6375"/><line x1="119.56" y1="216" x2="119.64" y2="215.12" stroke="#2d4f92" stroke-width="0.75"/><line x1="119.64" y1="215.12" x2="122.36" y2="214.35" stroke="#2d4f92" stroke-width="0.6375"/><line x1="119.64" y1="215.12" x2="119.86" y2="214.24" stroke="#2d4f92" stroke-width="0.75"/><line x1="119.86" y1="214.24" x2="122.44" y2="213.6" stroke="#2d4f92" stroke-width="0.6375"/><line x1="119.86" y1="214.24" x2="120.14" y2="213.35" stroke="#2d4f92" stroke-width="0.75"/><line x1="120.14" y1="213.35" x2="122.3" y2="212.9" stroke="#2d4f92" stroke-width="0.6375"/><line x1="121.01" y1="213.61" x2="122.5" y2="212.59" stroke="#2d4f92" stroke-width="0.6000000000000001"/><line x1="120.14" y1="213.35" x2="120.92" y2="212.47" stroke="#2d4f92" stroke-width="0.75"/><line x1="120.92" y1="212.47" x2="123.27" y2="211.84" stroke="#2d4f92" stroke-width="0.6375"/><line x1="121.86" y1="211.99" x2="122.75" y2="211.41" stroke="#2d4f92" stroke-width="0.6000000000000001"/><line x1="120.92" y1="212.47" x2="121.29" y2="211.59" stroke="#2d4f92" stroke-width="0.75"/><line x1="121.29" y1="211.59" x2="123.36" y2="211.09" stroke="#2d4f92" stroke-width="0.6375"/><line x1="122.12" y1="211.63" x2="123.39" y2="210.97" stroke="#2d4f92" stroke-width="0.6000000000000001"/><line x1="121.29" y1="211.59" x2="121.08" y2="210.71" stroke="#2d4f92" stroke-width="0.75"/><line x1="121.08" y1="210.71" x2="122.68" y2="210.16" stroke="#2d4f92" stroke-width="0.6375"/><line x1="121.72" y1="210.21" x2="122.56" y2="209.29" stroke="#2d4f92" stroke-width="0.6000000000000001"/><line x1="121.08" y1="210.71" x2="121.83" y2="209.82" stroke="#2d4f92" stroke-width="0.75"/><line x1="121.83" y1="209.82" x2="123.99" y2="209.53" stroke="#2d4f92" stroke-width="0.6375"/><line x1="122.69" y1="209.81" x2="123.68" y2="209.35" stroke="#2d4f92" stroke-width="0.6000000000000001"/><line x1="121.83" y1="209.82" x2="122.09" y2="208.94" stroke="#2d4f92" stroke-width="0.75"/><line x1="122.09" y1="208.94" x2="123.42" y2="208.68" stroke="#2d4f92" stroke-width="0.6375"/><line x1="122.09" y1="208.94" x2="121.9" y2="208.06" stroke="#2d4f92" stroke-width="0.75"/><line x1="121.9" y1="208.06" x2="123.19" y2="207.9" stroke="#2d4f92" stroke-width="0.6375"/><line x1="122.42" y1="207.72" x2="123.93" y2="206.97" stroke="#2d4f92" stroke-width="0.6000000000000001"/><line x1="121.9" y1="208.06" x2="122.79" y2="207.18" stroke="#2d4f92" stroke-width="0.75"/><line x1="122.79" y1="207.18" x2="124.06" y2="206.69" stroke="#2d4f92" stroke-width="0.6375"/><line x1="122.79" y1="207.18" x2="122.77" y2="206.29" stroke="#2d4f92" stroke-width="0.75"/><line x1="122.77" y1="206.29" x2="124.39" y2="205.63" stroke="#2d4f92" stroke-width="0.6375"/><line x1="123.42" y1="206.34" x2="124.76" y2="205.68" stroke="#2d4f92" stroke-width="0.6000000000000001"/><line x1="122.77" y1="206.29" x2="123.45" y2="205.41" stroke="#2d4f92" stroke-width="0.75"/><line x1="123.45" y1="205.41" x2="125.13" y2="204.97" stroke="#2d4f92" stroke-width="0.6375"/><line x1="123.45" y1="205.41" x2="123.53" y2="204.53" stroke="#2d4f92" stroke-width="0.75"/><line x1="123.53" y1="204.53" x2="124.61" y2="204.13" stroke="#2d4f92" stroke-width="0.6375"/><line x1="123.96" y1="204.3" x2="124.61" y2="203.79" stroke="#2d4f92" stroke-width="0.6000000000000001"/><line x1="123.53" y1="204.53" x2="124.02" y2="203.65" stroke="#2d4f92" stroke-width="0.75"/><line x1="124.02" y1="203.65" x2="124.69" y2="203" stroke="#2d4f92" stroke-width="0.6375"/><line x1="124.29" y1="204.17" x2="125.45" y2="203.52" stroke="#2d4f92" stroke-width="0.6000000000000001"/><line x1="124.02" y1="203.65" x2="124.62" y2="202.76" stroke="#2d4f92" stroke-width="0.75"/><line x1="124.62" y1="202.76" x2="125.51" y2="202.66" stroke="#2d4f92" stroke-width="0.6375"/><line x1="124.62" y1="202.76" x2="124.94" y2="201.88" stroke="#2d4f92" stroke-width="0.75"/><line x1="124.94" y1="201.88" x2="126.06" y2="201.55" stroke="#2d4f92" stroke-width="0.6375"/><line x1="124.94" y1="201.88" x2="124.81" y2="201" stroke="#2d4f92" stroke-width="0.75"/><line x1="124.81" y1="201" x2="125.51" y2="200.69" stroke="#2d4f92" stroke-width="0.6375"/><line x1="125.09" y1="201.37" x2="125.78" y2="200.88" stroke="#2d4f92" stroke-width="0.6000000000000001"/><line x1="115.48" y1="228" x2="119.05" y2="227.44" stroke="#2d4f92" stroke-width="0.6375"/><line x1="115.48" y1="228" x2="116.02" y2="227.07" stroke="#2d4f92" stroke-width="0.75"/><line x1="116.02" y1="227.07" x2="118.33" y2="226.71" stroke="#2d4f92" stroke-width="0.6375"/><line x1="116.94" y1="227.63" x2="118.25" y2="226.91" stroke="#2d4f92" stroke-width="0.6000000000000001"/><line x1="116.02" y1="227.07" x2="116.02" y2="226.14" stroke="#2d4f92" stroke-width="0.75"/><line x1="116.02" y1="226.14" x2="118.59" y2="225.4" stroke="#2d4f92" stroke-width="0.6375"/><line x1="117.05" y1="226.09" x2="117.93" y2="225.24" stroke="#2d4f92" stroke-width="0.6000000000000001"/><line x1="116.02" y1="226.14" x2="116.27" y2="225.21" stroke="#2d4f92" stroke-width="0.75"/><line x1="116.27" y1="225.21" x2="118.55" y2="224.97" stroke="#2d4f92" stroke-width="0.6375"/><line x1="116.27" y1="225.21" x2="117.11" y2="224.29" stroke="#2d4f92" stroke-width="0.75"/><line x1="117.11" y1="224.29" x2="120.05" y2="223.64" stroke="#2d4f92" stroke-width="0.6375"/><line x1="118.29" y1="223.98" x2="119.52" y2="223.25" stroke="#2d4f92" stroke-width="0.6000000000000001"/><line x1="117.11" y1="224.29" x2="116.71" y2="223.36" stroke="#2d4f92" stroke-width="0.75"/><line x1="116.71" y1="223.36" x2="119.5" y2="223.01" stroke="#2d4f92" stroke-width="0.6375"/><line x1="116.71" y1="223.36" x2="117.17" y2="222.43" stroke="#2d4f92" stroke-width="0.75"/><line x1="117.17" y1="222.43" x2="119.1" y2="221.9" stroke="#2d4f92" stroke-width="0.6375"/><line x1="117.17" y1="222.43" x2="117.52" y2="221.5" stroke="#2d4f92" stroke-width="0.75"/><line x1="117.52" y1="221.5" x2="119.4" y2="220.8" stroke="#2d4f92" stroke-width="0.6375"/><line x1="118.27" y1="221.37" x2="119.44" y2="220.92" stroke="#2d4f92" stroke-width="0.6000000000000001"/><line x1="117.52" y1="221.5" x2="117.73" y2="220.57" stroke="#2d4f92" stroke-width="0.75"/><line x1="117.73" y1="220.57" x2="119.82" y2="220.11" stroke="#2d4f92" stroke-width="0.6375"/><line x1="117.73" y1="220.57" x2="118.08" y2="219.64" stroke="#2d4f92" stroke-width="0.75"/><line x1="118.08" y1="219.64" x2="119.71" y2="219.23" stroke="#2d4f92" stroke-width="0.6375"/><line x1="118.73" y1="219.12" x2="119.8" y2="218.2" stroke="#2d4f92" stroke-width="0.6000000000000001"/><line x1="118.08" y1="219.64" x2="118.85" y2="218.71" stroke="#2d4f92" stroke-width="0.75"/><line x1="118.85" y1="218.71" x2="120.43" y2="218.4" stroke="#2d4f92" stroke-width="0.6375"/><line x1="119.48" y1="218.72" x2="120.72" y2="217.64" stroke="#2d4f92" stroke-width="0.6000000000000001"/><line x1="118.85" y1="218.71" x2="118.71" y2="217.79" stroke="#2d4f92" stroke-width="0.75"/><line x1="118.71" y1="217.79" x2="120.26" y2="217.19" stroke="#2d4f92" stroke-width="0.6375"/><line x1="119.33" y1="217.27" x2="120.19" y2="216.43" stroke="#2d4f92" stroke-width="0.6000000000000001"/><line x1="118.71" y1="217.79" x2="119.58" y2="216.86" stroke="#2d4f92" stroke-width="0.75"/><line x1="119.58" y1="216.86" x2="120.52" y2="216.56" stroke="#2d4f92" stroke-width="0.6375"/><line x1="119.96" y1="217.42" x2="120.84" y2="216.73" stroke="#2d4f92" stroke-width="0.6000000000000001"/><line x1="119.58" y1="216.86" x2="120.05" y2="215.93" stroke="#2d4f92" stroke-width="0.75"/><line x1="120.05" y1="215.93" x2="120.88" y2="215.18" stroke="#2d4f92" stroke-width="0.6375"/><line x1="120.05" y1="215.93" x2="120.05" y2="215" stroke="#2d4f92" stroke-width="0.75"/><line x1="120.05" y1="215" x2="121.13" y2="214.26" stroke="#2d4f92" stroke-width="0.6375"/><line x1="108.2" y1="221" x2="113" y2="221" stroke="#3f5f9f" stroke-width="0.8"/><line x1="106.8" y1="221" x2="106.8" y2="268" stroke="#3f5f9f" stroke-width="0.9"/><line x1="106.8" y1="221" x2="108.2" y2="221" stroke="#3f5f9f" stroke-width="0.8"/><line x1="110.9" y1="233" x2="110.9" y2="266" stroke="#3f5f9f" stroke-width="0.9"/><line x1="114" y1="238" x2="114" y2="262" stroke="#2d4f92" stroke-width="0.9"/><line x1="113.61" y1="250" x2="117.79" y2="249.32" stroke="#2d4f92" stroke-width="0.6375"/><line x1="115.28" y1="249.68" x2="115.94" y2="249.17" stroke="#2d4f92" stroke-width="0.6000000000000001"/><line x1="113.61" y1="250" x2="114.25" y2="249.19" stroke="#2d4f92" stroke-width="0.75"/><line x1="114.25" y1="249.19" x2="117.12" y2="249.02" stroke="#2d4f92" stroke-width="0.6375"/><line x1="115.4" y1="249.11" x2="116.82" y2="248.26" stroke="#2d4f92" stroke-width="0.6000000000000001"/><line x1="114.25" y1="249.19" x2="113.93" y2="248.39" stroke="#2d4f92" stroke-width="0.75"/><line x1="113.93" y1="248.39" x2="116.63" y2="247.69" stroke="#2d4f92" stroke-width="0.6375"/><line x1="113.93" y1="248.39" x2="114.83" y2="247.58" stroke="#2d4f92" stroke-width="0.75"/><line x1="114.83" y1="247.58" x2="118.75" y2="246.82" stroke="#2d4f92" stroke-width="0.6375"/><line x1="114.83" y1="247.58" x2="114.65" y2="246.78" stroke="#2d4f92" stroke-width="0.75"/><line x1="114.65" y1="246.78" x2="118.2" y2="246.17" stroke="#2d4f92" stroke-width="0.6375"/><line x1="114.65" y1="246.78" x2="115.05" y2="245.97" stroke="#2d4f92" stroke-width="0.75"/><line x1="115.05" y1="245.97" x2="117.68" y2="245.72" stroke="#2d4f92" stroke-width="0.6375"/><line x1="116.1" y1="246.36" x2="117.48" y2="245.17" stroke="#2d4f92" stroke-width="0.6000000000000001"/><line x1="115.05" y1="245.97" x2="115.52" y2="245.17" stroke="#2d4f92" stroke-width="0.75"/><line x1="115.52" y1="245.17" x2="118.51" y2="245.06" stroke="#2d4f92" stroke-width="0.6375"/><line x1="115.52" y1="245.17" x2="115.58" y2="244.36" stroke="#2d4f92" stroke-width="0.75"/><line x1="115.58" y1="244.36" x2="117.53" y2="243.94" stroke="#2d4f92" stroke-width="0.6375"/><line x1="116.36" y1="244.31" x2="117.53" y2="243.66" stroke="#2d4f92" stroke-width="0.6000000000000001"/><line x1="115.58" y1="244.36" x2="115.59" y2="243.56" stroke="#2d4f92" stroke-width="0.75"/><line x1="115.59" y1="243.56" x2="117.77" y2="243.37" stroke="#2d4f92" stroke-width="0.6375"/><line x1="116.46" y1="243.4" x2="117.05" y2="242.51" stroke="#2d4f92" stroke-width="0.6000000000000001"/><line x1="115.59" y1="243.56" x2="116.51" y2="242.75" stroke="#2d4f92" stroke-width="0.75"/><line x1="116.51" y1="242.75" x2="118.82" y2="242" stroke="#2d4f92" stroke-width="0.6375"/><line x1="117.44" y1="242.32" x2="118.82" y2="241.27" stroke="#2d4f92" stroke-width="0.6000000000000001"/><line x1="116.51" y1="242.75" x2="116.52" y2="241.94" stroke="#2d4f92" stroke-width="0.75"/><line x1="116.52" y1="241.94" x2="118.24" y2="241.25" stroke="#2d4f92" stroke-width="0.6375"/><line x1="116.52" y1="241.94" x2="116.91" y2="241.14" stroke="#2d4f92" stroke-width="0.75"/><line x1="116.91" y1="241.14" x2="118.9" y2="240.84" stroke="#2d4f92" stroke-width="0.6375"/><line x1="116.91" y1="241.14" x2="116.64" y2="240.33" stroke="#2d4f92" stroke-width="0.75"/><line x1="116.64" y1="240.33" x2="118.79" y2="239.76" stroke="#2d4f92" stroke-width="0.6375"/><line x1="117.5" y1="240.47" x2="118.64" y2="239.64" stroke="#2d4f92" stroke-width="0.6000000000000001"/><line x1="116.64" y1="240.33" x2="117.08" y2="239.53" stroke="#2d4f92" stroke-width="0.75"/><line x1="117.08" y1="239.53" x2="118.68" y2="239.29" stroke="#2d4f92" stroke-width="0.6375"/><line x1="117.72" y1="239.75" x2="118.34" y2="239.25" stroke="#2d4f92" stroke-width="0.6000000000000001"/><line x1="117.08" y1="239.53" x2="117.11" y2="238.72" stroke="#2d4f92" stroke-width="0.75"/><line x1="117.11" y1="238.72" x2="118.66" y2="238.29" stroke="#2d4f92" stroke-width="0.6375"/><line x1="117.73" y1="238.65" x2="118.61" y2="238.27" stroke="#2d4f92" stroke-width="0.6000000000000001"/><line x1="117.11" y1="238.72" x2="117.32" y2="237.92" stroke="#2d4f92" stroke-width="0.75"/><line x1="117.32" y1="237.92" x2="118.46" y2="237.68" stroke="#2d4f92" stroke-width="0.6375"/><line x1="117.77" y1="238.03" x2="118.36" y2="237.31" stroke="#2d4f92" stroke-width="0.6000000000000001"/><line x1="117.32" y1="237.92" x2="117.87" y2="237.11" stroke="#2d4f92" stroke-width="0.75"/><line x1="117.87" y1="237.11" x2="118.67" y2="236.84" stroke="#2d4f92" stroke-width="0.6375"/><line x1="117.87" y1="237.11" x2="118.61" y2="236.31" stroke="#2d4f92" stroke-width="0.75"/><line x1="118.61" y1="236.31" x2="119.56" y2="235.77" stroke="#2d4f92" stroke-width="0.6375"/><line x1="118.99" y1="235.74" x2="120.04" y2="234.62" stroke="#2d4f92" stroke-width="0.6000000000000001"/><line x1="118.61" y1="236.31" x2="118.69" y2="235.5" stroke="#2d4f92" stroke-width="0.75"/><line x1="118.69" y1="235.5" x2="119.64" y2="234.82" stroke="#2d4f92" stroke-width="0.6375"/><line x1="119.07" y1="235.61" x2="119.96" y2="235.09" stroke="#2d4f92" stroke-width="0.6000000000000001"/><line x1="117" y1="235.7" x2="133.4" y2="235.7" stroke="#3f5f9f" stroke-width="0.8"/><line x1="116" y1="239" x2="130.7" y2="239" stroke="#3f5f9f" stroke-width="0.8"/><line x1="114.5" y1="245.5" x2="124.6" y2="245.5" stroke="#3f5f9f" stroke-width="0.8"/><line x1="113.12" y1="264" x2="117.39" y2="263.99" stroke="#2d4f92" stroke-width="0.6375"/><line x1="113.12" y1="264" x2="113.59" y2="263.18" stroke="#2d4f92" stroke-width="0.75"/><line x1="113.59" y1="263.18" x2="117.78" y2="262.94" stroke="#2d4f92" stroke-width="0.6375"/><line x1="113.59" y1="263.18" x2="114.08" y2="262.35" stroke="#2d4f92" stroke-width="0.75"/><line x1="114.08" y1="262.35" x2="116.82" y2="262.04" stroke="#2d4f92" stroke-width="0.6375"/><line x1="114.08" y1="262.35" x2="114.74" y2="261.53" stroke="#2d4f92" stroke-width="0.75"/><line x1="114.74" y1="261.53" x2="117.68" y2="261.25" stroke="#2d4f92" stroke-width="0.6375"/><line x1="114.74" y1="261.53" x2="114.89" y2="260.71" stroke="#2d4f92" stroke-width="0.75"/><line x1="114.89" y1="260.71" x2="117.96" y2="260.16" stroke="#2d4f92" stroke-width="0.6375"/><line x1="116.12" y1="260.59" x2="116.92" y2="260.12" stroke="#2d4f92" stroke-width="0.6000000000000001"/><line x1="114.89" y1="260.71" x2="115.12" y2="259.88" stroke="#2d4f92" stroke-width="0.75"/><line x1="115.12" y1="259.88" x2="116.95" y2="259.31" stroke="#2d4f92" stroke-width="0.6375"/><line x1="115.12" y1="259.88" x2="115.11" y2="259.06" stroke="#2d4f92" stroke-width="0.75"/><line x1="115.11" y1="259.06" x2="118.28" y2="258.94" stroke="#2d4f92" stroke-width="0.6375"/><line x1="115.11" y1="259.06" x2="115.29" y2="258.24" stroke="#2d4f92" stroke-width="0.75"/><line x1="115.29" y1="258.24" x2="117.28" y2="258.16" stroke="#2d4f92" stroke-width="0.6375"/><line x1="115.29" y1="258.24" x2="116.12" y2="257.41" stroke="#2d4f92" stroke-width="0.75"/><line x1="116.12" y1="257.41" x2="117.82" y2="256.92" stroke="#2d4f92" stroke-width="0.6375"/><line x1="116.12" y1="257.41" x2="115.86" y2="256.59" stroke="#2d4f92" stroke-width="0.75"/><line x1="115.86" y1="256.59" x2="117.75" y2="255.84" stroke="#2d4f92" stroke-width="0.6375"/><line x1="115.86" y1="256.59" x2="116.57" y2="255.76" stroke="#2d4f92" stroke-width="0.75"/><line x1="116.57" y1="255.76" x2="118.55" y2="255.6" stroke="#2d4f92" stroke-width="0.6375"/><line x1="116.57" y1="255.76" x2="117.05" y2="254.94" stroke="#2d4f92" stroke-width="0.75"/><line x1="117.05" y1="254.94" x2="119.29" y2="254.46" stroke="#2d4f92" stroke-width="0.6375"/><line x1="117.94" y1="255.29" x2="119.14" y2="254.2" stroke="#2d4f92" stroke-width="0.6000000000000001"/><line x1="117.05" y1="254.94" x2="117.23" y2="254.12" stroke="#2d4f92" stroke-width="0.75"/><line x1="117.23" y1="254.12" x2="118.92" y2="253.95" stroke="#2d4f92" stroke-width="0.6375"/><line x1="117.91" y1="254.44" x2="119.19" y2="254.11" stroke="#2d4f92" stroke-width="0.6000000000000001"/><line x1="117.23" y1="254.12" x2="117.09" y2="253.29" stroke="#2d4f92" stroke-width="0.75"/><line x1="117.09" y1="253.29" x2="118.53" y2="253.01" stroke="#2d4f92" stroke-width="0.6375"/><line x1="117.67" y1="253.83" x2="118.59" y2="253.13" stroke="#2d4f92" stroke-width="0.6000000000000001"/><line x1="117.09" y1="253.29" x2="117.97" y2="252.47" stroke="#2d4f92" stroke-width="0.75"/><line x1="117.97" y1="252.47" x2="119.2" y2="252.34" stroke="#2d4f92" stroke-width="0.6375"/><line x1="117.97" y1="252.47" x2="118.17" y2="251.65" stroke="#2d4f92" stroke-width="0.75"/><line x1="118.17" y1="251.65" x2="119.33" y2="251.45" stroke="#2d4f92" stroke-width="0.6375"/><line x1="118.17" y1="251.65" x2="118.2" y2="250.82" stroke="#2d4f92" stroke-width="0.75"/><line x1="118.2" y1="250.82" x2="119.51" y2="250.44" stroke="#2d4f92" stroke-width="0.6375"/><line x1="118.2" y1="250.82" x2="118.87" y2="250" stroke="#2d4f92" stroke-width="0.75"/><line x1="118.87" y1="250" x2="119.64" y2="249.27" stroke="#2d4f92" stroke-width="0.6375"/><line x1="119.18" y1="250.43" x2="120.36" y2="249.27" stroke="#2d4f92" stroke-width="0.6000000000000001"/><line x1="110.9" y1="248" x2="114" y2="248" stroke="#3f5f9f" stroke-width="0.8"/><line x1="106.8" y1="250" x2="110.9" y2="250" stroke="#3f5f9f" stroke-width="0.8"/><line x1="110.9" y1="265.5" x2="116" y2="265.5" stroke="#3f5f9f" stroke-width="0.8"/><line x1="124.8" y1="272.8" x2="131.2" y2="272.8" stroke="#e0262b" stroke-width="0.9"/><path d="M134 270.5 Q131 270.8 131.2 272.8 Q131.4 275 134 274.8" stroke="#e0262b" stroke-width="0.9" fill="none"/><line x1="124.8" y1="272.8" x2="124.8" y2="285" stroke="#2d4f92" stroke-width="1.4"/><path d="M123.4 283 Q124.8 286.2 126.4 283.4" stroke="#2d4f92" stroke-width="0.8" fill="none"/><line x1="116.6" y1="282.6" x2="124.8" y2="282.6" stroke="#3f5f9f" stroke-width="0.8"/><line x1="116.6" y1="282.6" x2="116.6" y2="297.5" stroke="#2d4f92" stroke-width="1.5"/><path d="M111.5 300.5 L111.5 296.8 L116.6 296.8 M113 300.2 L117.8 300.2 L117.8 297.6" stroke="#2d4f92" stroke-width="0.8" fill="none"/><line x1="109.2" y1="300.8" x2="109.2" y2="318.4" stroke="#2d4f92" stroke-width="0.9"/><line x1="109.2" y1="300.8" x2="111.5" y2="300.8" stroke="#3f5f9f" stroke-width="0.8"/><line x1="109.2" y1="304" x2="118.5" y2="304" stroke="#3f5f9f" stroke-width="0.8"/><path d="M121.2 301 L118.5 304 L121.5 304.6 M118.5 304 L121.3 306.2" stroke="#2d4f92" stroke-width="0.9" fill="none"/><line x1="116.8" y1="311.2" x2="125.6" y2="311.2" stroke="#6a7fa8" stroke-width="0.9"/><line x1="110.89" y1="322" x2="114.7" y2="321.64" stroke="#2d4f92" stroke-width="0.6375"/><line x1="112.41" y1="322.19" x2="113.2" y2="321.32" stroke="#2d4f92" stroke-width="0.6000000000000001"/><line x1="110.89" y1="322" x2="110.94" y2="321.28" stroke="#2d4f92" stroke-width="0.75"/><line x1="110.94" y1="321.28" x2="114.17" y2="321.16" stroke="#2d4f92" stroke-width="0.6375"/><line x1="110.94" y1="321.28" x2="111.51" y2="320.56" stroke="#2d4f92" stroke-width="0.75"/><line x1="111.51" y1="320.56" x2="115.99" y2="320.35" stroke="#2d4f92" stroke-width="0.6375"/><line x1="111.51" y1="320.56" x2="112.25" y2="319.83" stroke="#2d4f92" stroke-width="0.75"/><line x1="112.25" y1="319.83" x2="115.56" y2="319.47" stroke="#2d4f92" stroke-width="0.6375"/><line x1="112.25" y1="319.83" x2="112.17" y2="319.11" stroke="#2d4f92" stroke-width="0.75"/><line x1="112.17" y1="319.11" x2="114.8" y2="318.9" stroke="#2d4f92" stroke-width="0.6375"/><line x1="112.17" y1="319.11" x2="112.54" y2="318.39" stroke="#2d4f92" stroke-width="0.75"/><line x1="112.54" y1="318.39" x2="115.6" y2="317.63" stroke="#2d4f92" stroke-width="0.6375"/><line x1="113.77" y1="317.84" x2="115.34" y2="316.79" stroke="#2d4f92" stroke-width="0.6000000000000001"/><line x1="112.54" y1="318.39" x2="113.23" y2="317.67" stroke="#2d4f92" stroke-width="0.75"/><line x1="113.23" y1="317.67" x2="115.93" y2="317.54" stroke="#2d4f92" stroke-width="0.6375"/><line x1="114.31" y1="317.62" x2="114.88" y2="316.69" stroke="#2d4f92" stroke-width="0.6000000000000001"/><line x1="113.23" y1="317.67" x2="113.52" y2="316.94" stroke="#2d4f92" stroke-width="0.75"/><line x1="113.52" y1="316.94" x2="115.88" y2="316.55" stroke="#2d4f92" stroke-width="0.6375"/><line x1="113.52" y1="316.94" x2="113.65" y2="316.22" stroke="#2d4f92" stroke-width="0.75"/><line x1="113.65" y1="316.22" x2="116.49" y2="315.73" stroke="#2d4f92" stroke-width="0.6375"/><line x1="113.65" y1="316.22" x2="113.62" y2="315.5" stroke="#2d4f92" stroke-width="0.75"/><line x1="113.62" y1="315.5" x2="115.39" y2="315.18" stroke="#2d4f92" stroke-width="0.6375"/><line x1="114.33" y1="315.55" x2="115.55" y2="314.89" stroke="#2d4f92" stroke-width="0.6000000000000001"/><line x1="113.62" y1="315.5" x2="114.19" y2="314.78" stroke="#2d4f92" stroke-width="0.75"/><line x1="114.19" y1="314.78" x2="116.75" y2="314.15" stroke="#2d4f92" stroke-width="0.6375"/><line x1="114.19" y1="314.78" x2="114.92" y2="314.06" stroke="#2d4f92" stroke-width="0.75"/><line x1="114.92" y1="314.06" x2="116.39" y2="313.98" stroke="#2d4f92" stroke-width="0.6375"/><line x1="115.51" y1="313.47" x2="116.7" y2="312.34" stroke="#2d4f92" stroke-width="0.6000000000000001"/><line x1="114.92" y1="314.06" x2="114.69" y2="313.33" stroke="#2d4f92" stroke-width="0.75"/><line x1="114.69" y1="313.33" x2="117.01" y2="312.72" stroke="#2d4f92" stroke-width="0.6375"/><line x1="115.62" y1="313.5" x2="116.4" y2="313.04" stroke="#2d4f92" stroke-width="0.6000000000000001"/><line x1="114.69" y1="313.33" x2="114.94" y2="312.61" stroke="#2d4f92" stroke-width="0.75"/><line x1="114.94" y1="312.61" x2="116.96" y2="312.53" stroke="#2d4f92" stroke-width="0.6375"/><line x1="115.75" y1="312.48" x2="116.29" y2="311.76" stroke="#2d4f92" stroke-width="0.6000000000000001"/><line x1="114.94" y1="312.61" x2="115.85" y2="311.89" stroke="#2d4f92" stroke-width="0.75"/><line x1="115.85" y1="311.89" x2="116.96" y2="311.86" stroke="#2d4f92" stroke-width="0.6375"/><line x1="116.29" y1="312.09" x2="117.81" y2="311.34" stroke="#2d4f92" stroke-width="0.6000000000000001"/><line x1="115.85" y1="311.89" x2="115.68" y2="311.17" stroke="#2d4f92" stroke-width="0.75"/><line x1="115.68" y1="311.17" x2="116.84" y2="311.08" stroke="#2d4f92" stroke-width="0.6375"/><line x1="116.14" y1="311.09" x2="117.57" y2="310.57" stroke="#2d4f92" stroke-width="0.6000000000000001"/><line x1="115.68" y1="311.17" x2="116.64" y2="310.44" stroke="#2d4f92" stroke-width="0.75"/><line x1="116.64" y1="310.44" x2="117.82" y2="310.26" stroke="#2d4f92" stroke-width="0.6375"/><line x1="117.11" y1="310.65" x2="118.52" y2="309.57" stroke="#2d4f92" stroke-width="0.6000000000000001"/><line x1="116.64" y1="310.44" x2="116.43" y2="309.72" stroke="#2d4f92" stroke-width="0.75"/><line x1="116.43" y1="309.72" x2="117.02" y2="309.48" stroke="#2d4f92" stroke-width="0.6375"/><line x1="116.67" y1="309.27" x2="117.25" y2="308.08" stroke="#2d4f92" stroke-width="0.6000000000000001"/><line x1="116.43" y1="309.72" x2="116.84" y2="309" stroke="#2d4f92" stroke-width="0.75"/><line x1="116.84" y1="309" x2="117.67" y2="308.62" stroke="#2d4f92" stroke-width="0.6375"/><line x1="113.26" y1="321" x2="117.05" y2="320.99" stroke="#2d4f92" stroke-width="0.6375"/><line x1="113.26" y1="321" x2="113.75" y2="320.12" stroke="#2d4f92" stroke-width="0.75"/><line x1="113.75" y1="320.12" x2="116.82" y2="319.93" stroke="#2d4f92" stroke-width="0.6375"/><line x1="114.98" y1="320.23" x2="116.43" y2="319.41" stroke="#2d4f92" stroke-width="0.6000000000000001"/><line x1="113.75" y1="320.12" x2="114.09" y2="319.25" stroke="#2d4f92" stroke-width="0.75"/><line x1="114.09" y1="319.25" x2="116.83" y2="318.99" stroke="#2d4f92" stroke-width="0.6375"/><line x1="115.18" y1="319.32" x2="116.25" y2="318.27" stroke="#2d4f92" stroke-width="0.6000000000000001"/><line x1="114.09" y1="319.25" x2="114.64" y2="318.38" stroke="#2d4f92" stroke-width="0.75"/><line x1="114.64" y1="318.38" x2="117.18" y2="317.98" stroke="#2d4f92" stroke-width="0.6375"/><line x1="115.66" y1="318.33" x2="116.38" y2="317.67" stroke="#2d4f92" stroke-width="0.6000000000000001"/><line x1="114.64" y1="318.38" x2="115.06" y2="317.5" stroke="#2d4f92" stroke-width="0.75"/><line x1="115.06" y1="317.5" x2="117.27" y2="317.18" stroke="#2d4f92" stroke-width="0.6375"/><line x1="115.94" y1="317.66" x2="116.88" y2="316.67" stroke="#2d4f92" stroke-width="0.6000000000000001"/><line x1="115.06" y1="317.5" x2="115.97" y2="316.62" stroke="#2d4f92" stroke-width="0.75"/><line x1="115.97" y1="316.62" x2="117.71" y2="316.12" stroke="#2d4f92" stroke-width="0.6375"/><line x1="116.67" y1="316.52" x2="117.48" y2="315.9" stroke="#2d4f92" stroke-width="0.6000000000000001"/><line x1="115.97" y1="316.62" x2="116.3" y2="315.75" stroke="#2d4f92" stroke-width="0.75"/><line x1="116.3" y1="315.75" x2="118.16" y2="315.51" stroke="#2d4f92" stroke-width="0.6375"/><line x1="117.05" y1="316.04" x2="117.97" y2="315.71" stroke="#2d4f92" stroke-width="0.6000000000000001"/><line x1="116.3" y1="315.75" x2="116.77" y2="314.88" stroke="#2d4f92" stroke-width="0.75"/><line x1="116.77" y1="314.88" x2="118.22" y2="314.67" stroke="#2d4f92" stroke-width="0.6375"/><line x1="116.77" y1="314.88" x2="117.13" y2="314" stroke="#2d4f92" stroke-width="0.75"/><line x1="117.13" y1="314" x2="117.93" y2="313.99" stroke="#2d4f92" stroke-width="0.6375"/><line x1="113" y1="320" x2="120.5" y2="320" stroke="#3f5f9f" stroke-width="0.8"/><line x1="107.2" y1="318.4" x2="111" y2="318.4" stroke="#3f5f9f" stroke-width="0.8"/><line x1="107.2" y1="318.4" x2="107.2" y2="331.2" stroke="#3f5f9f" stroke-width="0.9"/><line x1="107.2" y1="331.2" x2="112" y2="331.2" stroke="#3f5f9f" stroke-width="0.8"/><line x1="112.52" y1="331" x2="116.29" y2="330.77" stroke="#2d4f92" stroke-width="0.6375"/><line x1="112.52" y1="331" x2="113.52" y2="330.14" stroke="#2d4f92" stroke-width="0.75"/><line x1="113.52" y1="330.14" x2="116.06" y2="330.12" stroke="#2d4f92" stroke-width="0.6375"/><line x1="114.54" y1="330.44" x2="115.31" y2="329.69" stroke="#2d4f92" stroke-width="0.6000000000000001"/><line x1="113.52" y1="330.14" x2="114.07" y2="329.29" stroke="#2d4f92" stroke-width="0.75"/><line x1="114.07" y1="329.29" x2="117.12" y2="328.96" stroke="#2d4f92" stroke-width="0.6375"/><line x1="114.07" y1="329.29" x2="114.72" y2="328.43" stroke="#2d4f92" stroke-width="0.75"/><line x1="114.72" y1="328.43" x2="117.31" y2="328.31" stroke="#2d4f92" stroke-width="0.6375"/><line x1="114.72" y1="328.43" x2="115.98" y2="327.57" stroke="#2d4f92" stroke-width="0.75"/><line x1="115.98" y1="327.57" x2="117.75" y2="327.14" stroke="#2d4f92" stroke-width="0.6375"/><line x1="115.98" y1="327.57" x2="116.9" y2="326.71" stroke="#2d4f92" stroke-width="0.75"/><line x1="116.9" y1="326.71" x2="117.9" y2="325.96" stroke="#2d4f92" stroke-width="0.6375"/><line x1="116.9" y1="326.71" x2="118.04" y2="325.86" stroke="#2d4f92" stroke-width="0.75"/><line x1="118.04" y1="325.86" x2="119.32" y2="325.21" stroke="#2d4f92" stroke-width="0.6375"/><line x1="118.04" y1="325.86" x2="118.11" y2="325" stroke="#2d4f92" stroke-width="0.75"/><line x1="118.11" y1="325" x2="118.56" y2="324.4" stroke="#2d4f92" stroke-width="0.6375"/><line x1="118.29" y1="325.55" x2="119.2" y2="324.55" stroke="#2d4f92" stroke-width="0.6000000000000001"/><path d="M111 331.2 Q112 333.4 115.5 332.4" stroke="#2d4f92" stroke-width="0.8" fill="none"/><line x1="106.2" y1="266" x2="106.2" y2="282.6" stroke="#3f5f9f" stroke-width="0.9"/><line x1="106.2" y1="266" x2="106.8" y2="266" stroke="#3f5f9f" stroke-width="0.8"/><line x1="104.6" y1="282.6" x2="104.6" y2="322" stroke="#7f96bd" stroke-width="1.5"/><line x1="104.6" y1="282.6" x2="106.2" y2="282.6" stroke="#3f5f9f" stroke-width="0.8"/><line x1="104.6" y1="310" x2="109.2" y2="310" stroke="#3f5f9f" stroke-width="0.8"/><line x1="103.5" y1="322" x2="103.5" y2="389.2" stroke="#3f5f9f" stroke-width="0.9"/><line x1="103.5" y1="322" x2="104.6" y2="322" stroke="#3f5f9f" stroke-width="0.8"/><line x1="90.8" y1="354.1" x2="103.5" y2="354.1" stroke="#3f5f9f" stroke-width="0.8"/><line x1="105" y1="354.5" x2="105" y2="364.5" stroke="#3f5f9f" stroke-width="0.8"/><line x1="103.5" y1="354.5" x2="105" y2="354.5" stroke="#3f5f9f" stroke-width="0.8"/><line x1="107.9" y1="352.6" x2="107.9" y2="360.5" stroke="#3f5f9f" stroke-width="0.8"/><line x1="105" y1="357" x2="107.9" y2="357" stroke="#3f5f9f" stroke-width="0.8"/><line x1="107.9" y1="352.6" x2="113.3" y2="352.6" stroke="#3f5f9f" stroke-width="0.8"/><line x1="113.3" y1="348" x2="113.3" y2="356" stroke="#3f5f9f" stroke-width="0.8"/><line x1="113.3" y1="348" x2="117.1" y2="348" stroke="#3f5f9f" stroke-width="0.8"/><line x1="117.1" y1="342.7" x2="117.1" y2="350.3" stroke="#3f5f9f" stroke-width="0.8"/><line x1="117.1" y1="342.7" x2="138.7" y2="342.7" stroke="#3f5f9f" stroke-width="0.8"/><line x1="117.1" y1="350.3" x2="120.5" y2="350.3" stroke="#3f5f9f" stroke-width="0.8"/><path d="M120.5 350.3 Q121 348 123.5 348.6 Q126 349.5 124.5 352 Q122 353.2 120.5 351.5 M123 350.5 L127 351.5" stroke="#2d4f92" stroke-width="0.8" fill="none"/><line x1="113.3" y1="356" x2="117" y2="356" stroke="#3f5f9f" stroke-width="0.8"/><line x1="110.32" y1="360" x2="114.04" y2="359.28" stroke="#2d4f92" stroke-width="0.6375"/><line x1="111.81" y1="360.16" x2="113.3" y2="359.08" stroke="#2d4f92" stroke-width="0.6000000000000001"/><line x1="110.32" y1="360" x2="110.5" y2="359.19" stroke="#2d4f92" stroke-width="0.75"/><line x1="110.5" y1="359.19" x2="112.86" y2="358.39" stroke="#2d4f92" stroke-width="0.6375"/><line x1="111.44" y1="358.97" x2="112.99" y2="358.27" stroke="#2d4f92" stroke-width="0.6000000000000001"/><line x1="110.5" y1="359.19" x2="110.64" y2="358.38" stroke="#2d4f92" stroke-width="0.75"/><line x1="110.64" y1="358.38" x2="113.35" y2="358.11" stroke="#2d4f92" stroke-width="0.6375"/><line x1="111.72" y1="358.53" x2="113.11" y2="357.79" stroke="#2d4f92" stroke-width="0.6000000000000001"/><line x1="110.64" y1="358.38" x2="110.98" y2="357.56" stroke="#2d4f92" stroke-width="0.75"/><line x1="110.98" y1="357.56" x2="112.98" y2="357.49" stroke="#2d4f92" stroke-width="0.6375"/><line x1="111.78" y1="357.79" x2="112.59" y2="356.87" stroke="#2d4f92" stroke-width="0.6000000000000001"/><line x1="110.98" y1="357.56" x2="111.48" y2="356.75" stroke="#2d4f92" stroke-width="0.75"/><line x1="111.48" y1="356.75" x2="112.79" y2="356.19" stroke="#2d4f92" stroke-width="0.6375"/><line x1="111.48" y1="356.75" x2="111.96" y2="355.94" stroke="#2d4f92" stroke-width="0.75"/><line x1="111.96" y1="355.94" x2="113.12" y2="355.42" stroke="#2d4f92" stroke-width="0.6375"/><line x1="112.42" y1="355.5" x2="113.64" y2="354.66" stroke="#2d4f92" stroke-width="0.6000000000000001"/><line x1="111.96" y1="355.94" x2="112.58" y2="355.12" stroke="#2d4f92" stroke-width="0.75"/><line x1="112.58" y1="355.12" x2="113.96" y2="354.68" stroke="#2d4f92" stroke-width="0.6375"/><line x1="113.13" y1="354.72" x2="114.65" y2="353.65" stroke="#2d4f92" stroke-width="0.6000000000000001"/><line x1="112.58" y1="355.12" x2="113.21" y2="354.31" stroke="#2d4f92" stroke-width="0.75"/><line x1="113.21" y1="354.31" x2="114.48" y2="354.04" stroke="#2d4f92" stroke-width="0.6375"/><line x1="113.72" y1="354.44" x2="114.79" y2="353.75" stroke="#2d4f92" stroke-width="0.6000000000000001"/><line x1="113.21" y1="354.31" x2="113.89" y2="353.5" stroke="#2d4f92" stroke-width="0.75"/><line x1="113.89" y1="353.5" x2="114.39" y2="352.79" stroke="#2d4f92" stroke-width="0.6375"/><line x1="114.09" y1="353.68" x2="114.94" y2="352.72" stroke="#2d4f92" stroke-width="0.6000000000000001"/><line x1="107.9" y1="360.5" x2="116" y2="360.5" stroke="#3f5f9f" stroke-width="0.8"/><line x1="105" y1="363.8" x2="110" y2="363.8" stroke="#3f5f9f" stroke-width="0.8"/><line x1="110" y1="362" x2="118" y2="362" stroke="#3f5f9f" stroke-width="0.8"/><line x1="110" y1="364.8" x2="121" y2="364.8" stroke="#3f5f9f" stroke-width="0.8"/><circle cx="121" cy="364.8" r="0.9" fill="#2d4f92"/><line x1="139" y1="335.5" x2="139" y2="347" stroke="#2d4f92" stroke-width="0.9"/><line x1="139" y1="343" x2="151.4" y2="343" stroke="#3f5f9f" stroke-width="0.8"/><path d="M139 337.7 Q140 335.0 143.5 335.5 M139.3 337.3 Q141.5 338.9 143.8 337.1 M141 336.5 L144.5 336.2" stroke="#2d4f92" stroke-width="0.85" fill="none"/><path d="M139 341.2 Q140 338.5 143.5 339 M139.3 340.8 Q141.5 342.4 143.8 340.6 M141 340 L144.5 339.7" stroke="#2d4f92" stroke-width="0.85" fill="none"/><path d="M139 346.7 Q140 344.0 143.5 344.5 M139.3 346.3 Q141.5 347.9 143.8 346.1 M141 345.5 L144.5 345.2" stroke="#2d4f92" stroke-width="0.85" fill="none"/><path d="M141 333.5 L143 334.8 M140.5 347.5 Q142 349 144 347.5" stroke="#2d4f92" stroke-width="0.8" fill="none"/><line x1="103.5" y1="389.2" x2="106" y2="389.2" stroke="#3f5f9f" stroke-width="0.8"/><line x1="108.5" y1="372" x2="108.5" y2="396" stroke="#2d4f92" stroke-width="0.9"/><line x1="108.53" y1="396" x2="112.14" y2="395.62" stroke="#2d4f92" stroke-width="0.6375"/><line x1="109.98" y1="396.35" x2="111.37" y2="395.59" stroke="#2d4f92" stroke-width="0.6000000000000001"/><line x1="108.53" y1="396" x2="108.9" y2="395.03" stroke="#2d4f92" stroke-width="0.75"/><line x1="108.9" y1="395.03" x2="111.21" y2="394.74" stroke="#2d4f92" stroke-width="0.6375"/><line x1="108.9" y1="395.03" x2="108.64" y2="394.07" stroke="#2d4f92" stroke-width="0.75"/><line x1="108.64" y1="394.07" x2="111.9" y2="393.88" stroke="#2d4f92" stroke-width="0.6375"/><line x1="109.94" y1="394.67" x2="111.26" y2="393.58" stroke="#2d4f92" stroke-width="0.6000000000000001"/><line x1="108.64" y1="394.07" x2="109.17" y2="393.1" stroke="#2d4f92" stroke-width="0.75"/><line x1="109.17" y1="393.1" x2="111.32" y2="392.71" stroke="#2d4f92" stroke-width="0.6375"/><line x1="110.03" y1="393.65" x2="110.94" y2="393.21" stroke="#2d4f92" stroke-width="0.6000000000000001"/><line x1="109.17" y1="393.1" x2="109.43" y2="392.14" stroke="#2d4f92" stroke-width="0.75"/><line x1="109.43" y1="392.14" x2="112.12" y2="391.78" stroke="#2d4f92" stroke-width="0.6375"/><line x1="109.43" y1="392.14" x2="109.14" y2="391.17" stroke="#2d4f92" stroke-width="0.75"/><line x1="109.14" y1="391.17" x2="111.66" y2="391.14" stroke="#2d4f92" stroke-width="0.6375"/><line x1="109.14" y1="391.17" x2="109.15" y2="390.21" stroke="#2d4f92" stroke-width="0.75"/><line x1="109.15" y1="390.21" x2="111.97" y2="389.43" stroke="#2d4f92" stroke-width="0.6375"/><line x1="109.15" y1="390.21" x2="109.66" y2="389.24" stroke="#2d4f92" stroke-width="0.75"/><line x1="109.66" y1="389.24" x2="112.66" y2="388.66" stroke="#2d4f92" stroke-width="0.6375"/><line x1="110.86" y1="389.21" x2="112.27" y2="388.73" stroke="#2d4f92" stroke-width="0.6000000000000001"/><line x1="109.66" y1="389.24" x2="109.88" y2="388.28" stroke="#2d4f92" stroke-width="0.75"/><line x1="109.88" y1="388.28" x2="112.8" y2="387.98" stroke="#2d4f92" stroke-width="0.6375"/><line x1="109.88" y1="388.28" x2="109.55" y2="387.31" stroke="#2d4f92" stroke-width="0.75"/><line x1="109.55" y1="387.31" x2="112.46" y2="387.29" stroke="#2d4f92" stroke-width="0.6375"/><line x1="110.71" y1="387.57" x2="112.3" y2="386.83" stroke="#2d4f92" stroke-width="0.6000000000000001"/><line x1="109.55" y1="387.31" x2="109.72" y2="386.34" stroke="#2d4f92" stroke-width="0.75"/><line x1="109.72" y1="386.34" x2="112.35" y2="386.17" stroke="#2d4f92" stroke-width="0.6375"/><line x1="109.72" y1="386.34" x2="109.87" y2="385.38" stroke="#2d4f92" stroke-width="0.75"/><line x1="109.87" y1="385.38" x2="112.03" y2="385.24" stroke="#2d4f92" stroke-width="0.6375"/><line x1="110.73" y1="385.89" x2="111.61" y2="385.05" stroke="#2d4f92" stroke-width="0.6000000000000001"/><line x1="109.87" y1="385.38" x2="109.76" y2="384.41" stroke="#2d4f92" stroke-width="0.75"/><line x1="109.76" y1="384.41" x2="111.25" y2="383.76" stroke="#2d4f92" stroke-width="0.6375"/><line x1="109.76" y1="384.41" x2="109.91" y2="383.45" stroke="#2d4f92" stroke-width="0.75"/><line x1="109.91" y1="383.45" x2="112.34" y2="382.73" stroke="#2d4f92" stroke-width="0.6375"/><line x1="109.91" y1="383.45" x2="110.03" y2="382.48" stroke="#2d4f92" stroke-width="0.75"/><line x1="110.03" y1="382.48" x2="112.84" y2="382.01" stroke="#2d4f92" stroke-width="0.6375"/><line x1="110.03" y1="382.48" x2="110.19" y2="381.52" stroke="#2d4f92" stroke-width="0.75"/><line x1="110.19" y1="381.52" x2="111.85" y2="380.82" stroke="#2d4f92" stroke-width="0.6375"/><line x1="110.85" y1="381" x2="112.24" y2="380" stroke="#2d4f92" stroke-width="0.6000000000000001"/><line x1="110.19" y1="381.52" x2="110.28" y2="380.55" stroke="#2d4f92" stroke-width="0.75"/><line x1="110.28" y1="380.55" x2="112.04" y2="380.35" stroke="#2d4f92" stroke-width="0.6375"/><line x1="110.98" y1="380.46" x2="111.67" y2="380.09" stroke="#2d4f92" stroke-width="0.6000000000000001"/><line x1="110.28" y1="380.55" x2="110.25" y2="379.59" stroke="#2d4f92" stroke-width="0.75"/><line x1="110.25" y1="379.59" x2="112.7" y2="378.99" stroke="#2d4f92" stroke-width="0.6375"/><line x1="110.25" y1="379.59" x2="110.28" y2="378.62" stroke="#2d4f92" stroke-width="0.75"/><line x1="110.28" y1="378.62" x2="112.29" y2="378.04" stroke="#2d4f92" stroke-width="0.6375"/><line x1="111.08" y1="378.28" x2="112.5" y2="377.26" stroke="#2d4f92" stroke-width="0.6000000000000001"/><line x1="110.28" y1="378.62" x2="110.87" y2="377.66" stroke="#2d4f92" stroke-width="0.75"/><line x1="110.87" y1="377.66" x2="112.5" y2="377.19" stroke="#2d4f92" stroke-width="0.6375"/><line x1="110.87" y1="377.66" x2="110.51" y2="376.69" stroke="#2d4f92" stroke-width="0.75"/><line x1="110.51" y1="376.69" x2="111.89" y2="376.08" stroke="#2d4f92" stroke-width="0.6375"/><line x1="111.06" y1="376.91" x2="112.61" y2="376.59" stroke="#2d4f92" stroke-width="0.6000000000000001"/><line x1="110.51" y1="376.69" x2="110.83" y2="375.72" stroke="#2d4f92" stroke-width="0.75"/><line x1="110.83" y1="375.72" x2="112.64" y2="375.26" stroke="#2d4f92" stroke-width="0.6375"/><line x1="111.55" y1="375.61" x2="113.11" y2="374.5" stroke="#2d4f92" stroke-width="0.6000000000000001"/><line x1="110.83" y1="375.72" x2="110.56" y2="374.76" stroke="#2d4f92" stroke-width="0.75"/><line x1="110.56" y1="374.76" x2="111.45" y2="374.74" stroke="#2d4f92" stroke-width="0.6375"/><line x1="110.91" y1="374.33" x2="112.37" y2="373.44" stroke="#2d4f92" stroke-width="0.6000000000000001"/><line x1="110.56" y1="374.76" x2="110.64" y2="373.79" stroke="#2d4f92" stroke-width="0.75"/><line x1="110.64" y1="373.79" x2="111.81" y2="373.4" stroke="#2d4f92" stroke-width="0.6375"/><line x1="111.11" y1="373.39" x2="111.81" y2="372.75" stroke="#2d4f92" stroke-width="0.6000000000000001"/><line x1="110.64" y1="373.79" x2="111.2" y2="372.83" stroke="#2d4f92" stroke-width="0.75"/><line x1="111.2" y1="372.83" x2="112.07" y2="372.26" stroke="#2d4f92" stroke-width="0.6375"/><line x1="111.2" y1="372.83" x2="111.35" y2="371.86" stroke="#2d4f92" stroke-width="0.75"/><line x1="111.35" y1="371.86" x2="112.15" y2="371.49" stroke="#2d4f92" stroke-width="0.6375"/><line x1="111.67" y1="372.18" x2="112.36" y2="371.24" stroke="#2d4f92" stroke-width="0.6000000000000001"/><line x1="111.35" y1="371.86" x2="111.02" y2="370.9" stroke="#2d4f92" stroke-width="0.75"/><line x1="111.02" y1="370.9" x2="111.95" y2="370.86" stroke="#2d4f92" stroke-width="0.6375"/><line x1="111.4" y1="370.67" x2="112.89" y2="370.1" stroke="#2d4f92" stroke-width="0.6000000000000001"/><line x1="111.02" y1="370.9" x2="111.32" y2="369.93" stroke="#2d4f92" stroke-width="0.75"/><line x1="111.32" y1="369.93" x2="112.65" y2="369.85" stroke="#2d4f92" stroke-width="0.6375"/><line x1="111.32" y1="369.93" x2="111.41" y2="368.97" stroke="#2d4f92" stroke-width="0.75"/><line x1="111.41" y1="368.97" x2="112.68" y2="368.72" stroke="#2d4f92" stroke-width="0.6375"/><line x1="111.41" y1="368.97" x2="111.52" y2="368" stroke="#2d4f92" stroke-width="0.75"/><line x1="111.52" y1="368" x2="111.97" y2="367.35" stroke="#2d4f92" stroke-width="0.6375"/><path d="M110.5 383 Q111.5 379.5 113.5 380 L118.5 379.6" stroke="#2d4f92" stroke-width="0.8" fill="none"/><line x1="106" y1="383" x2="106" y2="396" stroke="#3f5f9f" stroke-width="0.8"/><line x1="106" y1="383" x2="108.5" y2="383" stroke="#3f5f9f" stroke-width="0.8"/><line x1="106" y1="396" x2="110" y2="396" stroke="#3f5f9f" stroke-width="0.8"/><path d="M108.5 393 L111.8 390.5 L111.8 395.5 Z" stroke="#2d4f92" stroke-width="0.7" fill="none"/><line x1="90.8" y1="354.1" x2="90.8" y2="396" stroke="#3f5f9f" stroke-width="0.8"/><line x1="90.8" y1="396" x2="102.9" y2="396" stroke="#3f5f9f" stroke-width="0.8"/><line x1="81.2" y1="376.2" x2="90.8" y2="376.2" stroke="#3f5f9f" stroke-width="0.8"/><line x1="81.2" y1="376.2" x2="81.2" y2="402.2" stroke="#3f5f9f" stroke-width="0.8"/><line x1="81.2" y1="402.2" x2="84" y2="402.2" stroke="#3f5f9f" stroke-width="0.8"/><path d="M84 402.2 Q86 399.6 90 399.8 L95.5 399.6 M86 401.2 L93 401.3 M85 402.6 Q88 404.2 92 403.4 M88.5 400.5 Q90.5 402.4 93.5 402.2" stroke="#2d4f92" stroke-width="0.75" fill="none"/><line x1="78.5" y1="388.5" x2="78.5" y2="406.7" stroke="#3f5f9f" stroke-width="0.8"/><line x1="78.5" y1="388.5" x2="81.2" y2="388.5" stroke="#3f5f9f" stroke-width="0.8"/><line x1="78.5" y1="406.7" x2="84" y2="406.7" stroke="#3f5f9f" stroke-width="0.8"/><path d="M84 406.7 Q86 404.4 90 405 L93.5 404.6 M85.5 405.8 L92 406 M84.5 407.2 Q87.5 409.3 91.5 408.3 M87.5 406.5 Q90 408 93 407.3" stroke="#2d4f92" stroke-width="0.75" fill="none"/><line x1="54.5" y1="398.4" x2="78.5" y2="398.4" stroke="#3f5f9f" stroke-width="0.8"/><line x1="54.5" y1="398.4" x2="54.5" y2="435.4" stroke="#3f5f9f" stroke-width="0.8"/><line x1="51" y1="435.4" x2="54.5" y2="435.4" stroke="#333" stroke-width="0.8"/><line x1="51" y1="435.4" x2="51" y2="474" stroke="#333" stroke-width="0.8"/><line x1="51.8" y1="474" x2="51.8" y2="512.5" stroke="#a898cc" stroke-width="0.9"/><line x1="51.8" y1="512.5" x2="88.3" y2="512.5" stroke="#a898cc" stroke-width="0.8"/><line x1="88.3" y1="498.5" x2="88.3" y2="516" stroke="#8a78c0" stroke-width="0.9"/><path d="M88.3 499.4 L99.4 499.4 M90 499.4 Q92 497.5 94.5 497.8 M88.3 501.6 L101.6 501.6 M89 504 Q91 502.3 94 503 Q95.5 504.5 93 506 Q91 506.5 90 505 M88.3 507.5 Q91 506 94.5 507.5 Q93 509.6 90 509 M88.3 512 L99.4 512 M88.3 515.7 L101.6 515.7 M89.5 514 L95 513.5" stroke="#8a78c0" stroke-width="0.85" fill="none"/><circle cx="99.4" cy="512" r="1.1" fill="#8a78c0"/><line x1="26.6" y1="518" x2="82.5" y2="518" stroke="#444" stroke-width="0.9"/><line x1="26.6" y1="474" x2="26.6" y2="518" stroke="#444" stroke-width="0.9"/><line x1="26.6" y1="474" x2="51" y2="474" stroke="#444" stroke-width="0.9"/><line x1="15.9" y1="495.9" x2="26.6" y2="495.9" stroke="#555" stroke-width="0.8"/><line x1="15.9" y1="495.9" x2="15.9" y2="520.4" stroke="#555" stroke-width="0.8"/><line x1="16.4" y1="507" x2="16.4" y2="520.4" stroke="#777" stroke-width="0.9"/><line x1="15.9" y1="520.4" x2="19.2" y2="520.4" stroke="#555" stroke-width="0.8"/><circle cx="19.6" cy="520.6" r="0.7" fill="none" stroke="#666" stroke-width="0.5"/><line x1="51" y1="473.3" x2="61.2" y2="473.3" stroke="#333" stroke-width="0.8"/><line x1="61.2" y1="452.6" x2="61.2" y2="473.3" stroke="#333" stroke-width="0.8"/><line x1="61.2" y1="473.3" x2="61.2" y2="490.5" stroke="#f0a050" stroke-width="0.8"/><line x1="61.2" y1="490.5" x2="77.2" y2="490.5" stroke="#f0a050" stroke-width="0.8"/><line x1="77.2" y1="483.9" x2="77.2" y2="497.2" stroke="#f0a050" stroke-width="0.8"/><line x1="77.2" y1="497.2" x2="109" y2="497.2" stroke="#f0a050" stroke-width="0.8"/><line x1="77.2" y1="483.9" x2="82.4" y2="483.9" stroke="#f0a050" stroke-width="0.8"/><line x1="82.4" y1="466.1" x2="82.4" y2="494.2" stroke="#f0a050" stroke-width="0.8"/><line x1="82.4" y1="466.1" x2="84.6" y2="466.1" stroke="#f0a050" stroke-width="0.8"/><line x1="84.6" y1="463.9" x2="84.6" y2="470.5" stroke="#f0a050" stroke-width="0.8"/><path d="M84.6 464 Q86 461.5 89 462 Q91.5 462.8 90.5 465 Q89 467 86.5 466.3 M86 462.5 L88.5 460.5 M88.5 464.5 L92 463.8" stroke="#f0a050" stroke-width="0.85" fill="none"/><line x1="84.6" y1="470.5" x2="88.3" y2="470.5" stroke="#f0a050" stroke-width="0.8"/><path d="M88.3 470.5 Q90 468 92.5 469 M88.3 470.5 L95 470.5 Q96.5 468.5 99 468.8 Q101.5 469.5 100 471.2 Q98 472 96 471 M99 468.5 L102.4 467.8" stroke="#f0a050" stroke-width="0.85" fill="none"/><line x1="86.8" y1="474.2" x2="86.8" y2="482.4" stroke="#f0a050" stroke-width="0.8"/><line x1="82.4" y1="478.3" x2="86.8" y2="478.3" stroke="#f0a050" stroke-width="0.8"/><line x1="86.8" y1="474.2" x2="117.2" y2="474.2" stroke="#f0a050" stroke-width="0.8"/><line x1="92.7" y1="477.9" x2="115.7" y2="477.9" stroke="#f0a050" stroke-width="0.8"/><path d="M92.7 477.9 Q93 474.5 95.5 474 Q98.5 473.5 98 476 Q97 478.5 94.5 478.2 M95 476 L99.4 478.7 M94 479.5 L98 480.5" stroke="#f0a050" stroke-width="0.85" fill="none"/><line x1="86.8" y1="482.4" x2="92.7" y2="482.4" stroke="#f0a050" stroke-width="0.8"/><line x1="82.4" y1="494.2" x2="88" y2="494.2" stroke="#f0a050" stroke-width="0.8"/><path d="M88 494.2 Q89 491 91 490 L93.5 487 M90 492 L95 491.5 M91 490 Q93 488.5 96 489 M93.5 487 L97 484 M94 486.5 L99.4 486.5 M89 494.5 Q92 495.5 95 494" stroke="#f0a050" stroke-width="0.85" fill="none"/><line x1="61.2" y1="452.6" x2="74" y2="452.6" stroke="#333" stroke-width="0.8"/><line x1="74" y1="447" x2="74" y2="459.7" stroke="#333" stroke-width="0.8"/><line x1="74" y1="459.7" x2="81.1" y2="459.7" stroke="#333" stroke-width="0.8"/><line x1="74" y1="447" x2="80.3" y2="441.5" stroke="#333" stroke-width="0.8"/><line x1="80.3" y1="441.5" x2="80.3" y2="454.2" stroke="#cc7ac4" stroke-width="0.8"/><line x1="80.3" y1="454.2" x2="99.3" y2="454.2" stroke="#cc7ac4" stroke-width="0.8"/><line x1="99.3" y1="448.5" x2="99.3" y2="459" stroke="#cc7ac4" stroke-width="0.8"/><path d="M99.3 449.75 Q100.5 448.65 103.3 449.15 M100.7 449.45 L103.5 450.25" stroke="#cc7ac4" stroke-width="0.8" fill="none"/><path d="M99.3 452.25 Q100.5 451.15 103.3 451.65 M100.7 451.95 L103.5 452.75" stroke="#cc7ac4" stroke-width="0.8" fill="none"/><path d="M100.5 456 Q101.55 454.9 104 455.4 M101.72 455.7 L104.17 456.5" stroke="#cc7ac4" stroke-width="0.8" fill="none"/><path d="M100.5 458 Q101.55 456.9 104 457.4 M101.72 457.7 L104.17 458.5" stroke="#cc7ac4" stroke-width="0.8" fill="none"/><line x1="99.3" y1="446.5" x2="139.8" y2="446.5" stroke="#cc7ac4" stroke-width="0.8"/><path d="M118 446.5 Q121 444 124 446.5 Q121 448.5 118 446.5 M130 447.5 L139.8 448.5 M131 445.2 L140 445.5 M130 446.5 Q128 449.5 133 449" stroke="#cc7ac4" stroke-width="0.8" fill="none"/><line x1="80.3" y1="441.5" x2="86.6" y2="441.5" stroke="#333" stroke-width="0.8"/><line x1="86.6" y1="433.5" x2="86.6" y2="443" stroke="#333" stroke-width="0.8"/><line x1="86.6" y1="443" x2="104.1" y2="443" stroke="#333" stroke-width="1.1"/><line x1="86.6" y1="439.1" x2="104.9" y2="439.1" stroke="#2e9b62" stroke-width="0.9"/><line x1="101.3" y1="436.9" x2="112.8" y2="436.9" stroke="#8cc34b" stroke-width="0.7"/><line x1="86.6" y1="433.5" x2="92.2" y2="433.5" stroke="#333" stroke-width="0.8"/><line x1="92.2" y1="425.6" x2="92.2" y2="436" stroke="#333" stroke-width="0.8"/><line x1="92.2" y1="435.1" x2="124.5" y2="435.1" stroke="#9a48a8" stroke-width="0.9"/><path d="M124.5 435.1 L131.8 435.1 M124.5 435.1 Q127 432 131 432.3 M126 435.1 Q128 437.5 131.5 437 M128.5 432 L130 430.5" stroke="#9a48a8" stroke-width="0.9" fill="none"/><line x1="92.2" y1="425.6" x2="97" y2="425.6" stroke="#333" stroke-width="0.8"/><line x1="97" y1="424" x2="97" y2="428" stroke="#333" stroke-width="0.8"/><line x1="97" y1="428" x2="108" y2="428" stroke="#333" stroke-width="0.8"/><line x1="97" y1="424" x2="104.1" y2="424" stroke="#333" stroke-width="0.8"/><line x1="104.1" y1="420.9" x2="104.1" y2="424" stroke="#333" stroke-width="0.8"/><line x1="104.1" y1="420.9" x2="111.2" y2="420.9" stroke="#a67bc4" stroke-width="0.8"/><line x1="111.2" y1="416.9" x2="111.2" y2="425.6" stroke="#a67bc4" stroke-width="0.8"/><line x1="111.59" y1="418" x2="114.63" y2="417.43" stroke="#a67bc4" stroke-width="0.6375"/><line x1="111.59" y1="418" x2="112.13" y2="417.18" stroke="#a67bc4" stroke-width="0.75"/><line x1="112.13" y1="417.18" x2="114.98" y2="416.49" stroke="#a67bc4" stroke-width="0.6375"/><line x1="113.27" y1="416.78" x2="114.87" y2="415.81" stroke="#a67bc4" stroke-width="0.6000000000000001"/><line x1="112.13" y1="417.18" x2="112.53" y2="416.36" stroke="#a67bc4" stroke-width="0.75"/><line x1="112.53" y1="416.36" x2="114.74" y2="416.07" stroke="#a67bc4" stroke-width="0.6375"/><line x1="113.41" y1="416.03" x2="114.06" y2="415.28" stroke="#a67bc4" stroke-width="0.6000000000000001"/><line x1="112.53" y1="416.36" x2="113.45" y2="415.54" stroke="#a67bc4" stroke-width="0.75"/><line x1="113.45" y1="415.54" x2="115.48" y2="414.75" stroke="#a67bc4" stroke-width="0.6375"/><line x1="114.26" y1="415.27" x2="114.86" y2="414.36" stroke="#a67bc4" stroke-width="0.6000000000000001"/><line x1="113.45" y1="415.54" x2="113.87" y2="414.72" stroke="#a67bc4" stroke-width="0.75"/><line x1="113.87" y1="414.72" x2="115.5" y2="414.1" stroke="#a67bc4" stroke-width="0.6375"/><line x1="113.87" y1="414.72" x2="114.51" y2="413.9" stroke="#a67bc4" stroke-width="0.75"/><line x1="114.51" y1="413.9" x2="116.19" y2="413.62" stroke="#a67bc4" stroke-width="0.6375"/><line x1="114.51" y1="413.9" x2="114.94" y2="413.08" stroke="#a67bc4" stroke-width="0.75"/><line x1="114.94" y1="413.08" x2="115.92" y2="412.54" stroke="#a67bc4" stroke-width="0.6375"/><line x1="114.94" y1="413.08" x2="115.41" y2="412.26" stroke="#a67bc4" stroke-width="0.75"/><line x1="115.41" y1="412.26" x2="116.66" y2="412" stroke="#a67bc4" stroke-width="0.6375"/><line x1="115.91" y1="412.12" x2="116.57" y2="410.99" stroke="#a67bc4" stroke-width="0.6000000000000001"/><line x1="115.41" y1="412.26" x2="116.14" y2="411.44" stroke="#a67bc4" stroke-width="0.75"/><line x1="116.14" y1="411.44" x2="117.42" y2="410.91" stroke="#a67bc4" stroke-width="0.6375"/><line x1="116.14" y1="411.44" x2="117.01" y2="410.62" stroke="#a67bc4" stroke-width="0.75"/><line x1="117.01" y1="410.62" x2="117.78" y2="410.46" stroke="#a67bc4" stroke-width="0.6375"/><line x1="117.32" y1="410.91" x2="118.28" y2="410.26" stroke="#a67bc4" stroke-width="0.6000000000000001"/><line x1="117.01" y1="410.62" x2="117.26" y2="409.8" stroke="#a67bc4" stroke-width="0.75"/><line x1="117.26" y1="409.8" x2="118.18" y2="409.62" stroke="#a67bc4" stroke-width="0.6375"/><path d="M111.2 418.75 Q112.55 417.65 115.7 418.15 M112.78 418.45 L115.92 419.25" stroke="#a67bc4" stroke-width="0.8" fill="none"/><path d="M111.2 421.25 Q112.55 420.15 115.7 420.65 M112.78 420.95 L115.92 421.75" stroke="#a67bc4" stroke-width="0.8" fill="none"/><path d="M111.2 423.8 Q112.4 422.7 115.2 423.2 M112.6 423.5 L115.4 424.3" stroke="#a67bc4" stroke-width="0.8" fill="none"/><path d="M111.2 425.4 Q112.4 424.3 115.2 424.8 M112.6 425.1 L115.4 425.9" stroke="#a67bc4" stroke-width="0.8" fill="none"/><text x="109" y="443.4" font-size="7.6" fill="#1a1a1a" textLength="24.5" lengthAdjust="spacingAndGlyphs" stroke="#1a1a1a" stroke-width="0.15">2.3.4.4f</text><polygon points="157.3,24.4 158.23,26.63 160.63,26.82 158.8,28.39 159.36,30.73 157.3,29.47 155.24,30.73 155.8,28.39 153.97,26.82 156.37,26.63" fill="#2a9a5a"/><polygon points="139,268.9 139.93,271.13 142.33,271.32 140.5,272.89 141.06,275.23 139,273.97 136.94,275.23 137.5,272.89 135.67,271.32 138.07,271.13" fill="#e0262b"/><polygon points="130.5,307.9 131.43,310.13 133.83,310.32 132,311.89 132.56,314.23 130.5,312.97 128.44,314.23 129,311.89 127.17,310.32 129.57,310.13" fill="#f5a623"/><line x1="0" y1="0" x2="0" y2="0" stroke="#000" stroke-width="0"/><line x1="11.2" y1="534.4" x2="151.8" y2="534.4" stroke="#222" stroke-width="1.2"/><line x1="11.2" y1="534.4" x2="11.2" y2="538.3" stroke="#222" stroke-width="1.2"/><line x1="20.03" y1="534.4" x2="20.03" y2="536.7" stroke="#222" stroke-width="1.0"/><line x1="28.86" y1="534.4" x2="28.86" y2="536.7" stroke="#222" stroke-width="1.0"/><line x1="37.69" y1="534.4" x2="37.69" y2="536.7" stroke="#222" stroke-width="1.0"/><line x1="46.52" y1="534.4" x2="46.52" y2="536.7" stroke="#222" stroke-width="1.0"/><line x1="55.35" y1="534.4" x2="55.35" y2="538.3" stroke="#222" stroke-width="1.2"/><line x1="64.18" y1="534.4" x2="64.18" y2="536.7" stroke="#222" stroke-width="1.0"/><line x1="73.01" y1="534.4" x2="73.01" y2="536.7" stroke="#222" stroke-width="1.0"/><line x1="81.84" y1="534.4" x2="81.84" y2="536.7" stroke="#222" stroke-width="1.0"/><line x1="90.67" y1="534.4" x2="90.67" y2="536.7" stroke="#222" stroke-width="1.0"/><line x1="99.5" y1="534.4" x2="99.5" y2="538.3" stroke="#222" stroke-width="1.2"/><line x1="108.33" y1="534.4" x2="108.33" y2="536.7" stroke="#222" stroke-width="1.0"/><line x1="117.16" y1="534.4" x2="117.16" y2="536.7" stroke="#222" stroke-width="1.0"/><line x1="125.99" y1="534.4" x2="125.99" y2="536.7" stroke="#222" stroke-width="1.0"/><line x1="134.82" y1="534.4" x2="134.82" y2="536.7" stroke="#222" stroke-width="1.0"/><line x1="143.65" y1="534.4" x2="143.65" y2="538.3" stroke="#222" stroke-width="1.2"/><text x="11.2" y="545.8" font-size="7.6" fill="#1a1a1a" text-anchor="middle" textLength="13.6" lengthAdjust="spacingAndGlyphs" stroke="#1a1a1a" stroke-width="0.15">2005</text><text x="55.35" y="545.8" font-size="7.6" fill="#1a1a1a" text-anchor="middle" textLength="13.6" lengthAdjust="spacingAndGlyphs" stroke="#1a1a1a" stroke-width="0.15">2010</text><text x="99.5" y="545.8" font-size="7.6" fill="#1a1a1a" text-anchor="middle" textLength="13.6" lengthAdjust="spacingAndGlyphs" stroke="#1a1a1a" stroke-width="0.15">2015</text><text x="143.65" y="545.8" font-size="7.6" fill="#1a1a1a" text-anchor="middle" textLength="13.6" lengthAdjust="spacingAndGlyphs" stroke="#1a1a1a" stroke-width="0.15">2020</text><text x="18" y="228.1" font-size="7.6" fill="#1a1a1a" textLength="21.5" lengthAdjust="spacingAndGlyphs" stroke="#1a1a1a" stroke-width="0.12">Clade</text><rect x="7.6" y="233.4" width="8" height="6.8" fill="#5b2a8a"/><text x="18.9" y="239.5" font-size="7.4" fill="#1a1a1a" textLength="26.1" lengthAdjust="spacingAndGlyphs" stroke="#1a1a1a" stroke-width="0.12">2.3.4.4a</text><rect x="7.6" y="244.65" width="8" height="6.8" fill="#1f3d7c"/><text x="18.9" y="250.75" font-size="7.4" fill="#1a1a1a" textLength="26.1" lengthAdjust="spacingAndGlyphs" stroke="#1a1a1a" stroke-width="0.12">2.3.4.4b</text><rect x="7.6" y="255.9" width="8" height="6.8" fill="#f7941d"/><text x="18.9" y="262" font-size="7.4" fill="#1a1a1a" textLength="26.1" lengthAdjust="spacingAndGlyphs" stroke="#1a1a1a" stroke-width="0.12">2.3.4.4c</text><rect x="7.6" y="267.15" width="8" height="6.8" fill="#8cc34b"/><text x="18.9" y="273.25" font-size="7.4" fill="#1a1a1a" textLength="26.1" lengthAdjust="spacingAndGlyphs" stroke="#1a1a1a" stroke-width="0.12">2.3.4.4d</text><rect x="7.6" y="278.4" width="8" height="6.8" fill="#a77bc4"/><text x="18.9" y="284.5" font-size="7.4" fill="#1a1a1a" textLength="26.1" lengthAdjust="spacingAndGlyphs" stroke="#1a1a1a" stroke-width="0.12">2.3.4.4e</text><rect x="7.6" y="289.65" width="8" height="6.8" fill="#2e9b62"/><text x="18.9" y="295.75" font-size="7.4" fill="#1a1a1a" textLength="26.1" lengthAdjust="spacingAndGlyphs" stroke="#1a1a1a" stroke-width="0.12">2.3.4.4f</text><rect x="7.6" y="300.9" width="8" height="6.8" fill="#cf72c2"/><text x="18.9" y="307" font-size="7.4" fill="#1a1a1a" textLength="26.1" lengthAdjust="spacingAndGlyphs" stroke="#1a1a1a" stroke-width="0.12">2.3.4.4g</text><rect x="7.6" y="312.15" width="8" height="6.8" fill="#6a2282"/><text x="18.9" y="318.25" font-size="7.4" fill="#1a1a1a" textLength="26.1" lengthAdjust="spacingAndGlyphs" stroke="#1a1a1a" stroke-width="0.12">2.3.4.4h</text><polygon points="11.1,326.5 11.89,328.41 13.95,328.57 12.38,329.92 12.86,331.93 11.1,330.85 9.34,331.93 9.82,329.92 8.25,328.57 10.31,328.41" fill="#e0262b"/><text x="17.3" y="332" font-size="7.2" fill="#1a1a1a" textLength="58.3" lengthAdjust="spacingAndGlyphs" stroke="#1a1a1a" stroke-width="0.12">Pakistan A(H5N8)</text><polygon points="11.1,337 11.89,338.91 13.95,339.07 12.38,340.42 12.86,342.43 11.1,341.35 9.34,342.43 9.82,340.42 8.25,339.07 10.31,338.91" fill="#2a9a5a"/><text x="17.3" y="342.5" font-size="7.2" fill="#1a1a1a" textLength="51.9" lengthAdjust="spacingAndGlyphs" stroke="#1a1a1a" stroke-width="0.12">human A(H5N8)</text><polygon points="11.1,347.8 11.89,349.71 13.95,349.87 12.38,351.22 12.86,353.23 11.1,352.15 9.34,353.23 9.82,351.22 8.25,349.87 10.31,349.71" fill="#f0a030"/><text x="17.3" y="353.3" font-size="7.2" fill="#1a1a1a" textLength="43.7" lengthAdjust="spacingAndGlyphs" stroke="#1a1a1a" stroke-width="0.12">vaccine strain</text><text x="208.8" y="13.5" font-size="9.6" fill="#1a1a1a" stroke="#1a1a1a" stroke-width="0.08">b</text><text x="219.9" y="13.5" font-size="9.6" fill="#1a1a1a" textLength="59.5" lengthAdjust="spacingAndGlyphs" stroke="#1a1a1a" stroke-width="0.08">H5 (Pakistan)</text><line x1="304.5" y1="40" x2="304.5" y2="270" stroke="#7aa6cc" stroke-width="0.6" stroke-dasharray="1.2 1.4"/><text x="315.6" y="23.15" font-size="4.7" fill="#e0303a" textLength="90.2" lengthAdjust="spacingAndGlyphs" stroke="#e0303a" stroke-width="0.08">A/environment/Pakistan/527/2018_H5N8_2018/12/13</text><text x="316" y="27.83" font-size="4.7" fill="#e0303a" textLength="76.8" lengthAdjust="spacingAndGlyphs" stroke="#e0303a" stroke-width="0.08">A/quail/Pakistan/666/2018_H5N8_2018/12/17</text><text x="312.7" y="32.51" font-size="4.7" fill="#e0303a" textLength="82.7" lengthAdjust="spacingAndGlyphs" stroke="#e0303a" stroke-width="0.08">A/chicken/Pakistan/521/2018_H5N8_2018/10/18</text><text x="316" y="37.19" font-size="4.7" fill="#e0303a" textLength="85" lengthAdjust="spacingAndGlyphs" stroke="#e0303a" stroke-width="0.08">A/chicken/Pakistan/1000/2018_H5N8_2018/12/17</text><text x="296.6" y="41.87" font-size="4.6" fill="#3c5189" textLength="116.9" lengthAdjust="spacingAndGlyphs" stroke="#3c5189" stroke-width="0.03">Asia/A/duck/Saudi_Arabia/KFU-HKU2018_2017/2017_H5N8_2017/12</text><text x="296.6" y="46.55" font-size="4.6" fill="#3c5189" textLength="115.4" lengthAdjust="spacingAndGlyphs" stroke="#3c5189" stroke-width="0.03">Asia/A/pigeon/Saudi_Arabia/KFU-HKU3558_2017/2017_H5N8_2017/12</text><text x="296.6" y="51.23" font-size="4.6" fill="#3c5189" textLength="116.4" lengthAdjust="spacingAndGlyphs" stroke="#3c5189" stroke-width="0.03">Asia/A/pigeon/Saudi_Arabia/KFU-HKU3560_2017/2017_H5N8_2017/12</text><text x="296.6" y="55.91" font-size="4.6" fill="#3c5189" textLength="114.9" lengthAdjust="spacingAndGlyphs" stroke="#3c5189" stroke-width="0.03">Asia/A/duck/Saudi_Arabia/KFU-HKU2017_2017/2017_H5N8_2017/12</text><text x="296.6" y="60.59" font-size="4.6" fill="#3c5189" textLength="115.9" lengthAdjust="spacingAndGlyphs" stroke="#3c5189" stroke-width="0.03">Asia/A/duck/Saudi_Arabia/KFU-HKU2016_2017/2017_H5N8_2017/12</text><text x="296.6" y="65.27" font-size="4.6" fill="#3c5189" textLength="117.4" lengthAdjust="spacingAndGlyphs" stroke="#3c5189" stroke-width="0.03">Asia/A/ostrich/Saudi_Arabia/KFU-HKU3559_2017/2017_H5N8_2017/12</text><text x="296.6" y="69.95" font-size="4.6" fill="#3c5189" textLength="116.9" lengthAdjust="spacingAndGlyphs" stroke="#3c5189" stroke-width="0.03">Asia/A/ostrich/Saudi_Arabia/KFU-HKU3562_2017/2017_H5N8_2017/12</text><text x="296.6" y="74.63" font-size="4.6" fill="#3c5189" textLength="116.4" lengthAdjust="spacingAndGlyphs" stroke="#3c5189" stroke-width="0.03">Asia/A/ostrich/Saudi_Arabia/KFU-HKU3561_2017/2017_H5N8_2017/12</text><text x="297.4" y="79.31" font-size="4.6" fill="#3c5189" textLength="116.5" lengthAdjust="spacingAndGlyphs" stroke="#3c5189" stroke-width="0.03">Asia/A/pigeon/Saudi_Arabia/KFU-HKU3557_2017/2017_H5N8_2017/12</text><text x="280.3" y="83.99" font-size="4.6" fill="#3c5189" textLength="78.5" lengthAdjust="spacingAndGlyphs" stroke="#3c5189" stroke-width="0.03">Asia/A/Chicken/Al-Ahsaa/A7/2017_H5N8_2017</text><text x="280.3" y="88.67" font-size="4.6" fill="#3c5189" textLength="78.5" lengthAdjust="spacingAndGlyphs" stroke="#3c5189" stroke-width="0.03">Asia/A/Chicken/Al-Ahsaa/A8/2017_H5N8_2017</text><text x="280.3" y="93.35" font-size="4.6" fill="#3c5189" textLength="93.1" lengthAdjust="spacingAndGlyphs" stroke="#3c5189" stroke-width="0.03">Asia/A/Ornamental_bird/Al-Qasim/A9/2017_H5N8_2017</text><text x="280.3" y="98.03" font-size="4.6" fill="#3c5189" textLength="73.7" lengthAdjust="spacingAndGlyphs" stroke="#3c5189" stroke-width="0.03">Asia/A/Bulbul/Riyadh/A4/2017_H5N8_2017</text><text x="280.3" y="102.71" font-size="4.6" fill="#3c5189" textLength="87.6" lengthAdjust="spacingAndGlyphs" stroke="#3c5189" stroke-width="0.03">Asia/A/Holland_pigeon/Riyadh/A3/2017_H5N8_2017</text><text x="280.3" y="107.39" font-size="4.6" fill="#3c5189" textLength="73.7" lengthAdjust="spacingAndGlyphs" stroke="#3c5189" stroke-width="0.03">Asia/A/Chicken/Riyadh/A6/2017_H5N8_2017</text><text x="280.3" y="112.07" font-size="4.6" fill="#3c5189" textLength="72.7" lengthAdjust="spacingAndGlyphs" stroke="#3c5189" stroke-width="0.03">Asia/A/Duck/Riyadh/A2/2017_H5N8_2017</text><text x="280.3" y="116.75" font-size="4.6" fill="#3c5189" textLength="73.7" lengthAdjust="spacingAndGlyphs" stroke="#3c5189" stroke-width="0.03">Asia/A/Falcon/Riyadh/A5/2017_H5N8_2017</text><text x="280.3" y="121.43" font-size="4.6" fill="#3c5189" textLength="72.1" lengthAdjust="spacingAndGlyphs" stroke="#3c5189" stroke-width="0.03">Asia/A/Turkey/Riyadh/A1/2017_H5N8_2017</text><text x="280.3" y="126.11" font-size="4.6" fill="#3c5189" textLength="76.9" lengthAdjust="spacingAndGlyphs" stroke="#3c5189" stroke-width="0.03">Asia/A/Chicken/Riyadh/A10/2017_H5N8_2017</text><text x="280.3" y="130.79" font-size="4.6" fill="#3c5189" textLength="77.6" lengthAdjust="spacingAndGlyphs" stroke="#3c5189" stroke-width="0.03">Asia/A/Chicken/Riyadh/A15/2017_H5N8_2017</text><text x="281.7" y="135.47" font-size="4.6" fill="#3c5189" textLength="96.6" lengthAdjust="spacingAndGlyphs" stroke="#3c5189" stroke-width="0.03">Asia/A/chicken/Iran/17RS904-29/2017_H5N8_2017/01/20</text><text x="286.4" y="140.15" font-size="4.6" fill="#3c5189" textLength="96.6" lengthAdjust="spacingAndGlyphs" stroke="#3c5189" stroke-width="0.03">Asia/A/duck/Bangladesh/19D812/2017_H5NX_2017/05/03</text><text x="286.4" y="144.83" font-size="4.6" fill="#3c5189" textLength="96.6" lengthAdjust="spacingAndGlyphs" stroke="#3c5189" stroke-width="0.03">Asia/A/duck/Bangladesh/19D849/2017_H5NX_2017/05/03</text><text x="286.4" y="149.51" font-size="4.6" fill="#3c5189" textLength="96.6" lengthAdjust="spacingAndGlyphs" stroke="#3c5189" stroke-width="0.03">Asia/A/duck/Bangladesh/19D853/2017_H5NX_2017/05/03</text><text x="286.4" y="154.19" font-size="4.6" fill="#3c5189" textLength="96.6" lengthAdjust="spacingAndGlyphs" stroke="#3c5189" stroke-width="0.03">Asia/A/goose/Bangladesh/19D855/2017_H5NX_2017/05/03</text><text x="286.4" y="158.87" font-size="4.6" fill="#3c5189" textLength="96.6" lengthAdjust="spacingAndGlyphs" stroke="#3c5189" stroke-width="0.03">Asia/A/duck/Bangladesh/19D857/2017_H5NX_2017/05/03</text><text x="280" y="163.55" font-size="4.6" fill="#3c5189" textLength="98.3" lengthAdjust="spacingAndGlyphs" stroke="#3c5189" stroke-width="0.03">Asia/A/duck/Bangladesh/19D770/2017_H5NX_2017/05/11</text><text x="282.2" y="168.23" font-size="4.6" fill="#3c5189" textLength="86.3" lengthAdjust="spacingAndGlyphs" stroke="#3c5189" stroke-width="0.03">Asia/A/Black_swan/Hubei/3/2017_H5N8_2017/01/12</text><text x="282.2" y="172.91" font-size="4.6" fill="#3c5189" textLength="86.3" lengthAdjust="spacingAndGlyphs" stroke="#3c5189" stroke-width="0.03">Asia/A/Black_swan/Hubei/2/2017_H5N8_2017/01/12</text><text x="279" y="177.59" font-size="4.6" fill="#3c5189" textLength="94.4" lengthAdjust="spacingAndGlyphs" stroke="#3c5189" stroke-width="0.03">Asia/A/Whooper_swan/Shanxi/1/2016_H5N8_2016/12/24</text><text x="297" y="182.27" font-size="4.6" fill="#3c5189" textLength="91" lengthAdjust="spacingAndGlyphs" stroke="#3c5189" stroke-width="0.03">Asia/A/Fujian/Sanyuan/21099/2017_H5N8_2017/12/25</text><text x="275.5" y="186.95" font-size="4.6" fill="#3c5189" textLength="78.5" lengthAdjust="spacingAndGlyphs" stroke="#3c5189" stroke-width="0.03">Asia/A/swan/China/ST-2016_H5N8_2016/12/18</text><text x="277" y="191.63" font-size="4.6" fill="#3c5189" textLength="94.8" lengthAdjust="spacingAndGlyphs" stroke="#3c5189" stroke-width="0.03">Asia/A/whooper_swan/Shanxi/C/2016_H5N8_2016/12/20</text><text x="278" y="196.31" font-size="4.6" fill="#3c5189" textLength="97" lengthAdjust="spacingAndGlyphs" stroke="#3c5189" stroke-width="0.03">Asia/A/Whooper_Swan/Sanmenxia/C/2016_H5N8_2016/11/23</text><text x="276" y="200.99" font-size="4.6" fill="#3c5189" textLength="97.4" lengthAdjust="spacingAndGlyphs" stroke="#3c5189" stroke-width="0.03">Asia/A/chicken/Iran/17RS854-01/2018_H5N8_2018/01/04</text><text x="281.2" y="205.67" font-size="4.6" fill="#3c5189" textLength="90.6" lengthAdjust="spacingAndGlyphs" stroke="#3c5189" stroke-width="0.03">Africa/A/duck/Egypt/A13768/2017_H5N8_2017/02/16</text><text x="282.3" y="210.35" font-size="4.6" fill="#3c5189" textLength="85.7" lengthAdjust="spacingAndGlyphs" stroke="#3c5189" stroke-width="0.03">Africa/A/teal/Egypt/1198C/2017_H5N8_2017/02/28</text><text x="286.5" y="215.03" font-size="4.6" fill="#3c5189" textLength="146.8" lengthAdjust="spacingAndGlyphs" stroke="#3c5189" stroke-width="0.03">Africa/A/duck/Democratic_Republic_of_the_Congo/17RS882-4/2017_H5N8_2017/05/13</text><text x="286.5" y="219.71" font-size="4.6" fill="#3c5189" textLength="145.1" lengthAdjust="spacingAndGlyphs" stroke="#3c5189" stroke-width="0.03">Africa/A/duck/Democratic_Republic_of_the_Congo/17RS882-3/2017_H5N8_2017/05/14</text><text x="280.2" y="224.39" font-size="4.6" fill="#3c5189" textLength="97.4" lengthAdjust="spacingAndGlyphs" stroke="#3c5189" stroke-width="0.03">Africa/A/duck/Cameroon/17RS1661-3/2017_H5N8_2017/01</text><text x="279" y="229.07" font-size="4.6" fill="#3c5189" textLength="99.3" lengthAdjust="spacingAndGlyphs" stroke="#3c5189" stroke-width="0.03">Africa/A/chicken/Uganda/17RS115-15/2017_H5NX_2017/01</text><text x="278" y="233.75" font-size="4.6" fill="#3c5189" textLength="123.5" lengthAdjust="spacingAndGlyphs" stroke="#3c5189" stroke-width="0.03">Africa/A/grey-headed_gull/Uganda/MUWRP-538/2017_H5NX_2017/01/04</text><text x="282.3" y="238.43" font-size="4.6" fill="#3c5189" textLength="96" lengthAdjust="spacingAndGlyphs" stroke="#3c5189" stroke-width="0.03">Europe/A/mute_swan/Poland/84/2017_H5N8_2017/01/01</text><text x="283.3" y="243.11" font-size="4.6" fill="#3c5189" textLength="93.3" lengthAdjust="spacingAndGlyphs" stroke="#3c5189" stroke-width="0.03">Europe/A/chicken/Croatia/104/2017_H5N8_2017/03/07</text><text x="281.2" y="247.79" font-size="4.6" fill="#3c5189" textLength="100.3" lengthAdjust="spacingAndGlyphs" stroke="#3c5189" stroke-width="0.03">Europe/A/gadwall/Italy/17VIR133-2/2017_H5N8_2017/01/10</text><text x="279" y="252.47" font-size="4.6" fill="#3c5189" textLength="100.9" lengthAdjust="spacingAndGlyphs" stroke="#3c5189" stroke-width="0.03">Europe/A/swan/Germany-SN/R10640/2016_H5N8_2016/12/13</text><text x="281.2" y="257.15" font-size="4.6" fill="#3c5189" textLength="103.5" lengthAdjust="spacingAndGlyphs" stroke="#3c5189" stroke-width="0.03">Europe/A/cormorant/Germany-SH/R8595/2017_H5N8_2017/01/30</text><text x="280" y="261.83" font-size="4.6" fill="#3c5189" textLength="133.9" lengthAdjust="spacingAndGlyphs" stroke="#3c5189" stroke-width="0.03">Europe/A/greylag_goose/Germany-NI/AR11365-L02452/2016_H5N8_2016/12/07</text><text x="276" y="266.51" font-size="4.6" fill="#3c5189" textLength="102.9" lengthAdjust="spacingAndGlyphs" stroke="#3c5189" stroke-width="0.03">Europe/A/environment/Kamchatka/19/2016_H5NX_2016/10/01</text><polygon points="410,18.2 410.82,20.17 412.95,20.34 411.33,21.73 411.82,23.81 410,22.7 408.18,23.81 408.67,21.73 407.05,20.34 409.18,20.17" fill="#e0262b"/><polygon points="396.2,22.88 397.02,24.85 399.15,25.02 397.53,26.41 398.02,28.49 396.2,27.38 394.38,28.49 394.87,26.41 393.25,25.02 395.38,24.85" fill="#e0262b"/><polygon points="399.3,27.56 400.12,29.53 402.25,29.7 400.63,31.09 401.12,33.17 399.3,32.05 397.48,33.17 397.97,31.09 396.35,29.7 398.48,29.53" fill="#e0262b"/><polygon points="405.1,32.24 405.92,34.21 408.05,34.38 406.43,35.77 406.92,37.85 405.1,36.73 403.28,37.85 403.77,35.77 402.15,34.38 404.28,34.21" fill="#e0262b"/><polygon points="391.8,177.32 392.62,179.29 394.75,179.46 393.13,180.85 393.62,182.93 391.8,181.82 389.98,182.93 390.47,180.85 388.85,179.46 390.98,179.29" fill="#f5a623"/><line x1="305.3" y1="35.54" x2="314.4" y2="35.54" stroke="#e0262b" stroke-width="0.8"/><line x1="308.5" y1="30.86" x2="311.1" y2="30.86" stroke="#e0262b" stroke-width="0.8"/><line x1="311" y1="21.5" x2="314" y2="21.5" stroke="#e0262b" stroke-width="0.8"/><line x1="311" y1="26.18" x2="314.4" y2="26.18" stroke="#e0262b" stroke-width="0.8"/><line x1="311" y1="21.5" x2="311" y2="26.18" stroke="#e0262b" stroke-width="0.8"/><line x1="308.5" y1="23.84" x2="311" y2="23.84" stroke="#e0262b" stroke-width="0.8"/><line x1="308.5" y1="23.84" x2="308.5" y2="30.86" stroke="#e0262b" stroke-width="0.8"/><line x1="305.3" y1="27.35" x2="308.5" y2="27.35" stroke="#e0262b" stroke-width="0.8"/><line x1="305.3" y1="27.35" x2="305.3" y2="35.54" stroke="#e0262b" stroke-width="0.8"/><line x1="290.6" y1="33.8" x2="305.3" y2="33.8" stroke="#e0262b" stroke-width="0.8"/><line x1="292.58" y1="40.22" x2="294.2" y2="40.22" stroke="#2f5aa0" stroke-width="0.8"/><line x1="292.58" y1="44.9" x2="294.2" y2="44.9" stroke="#2f5aa0" stroke-width="0.8"/><line x1="292.58" y1="40.22" x2="292.58" y2="44.9" stroke="#2f5aa0" stroke-width="0.8"/><line x1="291.8" y1="42.56" x2="292.58" y2="42.56" stroke="#2f5aa0" stroke-width="0.8"/><line x1="292.3" y1="49.58" x2="294.2" y2="49.58" stroke="#2f5aa0" stroke-width="0.8"/><line x1="292.3" y1="54.26" x2="294.2" y2="54.26" stroke="#2f5aa0" stroke-width="0.8"/><line x1="292.3" y1="58.94" x2="294.2" y2="58.94" stroke="#2f5aa0" stroke-width="0.8"/><line x1="292.3" y1="63.62" x2="294.2" y2="63.62" stroke="#2f5aa0" stroke-width="0.8"/><line x1="292.3" y1="68.3" x2="294.2" y2="68.3" stroke="#2f5aa0" stroke-width="0.8"/><line x1="292.3" y1="72.98" x2="294.2" y2="72.98" stroke="#2f5aa0" stroke-width="0.8"/><line x1="292.3" y1="49.58" x2="292.3" y2="72.98" stroke="#2f5aa0" stroke-width="0.8"/><line x1="291.8" y1="61.28" x2="292.3" y2="61.28" stroke="#2f5aa0" stroke-width="0.8"/><line x1="291.8" y1="42.56" x2="291.8" y2="61.28" stroke="#2f5aa0" stroke-width="0.8"/><line x1="290.6" y1="51.92" x2="291.8" y2="51.92" stroke="#2f5aa0" stroke-width="0.8"/><line x1="290.6" y1="33.8" x2="290.6" y2="51.92" stroke="#2f5aa0" stroke-width="0.8"/><line x1="289.2" y1="42.86" x2="290.6" y2="42.86" stroke="#2f5aa0" stroke-width="0.8"/><line x1="289.2" y1="77.66" x2="294.2" y2="77.66" stroke="#2f5aa0" stroke-width="0.8"/><line x1="289.2" y1="42.86" x2="289.2" y2="77.66" stroke="#2f5aa0" stroke-width="0.8"/><line x1="273.9" y1="68.7" x2="289.2" y2="68.7" stroke="#2f5aa0" stroke-width="0.8"/><line x1="275.1" y1="82.34" x2="276.2" y2="82.34" stroke="#2f5aa0" stroke-width="0.8"/><line x1="275.1" y1="87.02" x2="276.2" y2="87.02" stroke="#2f5aa0" stroke-width="0.8"/><line x1="275.1" y1="91.7" x2="276.2" y2="91.7" stroke="#2f5aa0" stroke-width="0.8"/><line x1="275.1" y1="96.38" x2="276.2" y2="96.38" stroke="#2f5aa0" stroke-width="0.8"/><line x1="275.1" y1="82.34" x2="275.1" y2="96.38" stroke="#2f5aa0" stroke-width="0.8"/><line x1="274.6" y1="89.36" x2="275.1" y2="89.36" stroke="#2f5aa0" stroke-width="0.8"/><line x1="275.3" y1="101.06" x2="276.2" y2="101.06" stroke="#2f5aa0" stroke-width="0.8"/><line x1="275.3" y1="105.74" x2="276.2" y2="105.74" stroke="#2f5aa0" stroke-width="0.8"/><line x1="275.3" y1="110.42" x2="276.2" y2="110.42" stroke="#2f5aa0" stroke-width="0.8"/><line x1="275.3" y1="115.1" x2="276.2" y2="115.1" stroke="#2f5aa0" stroke-width="0.8"/><line x1="275.3" y1="119.78" x2="276.2" y2="119.78" stroke="#2f5aa0" stroke-width="0.8"/><line x1="275.3" y1="124.46" x2="276.2" y2="124.46" stroke="#2f5aa0" stroke-width="0.8"/><line x1="275.3" y1="101.06" x2="275.3" y2="124.46" stroke="#2f5aa0" stroke-width="0.8"/><line x1="274.6" y1="112.76" x2="275.3" y2="112.76" stroke="#2f5aa0" stroke-width="0.8"/><line x1="274.6" y1="89.36" x2="274.6" y2="112.76" stroke="#2f5aa0" stroke-width="0.8"/><line x1="273.9" y1="101.06" x2="274.6" y2="101.06" stroke="#2f5aa0" stroke-width="0.8"/><line x1="273.9" y1="68.7" x2="273.9" y2="101.06" stroke="#2f5aa0" stroke-width="1.6"/><line x1="272.2" y1="119.8" x2="273.9" y2="119.8" stroke="#2f5aa0" stroke-width="1.6"/><line x1="272.2" y1="129.14" x2="276.2" y2="129.14" stroke="#2f5aa0" stroke-width="0.8"/><line x1="272.2" y1="119.8" x2="272.2" y2="129.14" stroke="#2f5aa0" stroke-width="0.8"/><line x1="265.8" y1="120.4" x2="272.2" y2="120.4" stroke="#2f5aa0" stroke-width="0.8"/><line x1="265.8" y1="133.82" x2="277" y2="133.82" stroke="#2f5aa0" stroke-width="0.8"/><line x1="265.8" y1="120.4" x2="265.8" y2="133.82" stroke="#2f5aa0" stroke-width="0.8"/><line x1="263.6" y1="128" x2="265.8" y2="128" stroke="#2f5aa0" stroke-width="0.8"/><line x1="280.9" y1="138.5" x2="284.8" y2="138.5" stroke="#2f5aa0" stroke-width="0.8"/><line x1="282.32" y1="143.18" x2="284.8" y2="143.18" stroke="#2f5aa0" stroke-width="0.8"/><line x1="282.32" y1="147.86" x2="284.8" y2="147.86" stroke="#2f5aa0" stroke-width="0.8"/><line x1="282.32" y1="143.18" x2="282.32" y2="147.86" stroke="#2f5aa0" stroke-width="0.8"/><line x1="280.9" y1="145.52" x2="282.32" y2="145.52" stroke="#2f5aa0" stroke-width="0.8"/><line x1="280.9" y1="138.5" x2="280.9" y2="145.52" stroke="#2f5aa0" stroke-width="0.8"/><line x1="278.2" y1="142.01" x2="280.9" y2="142.01" stroke="#2f5aa0" stroke-width="0.8"/><line x1="280.96" y1="152.54" x2="284.8" y2="152.54" stroke="#2f5aa0" stroke-width="0.8"/><line x1="280.96" y1="157.22" x2="284.8" y2="157.22" stroke="#2f5aa0" stroke-width="0.8"/><line x1="280.96" y1="152.54" x2="280.96" y2="157.22" stroke="#2f5aa0" stroke-width="0.8"/><line x1="278.2" y1="154.88" x2="280.96" y2="154.88" stroke="#2f5aa0" stroke-width="0.8"/><line x1="278.2" y1="142.01" x2="278.2" y2="154.88" stroke="#2f5aa0" stroke-width="0.8"/><line x1="275.2" y1="148.44" x2="278.2" y2="148.44" stroke="#2f5aa0" stroke-width="0.8"/><line x1="275.2" y1="161.9" x2="278.4" y2="161.9" stroke="#2f5aa0" stroke-width="0.8"/><line x1="275.2" y1="148.44" x2="275.2" y2="161.9" stroke="#2f5aa0" stroke-width="0.8"/><line x1="263.6" y1="155.17" x2="275.2" y2="155.17" stroke="#2f5aa0" stroke-width="0.8"/><line x1="263.6" y1="128" x2="263.6" y2="155.17" stroke="#2f5aa0" stroke-width="0.8"/><line x1="259.5" y1="140.4" x2="263.6" y2="140.4" stroke="#2f5aa0" stroke-width="0.8"/><line x1="274" y1="166.58" x2="280.6" y2="166.58" stroke="#2f5aa0" stroke-width="0.8"/><line x1="275.68" y1="171.26" x2="280.6" y2="171.26" stroke="#2f5aa0" stroke-width="0.8"/><line x1="275.68" y1="175.94" x2="277.4" y2="175.94" stroke="#2f5aa0" stroke-width="0.8"/><line x1="275.68" y1="171.26" x2="275.68" y2="175.94" stroke="#2f5aa0" stroke-width="0.8"/><line x1="274" y1="173.6" x2="275.68" y2="173.6" stroke="#2f5aa0" stroke-width="0.8"/><line x1="274" y1="166.58" x2="274" y2="173.6" stroke="#2f5aa0" stroke-width="0.8"/><line x1="272.3" y1="170.09" x2="274" y2="170.09" stroke="#2f5aa0" stroke-width="0.8"/><line x1="272.3" y1="180.62" x2="295.5" y2="180.62" stroke="#2f5aa0" stroke-width="0.8"/><line x1="272.3" y1="170.09" x2="272.3" y2="180.62" stroke="#2f5aa0" stroke-width="0.8"/><line x1="266.5" y1="175.35" x2="272.3" y2="175.35" stroke="#2f5aa0" stroke-width="0.8"/><line x1="268.7" y1="185.3" x2="273.9" y2="185.3" stroke="#2f5aa0" stroke-width="0.8"/><line x1="271" y1="189.98" x2="275.4" y2="189.98" stroke="#2f5aa0" stroke-width="0.8"/><line x1="271" y1="194.66" x2="276.4" y2="194.66" stroke="#2f5aa0" stroke-width="0.8"/><line x1="271" y1="189.98" x2="271" y2="194.66" stroke="#2f5aa0" stroke-width="0.8"/><line x1="268.7" y1="192.32" x2="271" y2="192.32" stroke="#2f5aa0" stroke-width="0.8"/><line x1="268.7" y1="199.34" x2="274.4" y2="199.34" stroke="#2f5aa0" stroke-width="0.8"/><line x1="268.7" y1="185.3" x2="268.7" y2="199.34" stroke="#2f5aa0" stroke-width="0.8"/><line x1="266.5" y1="192.32" x2="268.7" y2="192.32" stroke="#2f5aa0" stroke-width="0.8"/><line x1="266.5" y1="175.35" x2="266.5" y2="192.32" stroke="#2f5aa0" stroke-width="0.8"/><line x1="259.5" y1="183.84" x2="266.5" y2="183.84" stroke="#2f5aa0" stroke-width="0.8"/><line x1="268.6" y1="204.02" x2="279.6" y2="204.02" stroke="#2f5aa0" stroke-width="0.8"/><line x1="268.6" y1="208.7" x2="280.7" y2="208.7" stroke="#2f5aa0" stroke-width="0.8"/><line x1="268.6" y1="204.02" x2="268.6" y2="208.7" stroke="#2f5aa0" stroke-width="0.8"/><line x1="263.3" y1="206.36" x2="268.6" y2="206.36" stroke="#2f5aa0" stroke-width="0.8"/><line x1="278" y1="213.38" x2="284.9" y2="213.38" stroke="#2f5aa0" stroke-width="0.8"/><line x1="278" y1="218.06" x2="284.9" y2="218.06" stroke="#2f5aa0" stroke-width="0.8"/><line x1="278" y1="213.38" x2="278" y2="218.06" stroke="#2f5aa0" stroke-width="0.8"/><line x1="268.6" y1="215.72" x2="278" y2="215.72" stroke="#2f5aa0" stroke-width="0.8"/><line x1="268.6" y1="222.74" x2="278.6" y2="222.74" stroke="#2f5aa0" stroke-width="0.8"/><line x1="273" y1="227.42" x2="277.4" y2="227.42" stroke="#2f5aa0" stroke-width="0.8"/><line x1="273" y1="232.1" x2="276.4" y2="232.1" stroke="#2f5aa0" stroke-width="0.8"/><line x1="273" y1="227.42" x2="273" y2="232.1" stroke="#2f5aa0" stroke-width="0.8"/><line x1="268.6" y1="229.76" x2="273" y2="229.76" stroke="#2f5aa0" stroke-width="0.8"/><line x1="268.6" y1="215.72" x2="268.6" y2="229.76" stroke="#2f5aa0" stroke-width="0.8"/><line x1="263.3" y1="222.74" x2="268.6" y2="222.74" stroke="#2f5aa0" stroke-width="0.8"/><line x1="263.3" y1="206.36" x2="263.3" y2="222.74" stroke="#2f5aa0" stroke-width="0.8"/><line x1="259.5" y1="211.4" x2="263.3" y2="211.4" stroke="#2f5aa0" stroke-width="0.8"/><line x1="259.5" y1="140.4" x2="259.5" y2="211.4" stroke="#2f5aa0" stroke-width="0.8"/><line x1="255" y1="176.8" x2="259.5" y2="176.8" stroke="#2f5aa0" stroke-width="0.8"/><line x1="275.7" y1="236.78" x2="280.7" y2="236.78" stroke="#2f5aa0" stroke-width="0.8"/><line x1="275.7" y1="241.46" x2="281.7" y2="241.46" stroke="#2f5aa0" stroke-width="0.8"/><line x1="275.7" y1="236.78" x2="275.7" y2="241.46" stroke="#2f5aa0" stroke-width="0.8"/><line x1="274.7" y1="239.12" x2="275.7" y2="239.12" stroke="#2f5aa0" stroke-width="0.8"/><line x1="274.7" y1="246.14" x2="279.6" y2="246.14" stroke="#2f5aa0" stroke-width="0.8"/><line x1="274.7" y1="239.12" x2="274.7" y2="246.14" stroke="#2f5aa0" stroke-width="0.8"/><line x1="273.7" y1="242.63" x2="274.7" y2="242.63" stroke="#2f5aa0" stroke-width="0.8"/><line x1="273.7" y1="250.82" x2="277.4" y2="250.82" stroke="#2f5aa0" stroke-width="0.8"/><line x1="273.7" y1="242.63" x2="273.7" y2="250.82" stroke="#2f5aa0" stroke-width="0.8"/><line x1="272.7" y1="246.72" x2="273.7" y2="246.72" stroke="#2f5aa0" stroke-width="0.8"/><line x1="272.7" y1="255.5" x2="279.6" y2="255.5" stroke="#2f5aa0" stroke-width="0.8"/><line x1="272.7" y1="246.72" x2="272.7" y2="255.5" stroke="#2f5aa0" stroke-width="0.8"/><line x1="271.7" y1="251.11" x2="272.7" y2="251.11" stroke="#2f5aa0" stroke-width="0.8"/><line x1="271.7" y1="260.18" x2="278.4" y2="260.18" stroke="#2f5aa0" stroke-width="0.8"/><line x1="271.7" y1="251.11" x2="271.7" y2="260.18" stroke="#2f5aa0" stroke-width="0.8"/><line x1="264.3" y1="255.65" x2="271.7" y2="255.65" stroke="#2f5aa0" stroke-width="0.8"/><line x1="264.3" y1="264.86" x2="274.4" y2="264.86" stroke="#2f5aa0" stroke-width="0.8"/><line x1="264.3" y1="255.65" x2="264.3" y2="264.86" stroke="#2f5aa0" stroke-width="0.8"/><line x1="255" y1="261.2" x2="264.3" y2="261.2" stroke="#2f5aa0" stroke-width="0.8"/><line x1="255" y1="176.8" x2="255" y2="261.2" stroke="#2f5aa0" stroke-width="0.8"/><line x1="252.6" y1="218.6" x2="254.4" y2="218.6" stroke="#888" stroke-width="0.6"/><text x="329.6" y="14.2" font-size="6.2" fill="#1a1a1a" textLength="34.7" lengthAdjust="spacingAndGlyphs" stroke="#1a1a1a" stroke-width="0.12">G46E, E251K</text><line x1="326.2" y1="12.7" x2="313.5" y2="19.2" stroke="#111" stroke-width="1.1"/><polygon points="310.6,20.8 314.8,17.3 315.4,20.6" fill="#111"/><text x="299.3" y="29.1" font-size="6.0" fill="#1a1a1a" text-anchor="end" textLength="15.6" lengthAdjust="spacingAndGlyphs" stroke="#1a1a1a" stroke-width="0.12">D155N</text><text x="247.9" y="103.6" font-size="6.5" fill="#1a1a1a" text-anchor="middle" textLength="31.8" lengthAdjust="spacingAndGlyphs" stroke="#1a1a1a" stroke-width="0.12">A83T, D88G,</text><text x="248.8" y="111.3" font-size="6.5" fill="#1a1a1a" text-anchor="middle" textLength="17.2" lengthAdjust="spacingAndGlyphs" stroke="#1a1a1a" stroke-width="0.12">R169Q</text><line x1="259.6" y1="107.6" x2="268.4" y2="115.6" stroke="#111" stroke-width="1.1"/><polygon points="271,118.3 266.3,116.4 269.2,113.4" fill="#111"/><text x="280.4" y="67.2" font-size="6.0" fill="#1a1a1a" text-anchor="middle" textLength="10.5" lengthAdjust="spacingAndGlyphs" stroke="#1a1a1a" stroke-width="0.1">0.97</text><text x="257.1" y="140" font-size="6.0" fill="#1a1a1a" text-anchor="middle" textLength="10.5" lengthAdjust="spacingAndGlyphs" stroke="#1a1a1a" stroke-width="0.1">0.97</text><text x="251.8" y="175.3" font-size="6.0" fill="#1a1a1a" text-anchor="middle" textLength="10.5" lengthAdjust="spacingAndGlyphs" stroke="#1a1a1a" stroke-width="0.1">0.98</text><text x="243.4" y="207.3" font-size="6.0" fill="#1a1a1a" text-anchor="middle" textLength="10.5" lengthAdjust="spacingAndGlyphs" stroke="#1a1a1a" stroke-width="0.1">0.98</text><line x1="250.5" y1="205.3" x2="257.5" y2="208.8" stroke="#111" stroke-width="1.1"/><polygon points="260.6,210.8 255.8,210.1 257.6,206.6" fill="#111"/><text x="307.6" y="21.8" font-size="6.0" fill="#333" text-anchor="middle">1</text><text x="300.6" y="36" font-size="6.0" fill="#333" text-anchor="middle">1</text><text x="268.7" y="125.9" font-size="6.0" fill="#333" text-anchor="middle">1</text><text x="269.4" y="153.4" font-size="6.0" fill="#333" text-anchor="middle">1</text><text x="275.5" y="147.8" font-size="6.0" fill="#333" text-anchor="middle">1</text><text x="278.3" y="142.1" font-size="6.0" fill="#333" text-anchor="middle">1</text><text x="273.5" y="167.4" font-size="6.0" fill="#333" text-anchor="middle">1</text><text x="267.2" y="187.6" font-size="6.0" fill="#333" text-anchor="middle">1</text><text x="268" y="204.6" font-size="6.0" fill="#333" text-anchor="middle">1</text><text x="284.5" y="213.6" font-size="6.0" fill="#333" text-anchor="middle">1</text><text x="268.5" y="223.6" font-size="6.0" fill="#333" text-anchor="middle">1</text><text x="273.5" y="233.6" font-size="6.0" fill="#333" text-anchor="middle">1</text><text x="259.8" y="259.1" font-size="6.0" fill="#333" text-anchor="middle">1</text><text x="268" y="253.4" font-size="6.0" fill="#333" text-anchor="middle">1</text><line x1="240.3" y1="274" x2="347.7" y2="274" stroke="#222" stroke-width="1.2"/><line x1="240.3" y1="274" x2="240.3" y2="276.2" stroke="#222" stroke-width="1.1"/><text x="241.3" y="285.5" font-size="7.4" fill="#1a1a1a" text-anchor="middle" textLength="13.1" lengthAdjust="spacingAndGlyphs" stroke="#1a1a1a" stroke-width="0.15">2015</text><line x1="258.2" y1="274" x2="258.2" y2="276.2" stroke="#222" stroke-width="1.1"/><text x="259.2" y="285.5" font-size="7.4" fill="#1a1a1a" text-anchor="middle" textLength="13.1" lengthAdjust="spacingAndGlyphs" stroke="#1a1a1a" stroke-width="0.15">2016</text><line x1="276.1" y1="274" x2="276.1" y2="276.2" stroke="#222" stroke-width="1.1"/><text x="277.1" y="285.5" font-size="7.4" fill="#1a1a1a" text-anchor="middle" textLength="13.1" lengthAdjust="spacingAndGlyphs" stroke="#1a1a1a" stroke-width="0.15">2017</text><line x1="294" y1="274" x2="294" y2="276.2" stroke="#222" stroke-width="1.1"/><text x="295" y="285.5" font-size="7.4" fill="#1a1a1a" text-anchor="middle" textLength="13.1" lengthAdjust="spacingAndGlyphs" stroke="#1a1a1a" stroke-width="0.15">2018</text><line x1="311.9" y1="274" x2="311.9" y2="276.2" stroke="#222" stroke-width="1.1"/><text x="312.9" y="285.5" font-size="7.4" fill="#1a1a1a" text-anchor="middle" textLength="13.1" lengthAdjust="spacingAndGlyphs" stroke="#1a1a1a" stroke-width="0.15">2019</text><line x1="329.8" y1="274" x2="329.8" y2="276.2" stroke="#222" stroke-width="1.1"/><text x="330.8" y="285.5" font-size="7.4" fill="#1a1a1a" text-anchor="middle" textLength="13.1" lengthAdjust="spacingAndGlyphs" stroke="#1a1a1a" stroke-width="0.15">2020</text><line x1="347.7" y1="274" x2="347.7" y2="276.2" stroke="#222" stroke-width="1.1"/><text x="348.7" y="285.5" font-size="7.4" fill="#1a1a1a" text-anchor="middle" textLength="13.1" lengthAdjust="spacingAndGlyphs" stroke="#1a1a1a" stroke-width="0.15">2021</text><polygon points="302.4,269.2 306.6,269.2 304.5,272.8" fill="#5b9bc0"/><rect x="455.3" y="13.7" width="3.1" height="253.6" fill="#7198b9"/><text x="0" y="0" font-size="7.2" fill="#1a1a1a" textLength="35" lengthAdjust="spacingAndGlyphs" stroke="#1a1a1a" stroke-width="0.12" transform="translate(464.2 128) rotate(90)">subgroup 3</text><text x="211.8" y="308.9" font-size="9.6" fill="#1a1a1a" stroke="#1a1a1a" stroke-width="0.08">c</text><text x="221.9" y="308.9" font-size="9.6" fill="#1a1a1a" textLength="52.8" lengthAdjust="spacingAndGlyphs" stroke="#1a1a1a" stroke-width="0.08">H5 (Europe)</text><line x1="284.9" y1="305" x2="284.9" y2="529" stroke="#6cb36c" stroke-width="0.6" stroke-dasharray="1.2 1.4"/><text x="291.1" y="309.05" font-size="4.6" fill="#6db36d" textLength="88.9" lengthAdjust="spacingAndGlyphs" stroke="#6db36d" stroke-width="0.03">Europe/A/Astrakhan/321/2020_H5N8_2020/12/17</text><text x="291" y="313.33" font-size="4.6" fill="#3c5189" textLength="105" lengthAdjust="spacingAndGlyphs" stroke="#3c5189" stroke-width="0.03">Europe/A/chicken/Astrakhan/321-09/2020_H5N8_2020/12/12</text><text x="291" y="317.6" font-size="4.6" fill="#3c5189" textLength="105" lengthAdjust="spacingAndGlyphs" stroke="#3c5189" stroke-width="0.03">Europe/A/chicken/Astrakhan/321-10/2020_H5N8_2020/12/12</text><text x="288" y="321.88" font-size="4.6" fill="#3c5189" textLength="132" lengthAdjust="spacingAndGlyphs" stroke="#3c5189" stroke-width="0.03">Europe/A/chicken/Russia_Novosibirsk_region/19/2020_H5N8_2020/09/22</text><text x="288.6" y="326.15" font-size="4.6" fill="#3c5189" textLength="157.4" lengthAdjust="spacingAndGlyphs" stroke="#3c5189" stroke-width="0.03">Europe/A/barnacle_goose/Sweden/SVA201117SZ0493/KN000372/2020_H5N8_2020/11/12</text><text x="288.6" y="330.43" font-size="4.6" fill="#3c5189" textLength="115.4" lengthAdjust="spacingAndGlyphs" stroke="#3c5189" stroke-width="0.03">Europe/A/Greylag_goose/England/031106/2020_H5N8_2020/10/30</text><text x="291" y="334.71" font-size="4.6" fill="#3c5189" textLength="113.8" lengthAdjust="spacingAndGlyphs" stroke="#3c5189" stroke-width="0.03">Europe/A/chicken/Czech_Republic/1068/2020_H5N8_2020/11/03</text><text x="284.8" y="338.98" font-size="4.6" fill="#3c5189" textLength="129.1" lengthAdjust="spacingAndGlyphs" stroke="#3c5189" stroke-width="0.03">Asia/A/domestic_goose/Kazakhstan/1-242_3-20/2020_H5N8_2020/09/18</text><text x="289" y="343.26" font-size="4.6" fill="#3c5189" textLength="128.7" lengthAdjust="spacingAndGlyphs" stroke="#3c5189" stroke-width="0.03">Europe/A/mute_swan/Czech_Republic/1416/2020_H5N8_2020/11/19</text><text x="292.2" y="347.53" font-size="4.6" fill="#3c5189" textLength="119.8" lengthAdjust="spacingAndGlyphs" stroke="#3c5189" stroke-width="0.03">Europe/A/mute_swan/Czech_Republic/2600/2020_H5N8_2020/12/04</text><text x="292.2" y="351.81" font-size="4.6" fill="#3c5189" textLength="111.8" lengthAdjust="spacingAndGlyphs" stroke="#3c5189" stroke-width="0.03">Europe/A/chicken/Czech_Republic/2502-2/2020_H5N8_2020/12/03</text><text x="290.7" y="356.09" font-size="4.6" fill="#3c5189" textLength="119.9" lengthAdjust="spacingAndGlyphs" stroke="#3c5189" stroke-width="0.03">Europe/A/greylag_goose/Italy/20VIR7830/2020_H5N8_2020/11/29</text><text x="289.1" y="360.36" font-size="4.6" fill="#3c5189" textLength="92.4" lengthAdjust="spacingAndGlyphs" stroke="#3c5189" stroke-width="0.03">Europe/A/turkey/Croatia/104/2020_H5N8_2020/11/17</text><text x="289" y="364.64" font-size="4.6" fill="#3c5189" textLength="163.7" lengthAdjust="spacingAndGlyphs" stroke="#3c5189" stroke-width="0.03">Europe/A/Peregrine_falcon/Sweden/SVA201117SZ0453/KN000349/2020_H5N8_2020/11/10</text><text x="283.8" y="368.91" font-size="4.6" fill="#3c5189" textLength="113.9" lengthAdjust="spacingAndGlyphs" stroke="#3c5189" stroke-width="0.03">Asia/A/chicken/Kazakhstan/Kt-3/2020_H5N8_2020/08/04</text><text x="288" y="373.19" font-size="4.6" fill="#3c5189" textLength="104.8" lengthAdjust="spacingAndGlyphs" stroke="#3c5189" stroke-width="0.03">Europe/A/swan/Tumen/1479-2/2020_H5N8_2020/10/16</text><text x="290.2" y="377.47" font-size="4.6" fill="#3c5189" textLength="121.1" lengthAdjust="spacingAndGlyphs" stroke="#3c5189" stroke-width="0.03">Europe/A/common_teal/Italy/20VIR7839-2/2020_H5NX_2020/11/28</text><text x="289" y="381.74" font-size="4.6" fill="#3c5189" textLength="112" lengthAdjust="spacingAndGlyphs" stroke="#3c5189" stroke-width="0.03">Europe/A/mute_swan/Wales/043083/2020_H5N8_2020/11/29</text><text x="289" y="386.02" font-size="4.6" fill="#3c5189" textLength="111" lengthAdjust="spacingAndGlyphs" stroke="#3c5189" stroke-width="0.03">Europe/A/buzzard/Germany-MV/AR1149/2020_H5N8_2020/11/05</text><text x="287" y="390.29" font-size="4.6" fill="#3c5189" textLength="120.4" lengthAdjust="spacingAndGlyphs" stroke="#3c5189" stroke-width="0.03">Europe/A/chicken/Russia_Novosibirsk_region/3-1/2020_H5N8_2020/09/20</text><text x="290.2" y="394.57" font-size="4.6" fill="#3c5189" textLength="103.8" lengthAdjust="spacingAndGlyphs" stroke="#3c5189" stroke-width="0.03">Europe/A/turkey/England/20311501/2020_H5N8_2020/11/14</text><text x="289" y="398.85" font-size="4.6" fill="#3c5189" textLength="127.5" lengthAdjust="spacingAndGlyphs" stroke="#3c5189" stroke-width="0.03">Europe/A/barnacle_goose/Germany/AI02211/2020_H5N8_2020/10/28</text><text x="289" y="403.12" font-size="4.6" fill="#3c5189" textLength="123" lengthAdjust="spacingAndGlyphs" stroke="#3c5189" stroke-width="0.03">Europe/A/peregrine_falcon/Ireland/20VIR8173-1/2020_H5N8_2020/11/01</text><text x="289" y="407.4" font-size="4.6" fill="#3c5189" textLength="127.4" lengthAdjust="spacingAndGlyphs" stroke="#3c5189" stroke-width="0.03">Europe/A/mute_swan/Netherlands/20018751-001-005/2020_H5N8_2020/10/17</text><text x="286" y="411.67" font-size="4.6" fill="#3c5189" textLength="116.5" lengthAdjust="spacingAndGlyphs" stroke="#3c5189" stroke-width="0.03">Europe/A/goose/Russia_Omsk_region/55-1/2020_H5N8_2020/06/29</text><text x="290.2" y="415.95" font-size="4.6" fill="#3c5189" textLength="121.8" lengthAdjust="spacingAndGlyphs" stroke="#3c5189" stroke-width="0.03">Europe/A/Lesser_white-fronted_goose/Belgium/11588_002/2020_H5N8_2020/11/07</text><text x="290.2" y="420.23" font-size="4.6" fill="#3c5189" textLength="105.8" lengthAdjust="spacingAndGlyphs" stroke="#3c5189" stroke-width="0.03">Europe/A/chicken/France/20P015445/2020_H5N8_2020/11/10</text><text x="290" y="424.5" font-size="4.6" fill="#3c5189" textLength="114.8" lengthAdjust="spacingAndGlyphs" stroke="#3c5189" stroke-width="0.03">Europe/A/Canada_goose/England/20312751/2020_H5N8_2020/11/03</text><text x="290" y="428.78" font-size="4.6" fill="#3c5189" textLength="133.6" lengthAdjust="spacingAndGlyphs" stroke="#3c5189" stroke-width="0.03">Europe/A/barnacle_goose/Netherlands/20018769-005-010/2020_H5N8_2020/11/01</text><text x="291.2" y="433.05" font-size="4.6" fill="#3c5189" textLength="150.2" lengthAdjust="spacingAndGlyphs" stroke="#3c5189" stroke-width="0.03">Europe/A/chicken/Northern_Ireland/2020-17671_20VIR115-11/2020_H5N8_2020/12/31</text><text x="289.1" y="437.33" font-size="4.6" fill="#3c5189" textLength="110.2" lengthAdjust="spacingAndGlyphs" stroke="#3c5189" stroke-width="0.03">Europe/A/whistling_duck/England/320642/2020_H5N8_2020/11/16</text><text x="290.2" y="441.61" font-size="4.6" fill="#3c5189" textLength="105.8" lengthAdjust="spacingAndGlyphs" stroke="#3c5189" stroke-width="0.03">Europe/A/chicken/England/20312740/2020_H5N8_2020/11/10</text><text x="289" y="445.88" font-size="4.6" fill="#3c5189" textLength="134.6" lengthAdjust="spacingAndGlyphs" stroke="#3c5189" stroke-width="0.03">Europe/A/greylag_goose/Netherlands/20018770-001-005/2020_H5N8_2020/11/01</text><text x="288" y="450.16" font-size="4.6" fill="#3c5189" textLength="115.5" lengthAdjust="spacingAndGlyphs" stroke="#3c5189" stroke-width="0.03">Europe/A/Eurasian_Wigeon/Netherlands/1/2020_H5N8_2020/10/18</text><text x="290.2" y="454.43" font-size="4.6" fill="#3c5189" textLength="128.5" lengthAdjust="spacingAndGlyphs" stroke="#3c5189" stroke-width="0.03">Europe/A/chicken/Netherlands/20018970-004/2020_H5N8_2020/12/14</text><text x="288" y="458.71" font-size="4.6" fill="#3c5189" textLength="115.5" lengthAdjust="spacingAndGlyphs" stroke="#3c5189" stroke-width="0.03">Europe/A/Eurasian_Wigeon/Netherlands/2/2020_H5N8_2020/10/18</text><text x="290.2" y="462.99" font-size="4.6" fill="#3c5189" textLength="122" lengthAdjust="spacingAndGlyphs" stroke="#3c5189" stroke-width="0.03">Europe/A/chicken/Netherlands/20018978-001/2020_H5N8_2020/11/02</text><text x="286" y="467.26" font-size="4.6" fill="#3c5189" textLength="132.7" lengthAdjust="spacingAndGlyphs" stroke="#3c5189" stroke-width="0.03">Europe/A/goose/Russian_Federation/Omsk/1893-6/2020_H5NX_2020/09/03</text><text x="286" y="471.54" font-size="4.6" fill="#3c5189" textLength="132.7" lengthAdjust="spacingAndGlyphs" stroke="#3c5189" stroke-width="0.03">Europe/A/duck/Russian_Federation/Omsk/1326-2/2020_H5N8_2020/08/17</text><text x="280.3" y="475.81" font-size="4.6" fill="#3c5189" textLength="77.2" lengthAdjust="spacingAndGlyphs" stroke="#3c5189" stroke-width="0.03">Asia/A/chicken/Iraq/1/2020_H5N8_2020/05/12</text><text x="245.5" y="480.09" font-size="4.6" fill="#3c5189" textLength="92.9" lengthAdjust="spacingAndGlyphs" stroke="#3c5189" stroke-width="0.03">Europe/A/chicken/Kurgan/753/2018_H5N8_2018/05/20</text><text x="245.5" y="484.37" font-size="4.6" fill="#3c5189" textLength="92.9" lengthAdjust="spacingAndGlyphs" stroke="#3c5189" stroke-width="0.03">Europe/A/chicken/Kurgan/757/2018_H5N8_2018/05/20</text><text x="246.5" y="488.64" font-size="4.6" fill="#3c5189" textLength="93.5" lengthAdjust="spacingAndGlyphs" stroke="#3c5189" stroke-width="0.03">Europe/A/chicken/Chelyabinsk/880/2018_H5N8_2018/07/20</text><text x="249.7" y="492.92" font-size="4.6" fill="#3c5189" textLength="108.1" lengthAdjust="spacingAndGlyphs" stroke="#3c5189" stroke-width="0.03">Europe/A/turkey/Rostov-on-Don/1117/2018_H5N8_2018/09/28</text><text x="252.9" y="497.19" font-size="4.6" fill="#3c5189" textLength="105.1" lengthAdjust="spacingAndGlyphs" stroke="#3c5189" stroke-width="0.03">Europe/A/duck/Voronezh/1469/2018_H5N8_2018/11/02</text><text x="245.5" y="501.47" font-size="4.6" fill="#3c5189" textLength="92" lengthAdjust="spacingAndGlyphs" stroke="#3c5189" stroke-width="0.03">Europe/A/chicken/Samara/440/2018_H5N8_2018/08/22</text><text x="246.5" y="505.75" font-size="4.6" fill="#3c5189" textLength="91.9" lengthAdjust="spacingAndGlyphs" stroke="#3c5189" stroke-width="0.03">Europe/A/goose/Samara/439/2018_H5N8_2018/08/22</text><text x="245.5" y="510.02" font-size="4.6" fill="#3c5189" textLength="108.9" lengthAdjust="spacingAndGlyphs" stroke="#3c5189" stroke-width="0.03">Europe/A/chicken/Rostov-on-Don/785/2018_H5N8_2018/07/09</text><text x="245.5" y="514.3" font-size="4.6" fill="#3c5189" textLength="108.9" lengthAdjust="spacingAndGlyphs" stroke="#3c5189" stroke-width="0.03">Europe/A/turkey/Rostov-on-Don/817/2018_H5N8_2018/07/16</text><text x="245.5" y="518.57" font-size="4.6" fill="#3c5189" textLength="90.3" lengthAdjust="spacingAndGlyphs" stroke="#3c5189" stroke-width="0.03">Europe/A/chicken/Penza/301/2018_H5N8_2018/08/15</text><text x="245.5" y="522.85" font-size="4.6" fill="#3c5189" textLength="92" lengthAdjust="spacingAndGlyphs" stroke="#3c5189" stroke-width="0.03">Europe/A/chicken/Kursk/528/2018_H5N8_2018/08/13</text><text x="245.5" y="527.13" font-size="4.6" fill="#3c5189" textLength="90.3" lengthAdjust="spacingAndGlyphs" stroke="#3c5189" stroke-width="0.03">Europe/A/chicken/Orel/333/2018_H5N8_2018/08/20</text><polygon points="384.7,304.1 385.52,306.07 387.65,306.24 386.03,307.63 386.52,309.71 384.7,308.59 382.88,309.71 383.37,307.63 381.75,306.24 383.88,306.07" fill="#2a9a5a"/><line x1="285.3" y1="307.4" x2="289.5" y2="307.4" stroke="#2f5aa0" stroke-width="0.8"/><line x1="285.3" y1="311.68" x2="289.4" y2="311.68" stroke="#2f5aa0" stroke-width="0.8"/><line x1="285.3" y1="307.4" x2="285.3" y2="311.68" stroke="#2f5aa0" stroke-width="0.8"/><line x1="283.2" y1="309.54" x2="285.3" y2="309.54" stroke="#2f5aa0" stroke-width="0.8"/><line x1="283.2" y1="315.95" x2="289.4" y2="315.95" stroke="#2f5aa0" stroke-width="0.8"/><line x1="283.2" y1="309.54" x2="283.2" y2="315.95" stroke="#2f5aa0" stroke-width="0.8"/><line x1="276.7" y1="312.75" x2="283.2" y2="312.75" stroke="#2f5aa0" stroke-width="0.8"/><line x1="282.39" y1="320.23" x2="286.4" y2="320.23" stroke="#2f5aa0" stroke-width="0.8"/><line x1="282.39" y1="324.5" x2="287" y2="324.5" stroke="#2f5aa0" stroke-width="0.8"/><line x1="282.39" y1="320.23" x2="282.39" y2="324.5" stroke="#2f5aa0" stroke-width="0.8"/><line x1="280.5" y1="322.37" x2="282.39" y2="322.37" stroke="#2f5aa0" stroke-width="0.8"/><line x1="282.89" y1="328.78" x2="287" y2="328.78" stroke="#2f5aa0" stroke-width="0.8"/><line x1="282.89" y1="333.06" x2="289.4" y2="333.06" stroke="#2f5aa0" stroke-width="0.8"/><line x1="282.89" y1="328.78" x2="282.89" y2="333.06" stroke="#2f5aa0" stroke-width="0.8"/><line x1="280.5" y1="330.92" x2="282.89" y2="330.92" stroke="#2f5aa0" stroke-width="0.8"/><line x1="280.5" y1="322.37" x2="280.5" y2="330.92" stroke="#2f5aa0" stroke-width="0.8"/><line x1="276.7" y1="326.64" x2="280.5" y2="326.64" stroke="#2f5aa0" stroke-width="0.8"/><line x1="276.7" y1="312.75" x2="276.7" y2="326.64" stroke="#2f5aa0" stroke-width="0.8"/><line x1="274.6" y1="319.69" x2="276.7" y2="319.69" stroke="#2f5aa0" stroke-width="0.8"/><line x1="282.14" y1="337.33" x2="283.2" y2="337.33" stroke="#2f5aa0" stroke-width="0.8"/><line x1="284.46" y1="341.61" x2="287.4" y2="341.61" stroke="#2f5aa0" stroke-width="0.8"/><line x1="284.46" y1="345.88" x2="290.6" y2="345.88" stroke="#2f5aa0" stroke-width="0.8"/><line x1="284.46" y1="341.61" x2="284.46" y2="345.88" stroke="#2f5aa0" stroke-width="0.8"/><line x1="282.14" y1="343.75" x2="284.46" y2="343.75" stroke="#2f5aa0" stroke-width="0.8"/><line x1="282.14" y1="337.33" x2="282.14" y2="343.75" stroke="#2f5aa0" stroke-width="0.8"/><line x1="279.5" y1="340.54" x2="282.14" y2="340.54" stroke="#2f5aa0" stroke-width="0.8"/><line x1="283.12" y1="350.16" x2="290.6" y2="350.16" stroke="#2f5aa0" stroke-width="0.8"/><line x1="283.12" y1="354.44" x2="289.1" y2="354.44" stroke="#2f5aa0" stroke-width="0.8"/><line x1="283.12" y1="350.16" x2="283.12" y2="354.44" stroke="#2f5aa0" stroke-width="0.8"/><line x1="279.5" y1="352.3" x2="283.12" y2="352.3" stroke="#2f5aa0" stroke-width="0.8"/><line x1="279.5" y1="340.54" x2="279.5" y2="352.3" stroke="#2f5aa0" stroke-width="0.8"/><line x1="276" y1="346.42" x2="279.5" y2="346.42" stroke="#2f5aa0" stroke-width="0.8"/><line x1="278.5" y1="358.71" x2="287.5" y2="358.71" stroke="#2f5aa0" stroke-width="0.8"/><line x1="281.53" y1="362.99" x2="287.4" y2="362.99" stroke="#2f5aa0" stroke-width="0.8"/><line x1="282.72" y1="367.26" x2="282.2" y2="367.26" stroke="#2f5aa0" stroke-width="0.8"/><line x1="282.72" y1="371.54" x2="286.4" y2="371.54" stroke="#2f5aa0" stroke-width="0.8"/><line x1="282.72" y1="367.26" x2="282.72" y2="371.54" stroke="#2f5aa0" stroke-width="0.8"/><line x1="281.53" y1="369.4" x2="282.72" y2="369.4" stroke="#2f5aa0" stroke-width="0.8"/><line x1="281.53" y1="362.99" x2="281.53" y2="369.4" stroke="#2f5aa0" stroke-width="0.8"/><line x1="278.5" y1="366.19" x2="281.53" y2="366.19" stroke="#2f5aa0" stroke-width="0.8"/><line x1="278.5" y1="358.71" x2="278.5" y2="366.19" stroke="#2f5aa0" stroke-width="0.8"/><line x1="276" y1="362.45" x2="278.5" y2="362.45" stroke="#2f5aa0" stroke-width="0.8"/><line x1="276" y1="346.42" x2="276" y2="362.45" stroke="#2f5aa0" stroke-width="0.8"/><line x1="274.6" y1="354.44" x2="276" y2="354.44" stroke="#2f5aa0" stroke-width="0.8"/><line x1="279" y1="375.82" x2="288.6" y2="375.82" stroke="#2f5aa0" stroke-width="0.8"/><line x1="280.52" y1="380.09" x2="287.4" y2="380.09" stroke="#2f5aa0" stroke-width="0.8"/><line x1="281.89" y1="384.37" x2="287.4" y2="384.37" stroke="#2f5aa0" stroke-width="0.8"/><line x1="281.89" y1="388.64" x2="285.4" y2="388.64" stroke="#2f5aa0" stroke-width="0.8"/><line x1="281.89" y1="384.37" x2="281.89" y2="388.64" stroke="#2f5aa0" stroke-width="0.8"/><line x1="280.52" y1="386.51" x2="281.89" y2="386.51" stroke="#2f5aa0" stroke-width="0.8"/><line x1="280.52" y1="380.09" x2="280.52" y2="386.51" stroke="#2f5aa0" stroke-width="0.8"/><line x1="279" y1="383.3" x2="280.52" y2="383.3" stroke="#2f5aa0" stroke-width="0.8"/><line x1="279" y1="375.82" x2="279" y2="383.3" stroke="#2f5aa0" stroke-width="0.8"/><line x1="277.3" y1="379.56" x2="279" y2="379.56" stroke="#2f5aa0" stroke-width="0.8"/><line x1="282.49" y1="392.92" x2="288.6" y2="392.92" stroke="#2f5aa0" stroke-width="0.8"/><line x1="282.49" y1="397.2" x2="287.4" y2="397.2" stroke="#2f5aa0" stroke-width="0.8"/><line x1="282.49" y1="392.92" x2="282.49" y2="397.2" stroke="#2f5aa0" stroke-width="0.8"/><line x1="280" y1="395.06" x2="282.49" y2="395.06" stroke="#2f5aa0" stroke-width="0.8"/><line x1="282.1" y1="401.47" x2="287.4" y2="401.47" stroke="#2f5aa0" stroke-width="0.8"/><line x1="282.1" y1="405.75" x2="287.4" y2="405.75" stroke="#2f5aa0" stroke-width="0.8"/><line x1="282.1" y1="401.47" x2="282.1" y2="405.75" stroke="#2f5aa0" stroke-width="0.8"/><line x1="280" y1="403.61" x2="282.1" y2="403.61" stroke="#2f5aa0" stroke-width="0.8"/><line x1="280" y1="395.06" x2="280" y2="403.61" stroke="#2f5aa0" stroke-width="0.8"/><line x1="277.3" y1="399.33" x2="280" y2="399.33" stroke="#2f5aa0" stroke-width="0.8"/><line x1="277.3" y1="379.56" x2="277.3" y2="399.33" stroke="#2f5aa0" stroke-width="0.8"/><line x1="274.6" y1="389.45" x2="277.3" y2="389.45" stroke="#2f5aa0" stroke-width="0.8"/><line x1="284.25" y1="410.02" x2="284.4" y2="410.02" stroke="#2f5aa0" stroke-width="0.8"/><line x1="284.25" y1="414.3" x2="288.6" y2="414.3" stroke="#2f5aa0" stroke-width="0.8"/><line x1="284.25" y1="410.02" x2="284.25" y2="414.3" stroke="#2f5aa0" stroke-width="0.8"/><line x1="281.76" y1="412.16" x2="284.25" y2="412.16" stroke="#2f5aa0" stroke-width="0.8"/><line x1="281.76" y1="418.58" x2="288.6" y2="418.58" stroke="#2f5aa0" stroke-width="0.8"/><line x1="281.76" y1="412.16" x2="281.76" y2="418.58" stroke="#2f5aa0" stroke-width="0.8"/><line x1="279" y1="415.37" x2="281.76" y2="415.37" stroke="#2f5aa0" stroke-width="0.8"/><line x1="279" y1="422.85" x2="288.4" y2="422.85" stroke="#2f5aa0" stroke-width="0.8"/><line x1="279" y1="415.37" x2="279" y2="422.85" stroke="#2f5aa0" stroke-width="0.8"/><line x1="274.6" y1="419.11" x2="279" y2="419.11" stroke="#2f5aa0" stroke-width="0.8"/><line x1="274.6" y1="319.69" x2="274.6" y2="419.11" stroke="#2f5aa0" stroke-width="1.4"/><line x1="272.2" y1="402" x2="274.6" y2="402" stroke="#2f5aa0" stroke-width="1.4"/><line x1="281.5" y1="427.13" x2="288.4" y2="427.13" stroke="#2f5aa0" stroke-width="0.8"/><line x1="283.99" y1="431.4" x2="289.6" y2="431.4" stroke="#2f5aa0" stroke-width="0.8"/><line x1="283.99" y1="435.68" x2="287.5" y2="435.68" stroke="#2f5aa0" stroke-width="0.8"/><line x1="283.99" y1="431.4" x2="283.99" y2="435.68" stroke="#2f5aa0" stroke-width="0.8"/><line x1="282.82" y1="433.54" x2="283.99" y2="433.54" stroke="#2f5aa0" stroke-width="0.8"/><line x1="282.82" y1="439.96" x2="288.6" y2="439.96" stroke="#2f5aa0" stroke-width="0.8"/><line x1="282.82" y1="433.54" x2="282.82" y2="439.96" stroke="#2f5aa0" stroke-width="0.8"/><line x1="281.5" y1="436.75" x2="282.82" y2="436.75" stroke="#2f5aa0" stroke-width="0.8"/><line x1="281.5" y1="427.13" x2="281.5" y2="436.75" stroke="#2f5aa0" stroke-width="0.8"/><line x1="278.6" y1="431.94" x2="281.5" y2="431.94" stroke="#2f5aa0" stroke-width="0.8"/><line x1="283.59" y1="444.23" x2="287.4" y2="444.23" stroke="#2f5aa0" stroke-width="0.8"/><line x1="284.21" y1="448.51" x2="286.4" y2="448.51" stroke="#2f5aa0" stroke-width="0.8"/><line x1="284.21" y1="452.78" x2="288.6" y2="452.78" stroke="#2f5aa0" stroke-width="0.8"/><line x1="284.21" y1="448.51" x2="284.21" y2="452.78" stroke="#2f5aa0" stroke-width="0.8"/><line x1="283.59" y1="450.65" x2="284.21" y2="450.65" stroke="#2f5aa0" stroke-width="0.8"/><line x1="283.59" y1="444.23" x2="283.59" y2="450.65" stroke="#2f5aa0" stroke-width="0.8"/><line x1="280.5" y1="447.44" x2="283.59" y2="447.44" stroke="#2f5aa0" stroke-width="0.8"/><line x1="282.47" y1="457.06" x2="286.4" y2="457.06" stroke="#2f5aa0" stroke-width="0.8"/><line x1="282.47" y1="461.34" x2="288.6" y2="461.34" stroke="#2f5aa0" stroke-width="0.8"/><line x1="282.47" y1="457.06" x2="282.47" y2="461.34" stroke="#2f5aa0" stroke-width="0.8"/><line x1="280.5" y1="459.2" x2="282.47" y2="459.2" stroke="#2f5aa0" stroke-width="0.8"/><line x1="280.5" y1="447.44" x2="280.5" y2="459.2" stroke="#2f5aa0" stroke-width="0.8"/><line x1="278.6" y1="453.32" x2="280.5" y2="453.32" stroke="#2f5aa0" stroke-width="0.8"/><line x1="278.6" y1="431.94" x2="278.6" y2="453.32" stroke="#2f5aa0" stroke-width="0.8"/><line x1="272.2" y1="442.63" x2="278.6" y2="442.63" stroke="#2f5aa0" stroke-width="0.8"/><line x1="272.2" y1="402" x2="272.2" y2="442.63" stroke="#2f5aa0" stroke-width="1.1"/><line x1="267.2" y1="434" x2="272.2" y2="434" stroke="#2f5aa0" stroke-width="1.1"/><line x1="275" y1="465.61" x2="284.4" y2="465.61" stroke="#2f5aa0" stroke-width="0.8"/><line x1="275" y1="469.89" x2="284.4" y2="469.89" stroke="#2f5aa0" stroke-width="0.8"/><line x1="275" y1="465.61" x2="275" y2="469.89" stroke="#2f5aa0" stroke-width="0.8"/><line x1="270.5" y1="467.75" x2="275" y2="467.75" stroke="#2f5aa0" stroke-width="0.8"/><line x1="270.5" y1="474.16" x2="278.7" y2="474.16" stroke="#2f5aa0" stroke-width="0.8"/><line x1="270.5" y1="467.75" x2="270.5" y2="474.16" stroke="#2f5aa0" stroke-width="0.8"/><line x1="267.2" y1="468" x2="270.5" y2="468" stroke="#2f5aa0" stroke-width="0.8"/><line x1="267.2" y1="434" x2="267.2" y2="468" stroke="#2f5aa0" stroke-width="1.1"/><line x1="224.3" y1="456.4" x2="267.2" y2="456.4" stroke="#2f5aa0" stroke-width="1.1"/><line x1="240.29" y1="478.44" x2="243.9" y2="478.44" stroke="#2f5aa0" stroke-width="0.8"/><line x1="240.29" y1="482.72" x2="243.9" y2="482.72" stroke="#2f5aa0" stroke-width="0.8"/><line x1="240.29" y1="478.44" x2="240.29" y2="482.72" stroke="#2f5aa0" stroke-width="0.8"/><line x1="239.3" y1="480.58" x2="240.29" y2="480.58" stroke="#2f5aa0" stroke-width="0.8"/><line x1="240.92" y1="486.99" x2="244.9" y2="486.99" stroke="#2f5aa0" stroke-width="0.8"/><line x1="240.92" y1="491.27" x2="248.1" y2="491.27" stroke="#2f5aa0" stroke-width="0.8"/><line x1="240.92" y1="486.99" x2="240.92" y2="491.27" stroke="#2f5aa0" stroke-width="0.8"/><line x1="240.29" y1="489.13" x2="240.92" y2="489.13" stroke="#2f5aa0" stroke-width="0.8"/><line x1="240.29" y1="495.54" x2="251.3" y2="495.54" stroke="#2f5aa0" stroke-width="0.8"/><line x1="240.29" y1="489.13" x2="240.29" y2="495.54" stroke="#2f5aa0" stroke-width="0.8"/><line x1="239.3" y1="492.34" x2="240.29" y2="492.34" stroke="#2f5aa0" stroke-width="0.8"/><line x1="239.3" y1="480.58" x2="239.3" y2="492.34" stroke="#2f5aa0" stroke-width="0.8"/><line x1="237.8" y1="486.46" x2="239.3" y2="486.46" stroke="#2f5aa0" stroke-width="0.8"/><line x1="239.8" y1="499.82" x2="243.9" y2="499.82" stroke="#2f5aa0" stroke-width="0.8"/><line x1="239.8" y1="504.1" x2="244.9" y2="504.1" stroke="#2f5aa0" stroke-width="0.8"/><line x1="239.8" y1="499.82" x2="239.8" y2="504.1" stroke="#2f5aa0" stroke-width="0.8"/><line x1="238.9" y1="501.96" x2="239.8" y2="501.96" stroke="#2f5aa0" stroke-width="0.8"/><line x1="240.61" y1="508.37" x2="243.9" y2="508.37" stroke="#2f5aa0" stroke-width="0.8"/><line x1="240.61" y1="512.65" x2="243.9" y2="512.65" stroke="#2f5aa0" stroke-width="0.8"/><line x1="240.61" y1="516.92" x2="243.9" y2="516.92" stroke="#2f5aa0" stroke-width="0.8"/><line x1="240.61" y1="521.2" x2="243.9" y2="521.2" stroke="#2f5aa0" stroke-width="0.8"/><line x1="240.61" y1="508.37" x2="240.61" y2="521.2" stroke="#2f5aa0" stroke-width="0.8"/><line x1="240.15" y1="514.79" x2="240.61" y2="514.79" stroke="#2f5aa0" stroke-width="0.8"/><line x1="240.15" y1="525.48" x2="243.9" y2="525.48" stroke="#2f5aa0" stroke-width="0.8"/><line x1="240.15" y1="514.79" x2="240.15" y2="525.48" stroke="#2f5aa0" stroke-width="0.8"/><line x1="238.9" y1="520.13" x2="240.15" y2="520.13" stroke="#2f5aa0" stroke-width="0.8"/><line x1="238.9" y1="501.96" x2="238.9" y2="520.13" stroke="#2f5aa0" stroke-width="0.8"/><line x1="237.8" y1="511.04" x2="238.9" y2="511.04" stroke="#2f5aa0" stroke-width="0.8"/><line x1="237.8" y1="486.46" x2="237.8" y2="511.04" stroke="#2f5aa0" stroke-width="1.0"/><line x1="224.3" y1="512" x2="237.8" y2="512" stroke="#2f5aa0" stroke-width="1.0"/><line x1="224.3" y1="456.4" x2="224.3" y2="512" stroke="#2f5aa0" stroke-width="1.1"/><line x1="224.3" y1="456.4" x2="267.2" y2="456.4" stroke="#2d5aa0" stroke-width="1.5"/><line x1="213.7" y1="484.4" x2="224.3" y2="484.4" stroke="#2f5aa0" stroke-width="1.0"/><text x="244.6" y="446.6" font-size="6.6" fill="#1a1a1a" text-anchor="middle" textLength="37.6" lengthAdjust="spacingAndGlyphs" stroke="#1a1a1a" stroke-width="0.12">T140A, N236D,</text><text x="244.6" y="453.5" font-size="6.6" fill="#1a1a1a" text-anchor="middle" textLength="37.6" lengthAdjust="spacingAndGlyphs" stroke="#1a1a1a" stroke-width="0.12">V522A, V532M</text><text x="221.2" y="522" font-size="6.4" fill="#1a1a1a" text-anchor="middle" textLength="32.9" lengthAdjust="spacingAndGlyphs" stroke="#1a1a1a" stroke-width="0.12">D97N, I549V</text><text x="282.4" y="343.3" font-size="6.0" fill="#1a1a1a" text-anchor="middle" textLength="10.6" lengthAdjust="spacingAndGlyphs" stroke="#1a1a1a" stroke-width="0.1">0.99</text><text x="258.5" y="373" font-size="6.0" fill="#1a1a1a" text-anchor="middle" textLength="10.6" lengthAdjust="spacingAndGlyphs" stroke="#1a1a1a" stroke-width="0.1">0.99</text><text x="257.1" y="473.6" font-size="6.0" fill="#1a1a1a" text-anchor="middle" textLength="10.6" lengthAdjust="spacingAndGlyphs" stroke="#1a1a1a" stroke-width="0.1">0.99</text><text x="233.8" y="487.4" font-size="6.0" fill="#1a1a1a" text-anchor="middle" textLength="10.6" lengthAdjust="spacingAndGlyphs" stroke="#1a1a1a" stroke-width="0.1">0.97</text><line x1="265.7" y1="369.3" x2="271.8" y2="366.4" stroke="#111" stroke-width="1.1"/><polygon points="274.6,365.2 270.6,368.4 269.8,364.8" fill="#111"/><line x1="264.8" y1="471.4" x2="271.8" y2="469.2" stroke="#111" stroke-width="1.1"/><polygon points="275,468.3 270.8,471.2 270.2,467.4" fill="#111"/><text x="281.8" y="310" font-size="6.0" fill="#333" text-anchor="middle">1</text><text x="281" y="324.8" font-size="6.0" fill="#333" text-anchor="middle">1</text><text x="269.2" y="431.8" font-size="6.0" fill="#333" text-anchor="middle">1</text><text x="276" y="441.1" font-size="6.0" fill="#333" text-anchor="middle">1</text><text x="280.7" y="448.4" font-size="6.0" fill="#333" text-anchor="middle">1</text><text x="264.4" y="460.4" font-size="6.0" fill="#333" text-anchor="middle">1</text><text x="230.7" y="509.8" font-size="6.0" fill="#333" text-anchor="middle">1</text><text x="239" y="528.1" font-size="6.0" fill="#333" text-anchor="middle">1</text><text x="279" y="380.6" font-size="6.0" fill="#333" text-anchor="middle">1</text><line x1="199.1" y1="533.9" x2="288" y2="533.9" stroke="#222" stroke-width="1.2"/><line x1="199.1" y1="533.9" x2="199.1" y2="536.4" stroke="#222" stroke-width="1.1"/><text x="199.1" y="545.9" font-size="7.4" fill="#1a1a1a" text-anchor="middle" textLength="13.2" lengthAdjust="spacingAndGlyphs" stroke="#1a1a1a" stroke-width="0.15">2016</text><line x1="216.87" y1="533.9" x2="216.87" y2="536.4" stroke="#222" stroke-width="1.1"/><text x="216.87" y="545.9" font-size="7.4" fill="#1a1a1a" text-anchor="middle" textLength="13.2" lengthAdjust="spacingAndGlyphs" stroke="#1a1a1a" stroke-width="0.15">2017</text><line x1="234.64" y1="533.9" x2="234.64" y2="536.4" stroke="#222" stroke-width="1.1"/><text x="234.64" y="545.9" font-size="7.4" fill="#1a1a1a" text-anchor="middle" textLength="13.2" lengthAdjust="spacingAndGlyphs" stroke="#1a1a1a" stroke-width="0.15">2018</text><line x1="252.41" y1="533.9" x2="252.41" y2="536.4" stroke="#222" stroke-width="1.1"/><text x="252.41" y="545.9" font-size="7.4" fill="#1a1a1a" text-anchor="middle" textLength="13.2" lengthAdjust="spacingAndGlyphs" stroke="#1a1a1a" stroke-width="0.15">2019</text><line x1="270.18" y1="533.9" x2="270.18" y2="536.4" stroke="#222" stroke-width="1.1"/><text x="270.18" y="545.9" font-size="7.4" fill="#1a1a1a" text-anchor="middle" textLength="13.2" lengthAdjust="spacingAndGlyphs" stroke="#1a1a1a" stroke-width="0.15">2020</text><line x1="287.95" y1="533.9" x2="287.95" y2="536.4" stroke="#222" stroke-width="1.1"/><text x="287.95" y="545.9" font-size="7.4" fill="#1a1a1a" text-anchor="middle" textLength="13.2" lengthAdjust="spacingAndGlyphs" stroke="#1a1a1a" stroke-width="0.15">2021</text><polygon points="282.8,529.2 287,529.2 284.9,533.1" fill="#5aa55a"/><rect x="455" y="306.1" width="2.9" height="167.9" fill="#5e9e62"/><text x="0" y="0" font-size="7.2" fill="#1a1a1a" textLength="35" lengthAdjust="spacingAndGlyphs" stroke="#1a1a1a" stroke-width="0.12" transform="translate(464.2 371.3) rotate(90)">subgroup 8</text></svg></body></html>
